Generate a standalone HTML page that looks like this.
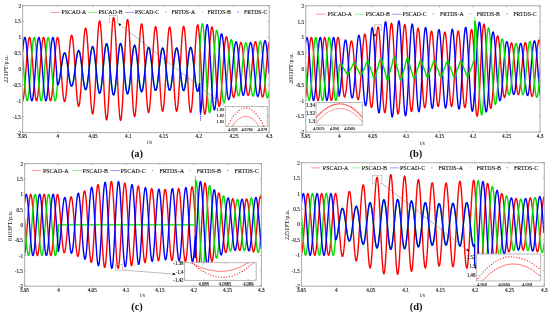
<!DOCTYPE html>
<html><head><meta charset="utf-8"><title>Figure</title>
<style>html,body{margin:0;padding:0;background:#fff;}body{width:550px;height:315px;overflow:hidden;}svg{display:block;filter:blur(0.3px);}</style>
</head><body>
<svg width="550" height="315" viewBox="0 0 550 315"><rect width="550" height="315" fill="#fff"/><clipPath id="ca"><rect x="22.6" y="5.6" width="246.6" height="127.0"/></clipPath><g clip-path="url(#ca)"><polyline points="22.6,100.8 23.0,100.2 23.4,98.5 23.8,95.9 24.2,92.4 24.6,88.2 25.0,83.3 25.4,78.1 25.8,72.5 26.2,66.8 26.6,61.2 27.0,55.8 27.4,50.9 27.8,46.5 28.2,42.9 28.6,40.1 29.0,38.3 29.4,37.4 29.8,37.6 30.2,38.7 30.6,40.9 31.0,43.9 31.4,47.8 31.8,52.3 32.2,57.4 32.6,62.8 33.0,68.5 33.4,74.2 33.8,79.7 34.2,84.9 34.6,89.5 35.0,93.5 35.4,96.8 35.8,99.1 36.2,100.5 36.6,100.8 37.0,100.2 37.4,98.5 37.8,96.0 38.2,92.5 38.6,88.3 39.0,83.5 39.4,78.2 39.8,72.6 40.2,66.9 40.6,61.3 41.0,55.9 41.4,51.0 41.8,46.6 42.2,43.0 42.6,40.2 43.0,38.3 43.4,37.4 43.8,37.5 44.2,38.7 44.6,40.8 45.0,43.8 45.4,47.7 45.8,52.2 46.2,57.3 46.6,62.7 47.0,68.4 47.4,74.0 47.8,79.5 48.2,84.7 48.6,89.4 49.0,93.4 49.4,96.7 49.8,99.0 50.2,100.4 50.6,100.8 51.0,100.2 51.4,98.6 51.8,96.0 52.2,92.6 52.6,88.4 53.0,83.6 53.4,78.3 53.8,72.8 54.2,67.1 54.6,61.5 55.0,56.1 55.4,51.1 55.8,46.7 56.2,43.1 56.6,40.2 56.6,40.2 57.0,38.3 57.4,37.4 57.8,37.5 58.2,38.5 58.6,40.6 59.0,43.6 59.4,47.4 59.8,51.9 60.2,57.0 60.6,62.5 61.0,68.2 61.4,74.0 61.8,79.6 62.2,84.8 62.6,89.6 63.0,93.8 63.4,97.2 63.8,99.6 64.2,101.1 64.6,101.6 65.0,101.0 65.4,99.4 65.8,96.9 66.2,93.4 66.6,89.2 67.0,84.3 67.4,78.8 67.8,73.1 68.2,67.1 68.6,61.2 69.0,55.6 69.4,50.3 69.8,45.6 70.2,41.6 70.6,38.5 71.0,36.4 71.4,35.3 71.8,35.3 72.2,36.3 72.6,38.4 73.0,41.4 73.4,45.4 73.8,50.2 74.2,55.7 74.6,61.7 75.0,67.9 75.4,74.3 75.8,80.6 76.2,86.6 76.6,92.1 77.0,96.9 77.4,100.8 77.8,103.8 78.2,105.7 78.6,106.4 79.0,105.9 79.4,104.3 79.8,101.5 80.2,97.6 80.6,92.7 81.0,87.0 81.4,80.7 81.8,73.9 82.2,66.9 82.6,59.9 83.0,53.2 83.4,46.8 83.8,41.1 84.2,36.3 84.6,32.5 85.0,29.8 85.4,28.3 85.8,28.2 86.2,29.3 86.6,31.8 87.0,35.5 87.4,40.3 87.8,46.1 88.2,52.7 88.6,59.9 89.0,67.5 89.4,75.2 89.8,82.8 90.2,90.0 90.6,96.7 91.0,102.5 91.4,107.3 91.8,110.9 92.2,113.1 92.6,114.0 93.0,113.4 93.4,111.4 93.8,108.0 94.2,103.3 94.6,97.5 95.0,90.7 95.4,83.2 95.8,75.1 96.2,66.7 96.6,58.4 97.0,50.4 97.4,42.8 97.8,36.1 98.2,30.4 98.6,25.8 99.0,22.7 99.4,21.0 99.8,20.9 100.2,22.3 100.6,25.3 101.0,29.7 101.4,35.4 101.8,42.2 102.2,49.9 102.6,58.3 103.0,67.0 103.4,75.9 103.8,84.7 104.2,92.9 104.6,100.5 105.0,107.1 105.4,112.5 105.8,116.5 106.2,119.1 106.6,119.9 107.0,119.2 107.4,116.8 107.8,112.8 108.2,107.5 108.6,100.9 109.0,93.3 109.4,84.9 109.8,75.9 110.2,66.7 110.6,57.6 111.0,48.8 111.4,40.7 111.8,33.5 112.2,27.3 112.6,22.6 113.0,19.3 113.4,17.6 113.8,17.6 114.2,19.2 114.6,22.5 115.0,27.3 115.4,33.4 115.8,40.6 116.2,48.8 116.6,57.6 117.0,66.7 117.4,76.0 117.8,85.0 118.2,93.5 118.6,101.2 119.0,107.8 119.4,113.2 119.8,117.2 120.2,119.7 120.6,120.5 121.0,119.6 121.4,117.1 121.8,113.0 122.2,107.6 122.6,101.0 123.0,93.3 123.4,84.9 123.8,76.1 124.2,67.0 124.6,58.0 125.0,49.5 125.4,41.6 125.8,34.6 126.2,28.7 126.6,24.2 127.0,21.1 127.4,19.5 127.8,19.6 128.2,21.3 128.6,24.5 129.0,29.1 129.4,35.0 129.8,41.9 130.2,49.6 130.6,58.0 131.0,66.6 131.4,75.3 131.8,83.8 132.2,91.7 132.6,98.9 133.0,105.1 133.4,110.0 133.8,113.7 134.2,115.9 134.6,116.6 135.0,115.8 135.4,113.5 135.8,109.7 136.2,104.7 136.6,98.6 137.0,91.6 137.4,83.9 137.8,75.7 138.2,67.4 138.6,59.2 139.0,51.3 139.4,44.1 139.8,37.6 140.2,32.3 140.6,28.1 141.0,25.3 141.4,23.9 141.8,23.9 142.2,25.4 142.6,28.3 143.0,32.5 143.4,37.8 143.8,44.1 144.2,51.2 144.6,58.8 145.0,66.7 145.4,74.6 145.8,82.3 146.2,89.6 146.6,96.2 147.0,101.8 147.4,106.4 147.8,109.8 148.2,111.8 148.6,112.6 149.0,111.9 149.4,109.9 149.8,106.5 150.2,102.0 150.6,96.4 151.0,90.0 151.4,82.9 151.8,75.4 152.2,67.7 152.6,60.1 153.0,52.7 153.4,46.0 153.8,39.9 154.2,34.9 154.6,30.9 155.0,28.2 155.4,26.8 155.8,26.7 156.2,28.0 156.6,30.6 157.0,34.4 157.4,39.3 157.8,45.2 158.2,51.9 158.6,59.1 159.0,66.6 159.4,74.2 159.8,81.6 160.2,88.6 160.6,95.0 161.0,100.5 161.4,105.1 161.8,108.4 162.2,110.5 162.6,111.3 163.0,110.8 163.4,108.9 163.8,105.7 164.2,101.3 164.6,96.0 165.0,89.7 165.4,82.8 165.8,75.5 166.2,67.9 166.6,60.4 167.0,53.2 167.4,46.4 167.8,40.5 168.2,35.4 168.6,31.4 169.0,28.6 169.4,27.1 169.8,27.0 170.2,28.2 170.6,30.7 171.0,34.5 171.4,39.4 171.8,45.2 172.2,51.8 172.6,58.9 173.0,66.4 173.4,74.0 173.8,81.4 174.2,88.4 174.6,94.8 175.0,100.3 175.4,104.9 175.8,108.3 176.2,110.5 176.6,111.3 177.0,110.8 177.4,109.0 177.8,105.9 178.2,101.6 178.6,96.2 179.0,90.0 179.4,83.1 179.8,75.7 180.2,68.1 180.6,60.5 181.0,53.2 181.4,46.4 181.8,40.3 182.2,35.1 182.6,31.0 183.0,28.1 183.4,26.5 183.8,26.3 184.2,27.5 184.6,30.0 185.0,33.8 185.4,38.7 185.8,44.6 186.2,51.3 186.6,58.5 187.0,66.2 187.4,73.9 187.8,81.5 188.2,88.7 188.6,95.3 189.0,101.0 189.4,105.8 189.8,109.4 190.2,111.6 190.6,112.6 191.0,112.1 191.4,110.3 191.8,107.1 192.2,102.7 192.6,97.2 193.0,90.8 193.4,83.7 193.8,76.1 194.2,68.3 194.6,60.4 195.0,52.9 195.4,45.8 195.8,39.4 196.2,34.0 196.6,29.8 197.0,26.7 197.4,25.1 197.8,24.8 198.2,25.9 198.6,28.5 199.0,32.3 199.4,37.4 199.6,40.3 199.6,39.8 200.0,46.3 200.4,53.4 200.8,61.0 201.2,68.9 201.6,76.7 202.0,84.3 202.4,91.5 202.8,98.0 203.2,103.5 203.6,108.1 204.0,111.4 204.4,113.4 204.8,114.2 205.2,113.5 205.6,111.5 206.0,108.3 206.4,103.8 206.8,98.4 207.2,92.0 207.6,84.9 208.0,77.5 208.4,69.8 208.8,62.2 209.2,54.9 209.6,48.0 210.0,41.8 210.4,36.6 210.8,32.3 211.2,29.2 211.6,27.4 212.0,26.8 212.4,27.5 212.8,29.5 213.2,32.7 213.6,36.8 214.0,42.0 214.4,47.8 214.8,54.3 215.2,61.1 215.6,68.0 216.0,74.9 216.4,81.4 216.8,87.5 217.2,93.0 217.6,97.7 218.0,101.5 218.4,104.2 218.8,105.9 219.2,106.4 219.6,105.8 220.0,104.0 220.4,101.2 220.8,97.5 221.2,93.0 221.6,87.9 222.0,82.3 222.4,76.4 222.8,70.4 223.2,64.4 223.6,58.7 224.0,53.4 224.4,48.6 224.8,44.4 225.2,41.1 225.6,38.7 226.0,37.2 226.4,36.7 226.8,37.2 227.2,38.7 227.6,41.1 228.0,44.3 228.4,48.1 228.8,52.6 229.2,57.4 229.6,62.4 230.0,67.6 230.4,72.8 230.8,77.8 231.2,82.5 231.6,86.8 232.0,90.4 232.4,93.3 232.8,95.5 233.2,96.9 233.6,97.4 234.0,97.0 234.4,95.8 234.8,93.9 235.2,91.3 235.6,88.0 236.0,84.2 236.4,79.9 236.8,75.4 237.2,70.7 237.6,66.0 238.0,61.4 238.4,57.1 238.8,53.2 239.2,49.7 239.6,46.9 240.0,44.7 240.4,43.2 240.8,42.5 241.2,42.6 241.6,43.6 242.0,45.3 242.4,47.8 242.8,50.8 243.2,54.4 243.6,58.5 244.0,62.8 244.4,67.3 244.8,71.8 245.2,76.3 245.6,80.6 246.0,84.5 246.4,88.0 246.8,90.9 247.2,93.1 247.6,94.6 248.0,95.4 248.4,95.3 248.8,94.5 249.2,92.9 249.6,90.6 250.0,87.7 250.4,84.2 250.8,80.2 251.2,75.9 251.6,71.3 252.0,66.6 252.4,62.0 252.8,57.6 253.2,53.5 253.6,49.8 254.0,46.7 254.4,44.3 254.8,42.6 255.2,41.7 255.6,41.6 256.0,42.5 256.4,44.1 256.8,46.5 257.2,49.6 257.6,53.3 258.0,57.4 258.4,61.9 258.8,66.6 259.2,71.3 259.6,76.1 260.0,80.7 260.4,84.9 260.8,88.7 261.2,91.8 261.6,94.3 262.0,96.0 262.4,96.9 262.8,97.0 263.2,96.2 263.6,94.7 264.0,92.4 264.4,89.4 264.8,85.7 265.2,81.5 265.6,76.9 266.0,72.1 266.4,67.1 266.8,62.1 267.2,57.4 267.6,53.0 268.0,49.1 268.4,45.8 268.8,43.2 269.0,42.2" fill="none" stroke="#f00" stroke-width="1.4" stroke-linejoin="round" /><polyline points="22.6,54.0 23.0,59.3 23.4,64.8 23.8,70.5 24.2,76.1 24.6,81.5 25.0,86.6 25.4,91.0 25.8,94.8 26.2,97.7 26.6,99.7 27.0,100.7 27.4,100.7 27.8,99.7 28.2,97.7 28.6,94.8 29.0,91.1 29.4,86.7 29.8,81.7 30.2,76.3 30.6,70.6 31.0,64.9 31.4,59.4 31.8,54.2 32.2,49.4 32.6,45.3 33.0,41.9 33.4,39.4 33.8,37.9 34.2,37.4 34.6,37.8 35.0,39.3 35.4,41.8 35.8,45.1 36.2,49.2 36.6,53.9 37.0,59.1 37.4,64.7 37.8,70.3 38.2,76.0 38.6,81.4 39.0,86.4 39.4,90.9 39.8,94.7 40.2,97.6 40.6,99.6 41.0,100.7 41.4,100.7 41.8,99.8 42.2,97.8 42.6,94.9 43.0,91.2 43.4,86.8 43.8,81.8 44.2,76.4 44.6,70.8 45.0,65.1 45.4,59.5 45.8,54.3 46.2,49.5 46.6,45.4 47.0,42.0 47.4,39.5 47.8,37.9 48.2,37.4 48.6,37.8 49.0,39.3 49.4,41.7 49.8,45.0 50.2,49.1 50.6,53.8 51.0,59.0 51.4,64.5 51.8,70.2 52.2,75.8 52.6,81.3 53.0,86.3 53.4,90.8 53.8,94.6 54.2,97.6 54.6,99.6 55.0,100.7 55.4,100.8 55.8,99.8 56.2,97.9 56.6,95.0 56.6,95.0 57.0,89.5 57.4,85.5 57.8,84.9 58.2,84.4 58.6,83.3 59.0,81.9 59.4,79.9 59.8,77.7 60.2,75.1 60.6,72.4 61.0,69.6 61.4,66.7 61.8,63.9 62.2,61.2 62.6,58.8 63.0,56.8 63.4,55.1 63.8,53.8 64.2,53.1 64.6,52.9 65.0,53.1 65.4,53.9 65.8,55.2 66.2,56.9 66.6,59.1 67.0,61.5 67.4,64.2 67.8,67.1 68.2,70.1 68.6,73.0 69.0,75.9 69.4,78.5 69.8,80.9 70.2,82.8 70.6,84.4 71.0,85.4 71.4,86.0 71.8,86.0 72.2,85.5 72.6,84.5 73.0,82.9 73.4,80.9 73.8,78.5 74.2,75.8 74.6,72.8 75.0,69.7 75.4,66.5 75.8,63.3 76.2,60.4 76.6,57.6 77.0,55.2 77.4,53.2 77.8,51.7 78.2,50.8 78.6,50.4 79.0,50.7 79.4,51.5 79.8,52.9 80.2,54.9 80.6,57.3 81.0,60.1 81.4,63.3 81.8,66.7 82.2,70.2 82.6,73.7 83.0,77.1 83.4,80.2 83.8,83.1 84.2,85.5 84.6,87.4 85.0,88.8 85.4,89.5 85.8,89.6 86.2,89.0 86.6,87.7 87.0,85.9 87.4,83.5 87.8,80.6 88.2,77.3 88.6,73.7 89.0,69.9 89.4,66.0 89.8,62.2 90.2,58.6 90.6,55.3 91.0,52.4 91.4,50.0 91.8,48.2 92.2,47.1 92.6,46.6 93.0,46.9 93.4,47.9 93.8,49.6 94.2,52.0 94.6,54.9 95.0,58.3 95.4,62.1 95.8,66.1 96.2,70.3 96.6,74.4 97.0,78.5 97.4,82.2 97.8,85.6 98.2,88.5 98.6,90.7 99.0,92.3 99.4,93.2 99.8,93.2 100.2,92.5 100.6,91.0 101.0,88.8 101.4,86.0 101.8,82.6 102.2,78.7 102.6,74.5 103.0,70.1 103.4,65.7 103.8,61.3 104.2,57.2 104.6,53.4 105.0,50.1 105.4,47.4 105.8,45.4 106.2,44.1 106.6,43.7 107.0,44.1 107.4,45.3 107.8,47.2 108.2,49.9 108.6,53.2 109.0,57.0 109.4,61.2 109.8,65.7 110.2,70.3 110.6,74.8 111.0,79.2 111.4,83.3 111.8,86.9 112.2,90.0 112.6,92.4 113.0,94.0 113.4,94.9 113.8,94.9 114.2,94.0 114.6,92.4 115.0,90.0 115.4,87.0 115.8,83.3 116.2,79.3 116.6,74.9 117.0,70.3 117.4,65.7 117.8,61.2 118.2,56.9 118.6,53.1 119.0,49.7 119.4,47.0 119.8,45.0 120.2,43.8 120.6,43.4 121.0,43.9 121.4,45.1 121.8,47.1 122.2,49.9 122.6,53.2 123.0,57.0 123.4,61.2 123.8,65.6 124.2,70.1 124.6,74.6 125.0,78.9 125.4,82.9 125.8,86.4 126.2,89.3 126.6,91.6 127.0,93.1 127.4,93.9 127.8,93.8 128.2,93.0 128.6,91.4 129.0,89.1 129.4,86.2 129.8,82.7 130.2,78.8 130.6,74.7 131.0,70.3 131.4,66.0 131.8,61.8 132.2,57.8 132.6,54.2 133.0,51.1 133.4,48.6 133.8,46.8 134.2,45.7 134.6,45.3 135.0,45.8 135.4,46.9 135.8,48.8 136.2,51.3 136.6,54.3 137.0,57.9 137.4,61.7 137.8,65.8 138.2,70.0 138.6,74.1 139.0,78.0 139.4,81.6 139.8,84.8 140.2,87.5 140.6,89.6 141.0,91.0 141.4,91.7 141.8,91.7 142.2,90.9 142.6,89.5 143.0,87.4 143.4,84.8 143.8,81.6 144.2,78.1 144.6,74.3 145.0,70.3 145.4,66.3 145.8,62.5 146.2,58.9 146.6,55.6 147.0,52.7 147.4,50.4 147.8,48.8 148.2,47.7 148.6,47.4 149.0,47.7 149.4,48.7 149.8,50.4 150.2,52.7 150.6,55.4 151.0,58.7 151.4,62.2 151.8,66.0 152.2,69.8 152.6,73.6 153.0,77.3 153.4,80.7 153.8,83.7 154.2,86.2 154.6,88.2 155.0,89.6 155.4,90.3 155.8,90.3 156.2,89.7 156.6,88.4 157.0,86.5 157.4,84.0 157.8,81.0 158.2,77.7 158.6,74.1 159.0,70.4 159.4,66.6 159.8,62.9 160.2,59.4 160.6,56.2 161.0,53.4 161.4,51.1 161.8,49.4 162.2,48.4 162.6,48.0 163.0,48.3 163.4,49.2 163.8,50.8 164.2,53.0 164.6,55.7 165.0,58.8 165.4,62.2 165.8,65.9 166.2,69.7 166.6,73.4 167.0,77.1 167.4,80.4 167.8,83.4 168.2,86.0 168.6,88.0 169.0,89.3 169.4,90.1 169.8,90.2 170.2,89.6 170.6,88.3 171.0,86.4 171.4,84.0 171.8,81.1 172.2,77.8 172.6,74.2 173.0,70.4 173.4,66.7 173.8,63.0 174.2,59.5 174.6,56.3 175.0,53.5 175.4,51.2 175.8,49.5 176.2,48.4 176.6,48.0 177.0,48.2 177.4,49.2 177.8,50.7 178.2,52.9 178.6,55.5 179.0,58.7 179.4,62.1 179.8,65.8 180.2,69.6 180.6,73.4 181.0,77.0 181.4,80.5 181.8,83.5 182.2,86.1 182.6,88.2 183.0,89.6 183.4,90.4 183.8,90.5 184.2,89.9 184.6,88.6 185.0,86.8 185.4,84.3 185.8,81.4 186.2,78.0 186.6,74.4 187.0,70.6 187.4,66.7 187.8,62.9 188.2,59.3 188.6,56.0 189.0,53.1 189.4,50.8 189.8,49.0 190.2,47.8 190.6,47.4 191.0,47.6 191.4,48.5 191.8,50.1 192.2,52.3 192.6,55.0 193.0,58.2 193.4,61.8 193.8,65.6 194.2,69.5 194.6,73.4 195.0,77.2 195.4,80.8 195.8,83.9 196.2,86.6 196.6,88.8 197.0,90.3 197.4,91.1 197.8,91.3 198.2,90.7 198.6,89.4 199.0,87.5 199.4,85.0 199.6,83.5 199.6,53.7 200.0,46.5 200.4,40.1 200.8,34.5 201.2,29.9 201.6,26.5 202.0,24.4 202.4,23.7 202.8,24.4 203.2,26.4 203.6,29.7 204.0,34.2 204.4,39.7 204.8,46.1 205.2,53.2 205.6,60.8 206.0,68.5 206.4,76.3 206.8,83.8 207.2,90.9 207.6,97.2 208.0,102.6 208.4,106.9 208.8,110.1 209.2,112.1 209.6,112.7 210.0,112.0 210.4,110.0 210.8,106.7 211.2,102.4 211.6,97.1 212.0,91.0 212.4,84.4 212.8,77.3 213.2,70.1 213.6,62.9 214.0,56.0 214.4,49.6 214.8,43.9 215.2,39.1 215.6,35.2 216.0,32.5 216.4,30.8 216.8,30.3 217.2,30.9 217.6,32.7 218.0,35.6 218.4,39.4 218.8,44.0 219.2,49.4 219.6,55.3 220.0,61.5 220.4,67.8 220.8,74.1 221.2,80.1 221.6,85.7 222.0,90.7 222.4,94.9 222.8,98.4 223.2,100.9 223.6,102.4 224.0,102.9 224.4,102.4 224.8,100.9 225.2,98.5 225.6,95.2 226.0,91.2 226.4,86.5 226.8,81.4 227.2,76.0 227.6,70.5 228.0,65.1 228.4,59.9 228.8,55.1 229.2,50.7 229.6,47.0 230.0,43.9 230.4,41.6 230.8,40.2 231.2,39.6 231.6,40.0 232.0,41.3 232.4,43.3 232.8,46.2 233.2,49.6 233.6,53.6 234.0,58.1 234.4,62.7 234.8,67.5 235.2,72.4 235.6,77.0 236.0,81.4 236.4,85.4 236.8,88.9 237.2,91.8 237.6,93.9 238.0,95.3 238.4,95.9 238.8,95.7 239.2,94.7 239.6,93.0 240.0,90.6 240.4,87.5 240.8,83.9 241.2,79.8 241.6,75.4 242.0,70.9 242.4,66.3 242.8,61.8 243.2,57.6 243.6,53.7 244.0,50.3 244.4,47.5 244.8,45.3 245.2,43.7 245.6,42.9 246.0,42.9 246.4,43.7 246.8,45.4 247.2,47.7 247.6,50.7 248.0,54.2 248.4,58.2 248.8,62.5 249.2,67.0 249.6,71.6 250.0,76.2 250.4,80.5 250.8,84.5 251.2,88.1 251.6,91.2 252.0,93.5 252.4,95.2 252.8,96.1 253.2,96.1 253.6,95.4 254.0,93.8 254.4,91.5 254.8,88.5 255.2,84.9 255.6,80.8 256.0,76.3 256.4,71.5 256.8,66.8 257.2,62.1 257.6,57.6 258.0,53.5 258.4,49.9 258.8,46.8 259.2,44.3 259.6,42.5 260.0,41.5 260.4,41.3 260.8,42.1 261.2,43.7 261.6,46.1 262.0,49.1 262.4,52.8 262.8,57.0 263.2,61.5 263.6,66.3 264.0,71.2 264.4,76.1 264.8,80.7 265.2,85.1 265.6,89.0 266.0,92.3 266.4,94.9 266.8,96.7 267.2,97.7 267.6,97.8 268.0,97.1 268.4,95.5 268.8,93.1 269.0,91.6" fill="none" stroke="#0d0" stroke-width="1.4" stroke-linejoin="round" /><polyline points="22.6,52.4 23.0,47.9 23.4,44.0 23.8,40.9 24.2,38.8 24.6,37.6 25.0,37.4 25.4,38.2 25.8,40.1 26.2,42.8 26.6,46.4 27.0,50.8 27.4,55.7 27.8,61.0 28.2,66.6 28.6,72.3 29.0,77.9 29.4,83.2 29.8,88.1 30.2,92.3 30.6,95.8 31.0,98.4 31.4,100.1 31.8,100.8 32.2,100.5 32.6,99.2 33.0,96.9 33.4,93.7 33.8,89.7 34.2,85.1 34.6,79.9 35.0,74.4 35.4,68.8 35.8,63.1 36.2,57.7 36.6,52.6 37.0,48.0 37.4,44.1 37.8,41.0 38.2,38.8 38.6,37.6 39.0,37.4 39.4,38.2 39.8,40.0 40.2,42.8 40.6,46.3 41.0,50.7 41.4,55.6 41.8,60.9 42.2,66.5 42.6,72.2 43.0,77.8 43.4,83.1 43.8,88.0 44.2,92.2 44.6,95.7 45.0,98.4 45.4,100.1 45.8,100.8 46.2,100.5 46.6,99.2 47.0,97.0 47.4,93.8 47.8,89.8 48.2,85.2 48.6,80.1 49.0,74.6 49.4,68.9 49.8,63.3 50.2,57.8 50.6,52.7 51.0,48.1 51.4,44.2 51.8,41.1 52.2,38.9 52.6,37.6 53.0,37.4 53.4,38.2 53.8,40.0 54.2,42.7 54.6,46.2 55.0,50.5 55.4,55.4 55.8,60.8 56.2,66.4 56.6,72.1 56.6,72.1 57.0,79.4 57.4,84.4 57.8,84.9 58.2,84.4 58.6,83.3 59.0,81.9 59.4,79.9 59.8,77.7 60.2,75.1 60.6,72.4 61.0,69.6 61.4,66.7 61.8,63.9 62.2,61.2 62.6,58.8 63.0,56.8 63.4,55.1 63.8,53.8 64.2,53.1 64.6,52.9 65.0,53.1 65.4,53.9 65.8,55.2 66.2,56.9 66.6,59.1 67.0,61.5 67.4,64.2 67.8,67.1 68.2,70.1 68.6,73.0 69.0,75.9 69.4,78.5 69.8,80.9 70.2,82.8 70.6,84.4 71.0,85.4 71.4,86.0 71.8,86.0 72.2,85.5 72.6,84.5 73.0,82.9 73.4,80.9 73.8,78.5 74.2,75.8 74.6,72.8 75.0,69.7 75.4,66.5 75.8,63.3 76.2,60.4 76.6,57.6 77.0,55.2 77.4,53.2 77.8,51.7 78.2,50.8 78.6,50.4 79.0,50.7 79.4,51.5 79.8,52.9 80.2,54.9 80.6,57.3 81.0,60.1 81.4,63.3 81.8,66.7 82.2,70.2 82.6,73.7 83.0,77.1 83.4,80.2 83.8,83.1 84.2,85.5 84.6,87.4 85.0,88.8 85.4,89.5 85.8,89.6 86.2,89.0 86.6,87.7 87.0,85.9 87.4,83.5 87.8,80.6 88.2,77.3 88.6,73.7 89.0,69.9 89.4,66.0 89.8,62.2 90.2,58.6 90.6,55.3 91.0,52.4 91.4,50.0 91.8,48.2 92.2,47.1 92.6,46.6 93.0,46.9 93.4,47.9 93.8,49.6 94.2,52.0 94.6,54.9 95.0,58.3 95.4,62.1 95.8,66.1 96.2,70.3 96.6,74.4 97.0,78.5 97.4,82.2 97.8,85.6 98.2,88.5 98.6,90.7 99.0,92.3 99.4,93.2 99.8,93.2 100.2,92.5 100.6,91.0 101.0,88.8 101.4,86.0 101.8,82.6 102.2,78.7 102.6,74.5 103.0,70.1 103.4,65.7 103.8,61.3 104.2,57.2 104.6,53.4 105.0,50.1 105.4,47.4 105.8,45.4 106.2,44.1 106.6,43.7 107.0,44.1 107.4,45.3 107.8,47.2 108.2,49.9 108.6,53.2 109.0,57.0 109.4,61.2 109.8,65.7 110.2,70.3 110.6,74.8 111.0,79.2 111.4,83.3 111.8,86.9 112.2,90.0 112.6,92.4 113.0,94.0 113.4,94.9 113.8,94.9 114.2,94.0 114.6,92.4 115.0,90.0 115.4,87.0 115.8,83.3 116.2,79.3 116.6,74.9 117.0,70.3 117.4,65.7 117.8,61.2 118.2,56.9 118.6,53.1 119.0,49.7 119.4,47.0 119.8,45.0 120.2,43.8 120.6,43.4 121.0,43.9 121.4,45.1 121.8,47.1 122.2,49.9 122.6,53.2 123.0,57.0 123.4,61.2 123.8,65.6 124.2,70.1 124.6,74.6 125.0,78.9 125.4,82.9 125.8,86.4 126.2,89.3 126.6,91.6 127.0,93.1 127.4,93.9 127.8,93.8 128.2,93.0 128.6,91.4 129.0,89.1 129.4,86.2 129.8,82.7 130.2,78.8 130.6,74.7 131.0,70.3 131.4,66.0 131.8,61.8 132.2,57.8 132.6,54.2 133.0,51.1 133.4,48.6 133.8,46.8 134.2,45.7 134.6,45.3 135.0,45.8 135.4,46.9 135.8,48.8 136.2,51.3 136.6,54.3 137.0,57.9 137.4,61.7 137.8,65.8 138.2,70.0 138.6,74.1 139.0,78.0 139.4,81.6 139.8,84.8 140.2,87.5 140.6,89.6 141.0,91.0 141.4,91.7 141.8,91.7 142.2,90.9 142.6,89.5 143.0,87.4 143.4,84.8 143.8,81.6 144.2,78.1 144.6,74.3 145.0,70.3 145.4,66.3 145.8,62.5 146.2,58.9 146.6,55.6 147.0,52.7 147.4,50.4 147.8,48.8 148.2,47.7 148.6,47.4 149.0,47.7 149.4,48.7 149.8,50.4 150.2,52.7 150.6,55.4 151.0,58.7 151.4,62.2 151.8,66.0 152.2,69.8 152.6,73.6 153.0,77.3 153.4,80.7 153.8,83.7 154.2,86.2 154.6,88.2 155.0,89.6 155.4,90.3 155.8,90.3 156.2,89.7 156.6,88.4 157.0,86.5 157.4,84.0 157.8,81.0 158.2,77.7 158.6,74.1 159.0,70.4 159.4,66.6 159.8,62.9 160.2,59.4 160.6,56.2 161.0,53.4 161.4,51.1 161.8,49.4 162.2,48.4 162.6,48.0 163.0,48.3 163.4,49.2 163.8,50.8 164.2,53.0 164.6,55.7 165.0,58.8 165.4,62.2 165.8,65.9 166.2,69.7 166.6,73.4 167.0,77.1 167.4,80.4 167.8,83.4 168.2,86.0 168.6,88.0 169.0,89.3 169.4,90.1 169.8,90.2 170.2,89.6 170.6,88.3 171.0,86.4 171.4,84.0 171.8,81.1 172.2,77.8 172.6,74.2 173.0,70.4 173.4,66.7 173.8,63.0 174.2,59.5 174.6,56.3 175.0,53.5 175.4,51.2 175.8,49.5 176.2,48.4 176.6,48.0 177.0,48.2 177.4,49.2 177.8,50.7 178.2,52.9 178.6,55.5 179.0,58.7 179.4,62.1 179.8,65.8 180.2,69.6 180.6,73.4 181.0,77.0 181.4,80.5 181.8,83.5 182.2,86.1 182.6,88.2 183.0,89.6 183.4,90.4 183.8,90.5 184.2,89.9 184.6,88.6 185.0,86.8 185.4,84.3 185.8,81.4 186.2,78.0 186.6,74.4 187.0,70.6 187.4,66.7 187.8,62.9 188.2,59.3 188.6,56.0 189.0,53.1 189.4,50.8 189.8,49.0 190.2,47.8 190.6,47.4 191.0,47.6 191.4,48.5 191.8,50.1 192.2,52.3 192.6,55.0 193.0,58.2 193.4,61.8 193.8,65.6 194.2,69.5 194.6,73.4 195.0,77.2 195.4,80.8 195.8,83.9 196.2,86.6 196.6,88.8 197.0,90.3 197.4,91.1 197.8,91.3 198.2,90.7 198.6,89.4 199.0,87.5 199.4,85.0 199.6,83.5 200.3,111.3 200.6,113.0 201.0,110.3 201.4,106.4 201.8,101.4 202.2,95.4 202.6,88.6 203.0,81.2 203.4,73.4 203.8,65.6 204.2,57.9 204.6,50.5 205.0,43.7 205.4,37.7 205.8,32.6 206.2,28.7 206.6,26.0 207.0,24.6 207.4,24.7 207.8,26.1 208.2,28.7 208.6,32.6 209.0,37.6 209.4,43.4 209.8,50.0 210.2,57.1 210.6,64.5 211.0,72.0 211.4,79.3 211.8,86.2 212.2,92.5 212.6,98.1 213.0,102.7 213.4,106.2 213.8,108.6 214.2,109.7 214.6,109.7 215.0,108.3 215.4,105.7 215.8,102.1 216.2,97.6 216.6,92.3 217.0,86.5 217.4,80.2 217.8,73.6 218.2,67.0 218.6,60.5 219.0,54.4 219.4,48.8 219.8,43.9 220.2,39.9 220.6,36.9 221.0,34.8 221.4,33.9 221.8,33.9 222.2,35.0 222.6,37.1 223.0,40.1 223.4,44.0 223.8,48.5 224.2,53.6 224.6,59.1 225.0,64.8 225.4,70.6 225.8,76.2 226.2,81.6 226.6,86.5 227.0,90.7 227.4,94.2 227.8,96.9 228.2,98.7 228.6,99.6 229.0,99.5 229.4,98.6 229.8,96.9 230.2,94.4 230.6,91.1 231.0,87.3 231.4,82.9 231.8,78.1 232.2,73.1 232.6,68.1 233.0,63.2 233.4,58.5 233.8,54.2 234.2,50.4 234.6,47.2 235.0,44.7 235.4,42.9 235.8,41.9 236.2,41.7 236.6,42.4 237.0,43.8 237.4,46.0 237.8,48.9 238.2,52.3 238.6,56.3 239.0,60.6 239.4,65.1 239.8,69.7 240.2,74.3 240.6,78.8 241.0,82.9 241.4,86.6 241.8,89.8 242.2,92.3 242.6,94.1 243.0,95.1 243.4,95.3 243.8,94.8 244.2,93.4 244.6,91.5 245.0,88.9 245.4,85.7 245.8,81.9 246.2,77.8 246.6,73.3 247.0,68.8 247.4,64.2 247.8,59.8 248.2,55.7 248.6,52.0 249.0,48.8 249.4,46.1 249.8,44.1 250.2,42.9 250.6,42.5 251.0,42.8 251.4,44.0 251.8,45.9 252.2,48.5 252.6,51.8 253.0,55.6 253.4,59.9 253.8,64.4 254.2,69.1 254.6,73.9 255.0,78.5 255.4,82.9 255.8,86.8 256.2,90.2 256.6,92.9 257.0,94.9 257.4,96.1 257.8,96.5 258.2,96.1 258.6,94.8 259.0,92.9 259.4,90.3 259.8,87.0 260.2,83.2 260.6,78.9 261.0,74.2 261.4,69.4 261.8,64.5 262.2,59.8 262.6,55.4 263.0,51.4 263.4,47.8 263.8,44.9 264.2,42.7 264.6,41.2 265.0,40.6 265.4,40.9 265.8,42.1 266.2,44.1 266.6,46.8 267.0,50.3 267.4,54.3 267.8,58.7 268.2,63.5 268.6,68.5 269.0,73.5" fill="none" stroke="#00f" stroke-width="1.4" stroke-linejoin="round" /></g><rect x="22.6" y="5.6" width="246.6" height="127.0" fill="none" stroke="#b0b0b0" stroke-width="1.05"/><text transform="translate(22.60 137.70) scale(0.920 1)" font-size="5.70" text-anchor="middle" font-family="'Liberation Serif', serif" fill="#111" stroke="#111" stroke-width="0.12" font-weight="normal" >3.95</text><text transform="translate(57.83 137.70) scale(0.920 1)" font-size="5.70" text-anchor="middle" font-family="'Liberation Serif', serif" fill="#111" stroke="#111" stroke-width="0.12" font-weight="normal" >4</text><text transform="translate(93.06 137.70) scale(0.920 1)" font-size="5.70" text-anchor="middle" font-family="'Liberation Serif', serif" fill="#111" stroke="#111" stroke-width="0.12" font-weight="normal" >4.05</text><text transform="translate(128.29 137.70) scale(0.920 1)" font-size="5.70" text-anchor="middle" font-family="'Liberation Serif', serif" fill="#111" stroke="#111" stroke-width="0.12" font-weight="normal" >4.1</text><text transform="translate(163.51 137.70) scale(0.920 1)" font-size="5.70" text-anchor="middle" font-family="'Liberation Serif', serif" fill="#111" stroke="#111" stroke-width="0.12" font-weight="normal" >4.15</text><text transform="translate(198.74 137.70) scale(0.920 1)" font-size="5.70" text-anchor="middle" font-family="'Liberation Serif', serif" fill="#111" stroke="#111" stroke-width="0.12" font-weight="normal" >4.2</text><text transform="translate(233.97 137.70) scale(0.920 1)" font-size="5.70" text-anchor="middle" font-family="'Liberation Serif', serif" fill="#111" stroke="#111" stroke-width="0.12" font-weight="normal" >4.25</text><text transform="translate(269.20 137.70) scale(0.920 1)" font-size="5.70" text-anchor="middle" font-family="'Liberation Serif', serif" fill="#111" stroke="#111" stroke-width="0.12" font-weight="normal" >4.3</text><text transform="translate(21.00 7.60) scale(0.920 1)" font-size="5.70" text-anchor="end" font-family="'Liberation Serif', serif" fill="#111" stroke="#111" stroke-width="0.12" font-weight="normal" >2</text><text transform="translate(21.00 23.47) scale(0.920 1)" font-size="5.70" text-anchor="end" font-family="'Liberation Serif', serif" fill="#111" stroke="#111" stroke-width="0.12" font-weight="normal" >1.5</text><text transform="translate(21.00 39.35) scale(0.920 1)" font-size="5.70" text-anchor="end" font-family="'Liberation Serif', serif" fill="#111" stroke="#111" stroke-width="0.12" font-weight="normal" >1</text><text transform="translate(21.00 55.22) scale(0.920 1)" font-size="5.70" text-anchor="end" font-family="'Liberation Serif', serif" fill="#111" stroke="#111" stroke-width="0.12" font-weight="normal" >0.5</text><text transform="translate(21.00 71.10) scale(0.920 1)" font-size="5.70" text-anchor="end" font-family="'Liberation Serif', serif" fill="#111" stroke="#111" stroke-width="0.12" font-weight="normal" >0</text><text transform="translate(21.00 86.97) scale(0.920 1)" font-size="5.70" text-anchor="end" font-family="'Liberation Serif', serif" fill="#111" stroke="#111" stroke-width="0.12" font-weight="normal" >-0.5</text><text transform="translate(21.00 102.85) scale(0.920 1)" font-size="5.70" text-anchor="end" font-family="'Liberation Serif', serif" fill="#111" stroke="#111" stroke-width="0.12" font-weight="normal" >-1</text><text transform="translate(21.00 118.72) scale(0.920 1)" font-size="5.70" text-anchor="end" font-family="'Liberation Serif', serif" fill="#111" stroke="#111" stroke-width="0.12" font-weight="normal" >-1.5</text><text transform="translate(21.00 134.60) scale(0.920 1)" font-size="5.70" text-anchor="end" font-family="'Liberation Serif', serif" fill="#111" stroke="#111" stroke-width="0.12" font-weight="normal" >-2</text><path d="M22.6 132.6v-1.6M22.6 5.6v1.6 M57.8 132.6v-1.6M57.8 5.6v1.6 M93.1 132.6v-1.6M93.1 5.6v1.6 M128.3 132.6v-1.6M128.3 5.6v1.6 M163.5 132.6v-1.6M163.5 5.6v1.6 M198.7 132.6v-1.6M198.7 5.6v1.6 M234.0 132.6v-1.6M234.0 5.6v1.6 M269.2 132.6v-1.6M269.2 5.6v1.6 M22.6 5.6h1.6M269.2 5.6h-1.6 M22.6 21.5h1.6M269.2 21.5h-1.6 M22.6 37.3h1.6M269.2 37.3h-1.6 M22.6 53.2h1.6M269.2 53.2h-1.6 M22.6 69.1h1.6M269.2 69.1h-1.6 M22.6 85.0h1.6M269.2 85.0h-1.6 M22.6 100.8h1.6M269.2 100.8h-1.6 M22.6 116.7h1.6M269.2 116.7h-1.6 M22.6 132.6h1.6M269.2 132.6h-1.6" stroke="#999" stroke-width="0.6" fill="none"/><text x="8.0" y="69.0" font-size="6.20" text-anchor="middle" font-family="'Liberation Serif', serif" fill="#111" font-weight="normal" transform="rotate(-90 8.0 69.0)">221PT/p.u.</text><text x="149.7" y="143.7" font-size="5.20" text-anchor="middle" font-family="'Liberation Serif', serif" fill="#111" font-weight="normal" >t/s</text><text x="137.0" y="157.2" font-size="10.50" text-anchor="middle" font-family="'Liberation Serif', serif" fill="#111" font-weight="bold" >(a)</text><line x1="50.4" y1="12.4" x2="59.9" y2="12.4" stroke="#f00" stroke-width="0.9" stroke-opacity="0.45"/><text transform="translate(61.60 13.90) scale(0.910 1)" font-size="6.30" text-anchor="start" font-family="'Liberation Serif', serif" fill="#111" stroke="#111" stroke-width="0.12" font-weight="normal" >PSCAD-A</text><line x1="88.0" y1="12.4" x2="97.5" y2="12.4" stroke="#0d0" stroke-width="0.9" stroke-opacity="0.45"/><text transform="translate(98.40 13.90) scale(0.910 1)" font-size="6.30" text-anchor="start" font-family="'Liberation Serif', serif" fill="#111" stroke="#111" stroke-width="0.12" font-weight="normal" >PSCAD-B</text><line x1="125.0" y1="12.4" x2="134.5" y2="12.4" stroke="#00f" stroke-width="0.9" stroke-opacity="0.45"/><text transform="translate(135.00 13.90) scale(0.910 1)" font-size="6.30" text-anchor="start" font-family="'Liberation Serif', serif" fill="#111" stroke="#111" stroke-width="0.12" font-weight="normal" >PSCAD-C</text><circle cx="166.0" cy="12.2" r="0.75" fill="#f00" fill-opacity="0.5"/><text transform="translate(171.50 13.90) scale(0.910 1)" font-size="6.30" text-anchor="start" font-family="'Liberation Serif', serif" fill="#111" stroke="#111" stroke-width="0.12" font-weight="normal" >FRTDS-A</text><circle cx="202.6" cy="12.2" r="0.75" fill="#0d0" fill-opacity="0.5"/><text transform="translate(207.60 13.90) scale(0.910 1)" font-size="6.30" text-anchor="start" font-family="'Liberation Serif', serif" fill="#111" stroke="#111" stroke-width="0.12" font-weight="normal" >FRTDS-B</text><circle cx="238.3" cy="12.2" r="0.75" fill="#00f" fill-opacity="0.5"/><text transform="translate(244.00 13.90) scale(0.910 1)" font-size="6.30" text-anchor="start" font-family="'Liberation Serif', serif" fill="#111" stroke="#111" stroke-width="0.12" font-weight="normal" >FRTDS-C</text><clipPath id="cb"><rect x="305.7" y="5.8" width="234.4" height="126.3"/></clipPath><g clip-path="url(#cb)"><polyline points="305.6,97.6 306.0,94.6 306.4,90.7 306.8,86.0 307.2,80.7 307.6,75.0 308.0,69.1 308.4,63.2 308.8,57.5 309.2,52.2 309.6,47.5 310.0,43.5 310.4,40.5 310.8,38.4 311.2,37.5 311.6,37.6 312.0,38.8 312.4,41.2 312.8,44.4 313.2,48.6 313.6,53.5 314.0,58.9 314.4,64.7 314.8,70.6 315.2,76.5 315.6,82.1 316.0,87.2 316.4,91.7 316.8,95.4 317.2,98.2 317.6,99.9 318.0,100.5 318.4,100.0 318.8,98.4 319.2,95.8 319.6,92.2 320.0,87.8 320.4,82.8 320.8,77.2 321.2,71.4 321.6,65.4 322.0,59.6 322.4,54.1 322.8,49.2 323.2,44.9 323.6,41.5 324.0,39.1 324.4,37.7 324.8,37.4 325.2,38.2 325.6,40.2 326.0,43.1 326.4,47.0 326.8,51.6 327.2,56.8 327.6,62.5 328.0,68.4 328.4,74.3 328.8,80.0 329.2,85.4 329.6,90.1 330.0,94.1 330.4,97.3 330.8,99.4 331.2,100.4 331.6,100.3 332.0,99.2 332.4,96.9 332.8,93.7 333.2,89.6 333.6,84.7 334.0,79.3 334.4,73.6 334.8,67.7 335.2,61.8 335.6,56.1 336.0,51.0 336.4,46.4 336.8,42.7 337.2,39.9 337.6,38.1 338.0,37.4 338.4,37.8 338.8,39.3 339.1,41.2 339.1,41.2 339.5,44.7 339.9,49.0 340.3,53.9 340.7,59.2 341.1,64.9 341.5,70.5 341.9,76.1 342.3,81.3 342.7,85.9 343.1,89.9 343.5,93.1 343.9,95.4 344.3,96.7 344.7,97.0 345.1,96.4 345.5,94.7 345.9,92.3 346.3,89.3 346.7,85.4 347.1,81.0 347.5,76.2 347.9,71.1 348.3,65.9 348.7,60.7 349.1,55.9 349.5,51.5 349.9,47.7 350.3,44.7 350.7,42.5 351.1,41.2 351.5,40.9 351.9,41.6 352.3,43.2 352.7,45.7 353.1,49.0 353.5,53.1 353.9,57.8 354.3,63.0 354.7,68.4 355.1,74.0 355.5,79.4 355.9,84.5 356.3,89.1 356.7,93.0 357.1,96.1 357.5,98.3 357.9,99.5 358.3,99.6 358.7,98.7 359.1,96.7 359.5,93.7 359.9,89.7 360.3,85.0 360.7,79.6 361.1,73.7 361.5,67.6 361.9,61.4 362.3,55.4 362.7,49.8 363.1,44.8 363.5,40.6 363.9,37.3 364.3,35.1 364.7,34.1 365.1,34.3 365.5,35.8 365.9,38.5 366.3,42.3 366.7,47.1 367.1,52.7 367.5,59.0 367.9,65.7 368.3,72.6 368.7,79.5 369.1,86.1 369.5,92.1 369.9,97.4 370.3,101.7 370.7,104.9 371.1,106.9 371.5,107.5 371.9,106.8 372.3,104.7 372.7,101.4 373.1,96.8 373.5,91.2 373.9,84.7 374.3,77.6 374.7,70.1 375.1,62.5 375.5,55.1 375.9,48.0 376.3,41.7 376.7,36.2 377.1,31.9 377.5,28.8 377.9,27.1 378.3,26.9 378.7,28.2 379.1,31.1 379.5,35.3 379.9,40.7 380.3,47.1 380.7,54.4 381.1,62.2 381.5,70.2 381.9,78.3 382.3,86.0 382.7,93.2 383.1,99.6 383.5,104.9 383.9,108.9 384.3,111.6 384.7,112.7 385.1,112.4 385.5,110.5 385.9,107.1 386.3,102.3 386.7,96.3 387.1,89.4 387.5,81.6 387.9,73.4 388.3,65.0 388.7,56.7 389.1,48.7 389.5,41.5 389.9,35.1 390.3,30.0 390.7,26.2 391.1,23.8 391.5,23.2 391.9,24.2 392.3,26.9 392.7,31.0 393.1,36.4 393.5,43.0 393.9,50.5 394.3,58.6 394.7,67.1 395.1,75.6 395.5,83.9 395.9,91.6 396.3,98.6 396.7,104.4 397.1,109.0 397.5,112.2 397.9,113.9 398.3,113.9 398.7,112.4 399.1,109.3 399.5,104.9 399.9,99.1 400.3,92.3 400.7,84.7 401.1,76.6 401.5,68.2 401.9,59.8 402.3,51.8 402.7,44.4 403.1,37.8 403.5,32.4 403.9,28.3 404.3,25.6 404.7,24.5 405.1,25.0 405.5,27.1 405.9,30.6 406.3,35.4 406.7,41.4 407.1,48.4 407.5,56.0 407.9,64.1 408.3,72.3 408.7,80.3 409.1,87.9 409.5,94.8 409.9,100.7 410.3,105.5 410.7,109.0 411.1,111.0 411.5,111.5 411.9,110.6 412.3,108.2 412.7,104.4 413.1,99.4 413.5,93.3 413.9,86.4 414.3,79.0 414.7,71.2 415.1,63.3 415.5,55.7 415.9,48.6 416.3,42.3 416.7,36.9 417.1,32.7 417.5,29.8 417.9,28.3 418.3,28.2 418.7,29.6 419.1,32.4 419.5,36.4 419.9,41.5 420.3,47.6 420.7,54.4 421.1,61.7 421.5,69.2 421.9,76.6 422.3,83.7 422.7,90.3 423.1,96.0 423.5,100.8 423.9,104.4 424.3,106.8 424.7,107.8 425.1,107.4 425.5,105.7 425.9,102.8 426.3,98.6 426.7,93.4 427.1,87.4 427.5,80.7 427.9,73.7 428.3,66.5 428.7,59.4 429.1,52.6 429.5,46.5 429.9,41.2 430.3,36.8 430.7,33.7 431.1,31.7 431.5,31.1 431.9,31.8 432.3,33.8 432.7,37.0 433.1,41.4 433.5,46.7 433.9,52.8 434.3,59.5 434.7,66.5 435.1,73.6 435.5,80.5 435.9,87.0 436.3,92.9 436.7,97.9 437.1,101.9 437.5,104.7 437.9,106.2 438.3,106.4 438.7,105.3 439.1,102.9 439.5,99.3 439.9,94.7 440.3,89.1 440.7,82.9 441.1,76.1 441.5,69.2 441.9,62.2 442.3,55.5 442.7,49.3 443.1,43.7 443.5,39.1 443.9,35.6 444.3,33.2 444.7,32.1 445.1,32.2 445.5,33.7 445.9,36.3 446.3,40.2 446.7,45.0 447.1,50.8 447.5,57.1 447.9,63.9 448.3,70.9 448.7,77.9 449.1,84.5 449.5,90.6 449.9,96.0 450.3,100.4 450.7,103.7 451.1,105.7 451.5,106.5 451.9,106.0 452.3,104.1 452.7,101.0 453.1,96.7 453.5,91.5 453.9,85.4 454.3,78.8 454.7,71.8 455.1,64.7 455.5,57.8 455.9,51.2 456.3,45.3 456.7,40.2 457.1,36.1 457.5,33.1 457.9,31.4 458.3,31.0 458.7,32.0 459.1,34.3 459.5,37.8 459.9,42.4 460.3,47.9 460.7,54.3 461.1,61.1 461.5,68.3 461.9,75.5 462.3,82.5 462.7,89.0 463.1,94.8 463.5,99.8 463.9,103.6 464.3,106.3 464.7,107.6 465.1,107.6 465.5,106.2 465.9,103.4 466.3,99.5 466.7,94.4 467.1,88.5 467.5,81.8 467.9,74.7 468.3,67.3 468.7,60.0 469.1,53.0 469.5,46.6 469.9,40.9 470.3,36.2 470.7,32.7 471.1,30.4 471.5,29.4 471.9,29.8 472.3,31.5 472.7,34.6 473.1,39.0 473.5,44.4 473.9,50.8 474.3,57.8 474.4,59.7 474.4,84.4 474.8,92.3 475.2,99.5 475.6,105.6 476.0,110.4 476.4,113.9 476.8,115.8 477.2,116.2 477.6,115.1 478.0,112.5 478.4,108.4 478.8,102.9 479.2,96.4 479.6,89.0 480.0,80.9 480.4,72.4 480.8,63.9 481.2,55.7 481.6,47.9 482.0,40.9 482.4,34.9 482.8,30.1 483.2,26.7 483.6,24.7 484.0,24.1 484.4,25.2 484.8,27.7 485.2,31.5 485.6,36.6 486.0,42.6 486.4,49.4 486.8,56.7 487.2,64.4 487.6,72.1 488.0,79.5 488.4,86.5 488.8,92.8 489.2,98.3 489.6,102.7 490.0,105.9 490.4,107.8 490.8,108.4 491.2,107.7 491.6,105.5 492.0,102.2 492.4,97.8 492.8,92.7 493.2,86.9 493.6,80.7 494.0,74.1 494.4,67.5 494.8,61.0 495.2,54.9 495.6,49.3 496.0,44.6 496.4,40.8 496.8,38.1 497.2,36.4 497.6,35.9 498.0,36.2 498.4,37.7 498.8,40.1 499.2,43.5 499.6,47.7 500.0,52.5 500.4,57.9 500.8,63.5 501.2,69.1 501.6,74.7 502.0,79.9 502.4,84.7 502.8,88.9 503.2,92.4 503.6,95.0 504.0,96.7 504.4,97.5 504.8,97.3 505.2,96.2 505.6,94.2 506.0,91.5 506.4,88.0 506.8,83.9 507.2,79.4 507.6,74.6 508.0,69.7 508.4,64.9 508.8,60.3 509.2,56.0 509.6,52.2 510.0,48.8 510.4,46.1 510.8,44.2 511.2,43.0 511.6,42.8 512.0,43.5 512.4,45.1 512.8,47.5 513.2,50.6 513.6,54.2 514.0,58.3 514.4,62.7 514.8,67.3 515.2,72.0 515.6,76.6 516.0,80.9 516.4,84.8 516.8,88.2 517.2,90.9 517.6,92.9 518.0,94.2 518.4,94.5 518.8,94.0 519.2,92.7 519.6,90.6 520.0,87.8 520.4,84.3 520.8,80.4 521.2,76.0 521.6,71.4 522.0,66.8 522.4,62.2 522.8,57.8 523.2,53.8 523.6,50.2 524.0,47.2 524.4,44.8 524.8,43.3 525.2,42.6 525.6,42.8 526.0,44.0 526.4,46.0 526.8,48.8 527.2,52.3 527.6,56.3 528.0,60.7 528.4,65.4 528.8,70.3 529.2,75.3 529.6,80.1 530.0,84.5 530.4,88.3 530.8,91.5 531.2,94.0 531.6,95.6 532.0,96.4 532.4,96.3 532.8,95.3 533.2,93.4 533.6,90.7 534.0,87.3 534.4,83.2 534.8,78.6 535.2,73.6 535.6,68.5 536.0,63.3 536.4,58.3 536.8,53.7 537.2,49.5 537.6,45.9 538.0,43.1 538.4,41.1 538.8,40.1 539.2,40.0 539.6,40.9 540.0,42.7 540.4,45.5 540.8,49.0 541.0,51.0" fill="none" stroke="#f00" stroke-width="1.4" stroke-linejoin="round" /><polyline points="305.6,43.1 306.0,40.2 306.4,38.2 306.8,37.4 307.2,37.7 307.6,39.1 308.0,41.5 308.4,44.9 308.8,49.2 309.2,54.1 309.6,59.6 310.0,65.4 310.4,71.4 310.8,77.2 311.2,82.8 311.6,87.8 312.0,92.2 312.4,95.8 312.8,98.4 313.2,100.0 313.6,100.5 314.0,99.9 314.4,98.2 314.8,95.4 315.2,91.7 315.6,87.2 316.0,82.1 316.4,76.5 316.8,70.6 317.2,64.7 317.6,58.9 318.0,53.5 318.4,48.6 318.8,44.4 319.2,41.2 319.6,38.8 320.0,37.6 320.4,37.5 320.8,38.4 321.2,40.5 321.6,43.5 322.0,47.5 322.4,52.2 322.8,57.5 323.2,63.2 323.6,69.1 324.0,75.0 324.4,80.7 324.8,86.0 325.2,90.7 325.6,94.6 326.0,97.6 326.4,99.6 326.8,100.5 327.2,100.3 327.6,98.9 328.0,96.6 328.4,93.2 328.8,89.0 329.2,84.1 329.6,78.6 330.0,72.8 330.4,66.9 330.8,61.0 331.2,55.5 331.6,50.4 332.0,45.9 332.4,42.3 332.8,39.6 333.2,37.9 333.6,37.4 334.0,37.9 334.4,39.6 334.8,42.3 335.2,45.9 335.6,50.4 336.0,55.5 336.4,61.0 336.8,66.9 337.2,72.8 337.6,78.6 338.0,84.1 338.4,89.0 338.8,93.2 339.1,95.8 339.1,96.2 339.5,95.2 339.9,93.2 340.3,90.3 340.7,86.7 341.1,82.4 341.5,77.6 341.9,72.4 342.3,67.1 342.7,61.9 343.1,56.8 343.5,52.2 343.9,48.1 344.3,44.7 344.7,42.2 345.1,40.6 345.5,40.0 345.9,40.4 346.3,41.9 346.7,44.4 347.1,47.8 347.5,51.8 347.9,56.5 348.3,61.7 348.7,67.1 349.1,72.5 349.5,77.9 349.9,82.9 350.3,87.4 350.7,91.3 351.1,94.4 351.5,96.5 351.9,97.8 352.3,97.9 352.7,97.1 353.1,95.6 353.5,93.0 353.9,89.6 354.3,85.3 354.7,80.4 355.1,74.9 355.5,69.1 355.9,63.2 356.3,57.4 356.7,51.9 357.1,47.0 357.5,42.7 357.9,39.2 358.3,36.8 358.7,35.5 359.1,35.3 359.5,36.4 359.9,38.7 360.3,42.2 360.7,46.6 361.1,51.9 361.5,57.8 361.9,64.2 362.3,70.8 362.7,77.4 363.1,83.8 363.5,89.8 363.9,95.0 364.3,99.4 364.7,102.7 365.1,104.9 365.5,105.8 365.9,105.4 366.3,103.8 366.7,100.9 367.1,96.9 367.5,91.8 367.9,85.8 368.3,79.1 368.7,71.9 369.1,64.6 369.5,57.3 369.9,50.3 370.3,43.8 370.7,38.2 371.1,33.6 371.5,30.2 371.9,28.1 372.3,27.6 372.7,28.5 373.1,30.9 373.5,34.6 373.9,39.6 374.3,45.7 374.7,52.7 375.1,60.3 375.5,68.2 375.9,76.2 376.3,84.1 376.7,91.4 377.1,98.0 377.5,103.6 377.9,108.1 378.3,111.1 378.7,112.7 379.1,112.8 379.5,111.4 379.9,108.4 380.3,104.0 380.7,98.3 381.1,91.5 381.5,83.9 381.9,75.6 382.3,67.1 382.7,58.5 383.1,50.2 383.5,42.5 383.9,35.7 384.3,30.0 384.7,25.7 385.1,22.8 385.5,21.6 385.9,22.2 386.3,24.4 386.7,28.2 387.1,33.5 387.5,40.0 387.9,47.6 388.3,55.9 388.7,64.7 389.1,73.7 389.5,82.5 389.9,90.9 390.3,98.5 390.7,105.0 391.1,110.3 391.5,114.2 391.9,116.4 392.3,117.0 392.7,115.8 393.1,113.0 393.5,108.6 393.9,102.9 394.3,95.9 394.7,88.0 395.1,79.4 395.5,70.4 395.9,61.3 396.3,52.5 396.7,44.3 397.1,37.0 397.5,30.8 397.9,25.9 398.3,22.6 398.7,20.9 399.1,21.0 399.5,22.8 399.9,26.2 400.3,31.0 400.7,37.3 401.1,44.6 401.5,52.7 401.9,61.4 402.3,70.3 402.7,79.2 403.1,87.7 403.5,95.5 403.9,102.3 404.3,107.9 404.7,112.1 405.1,114.8 405.5,115.9 405.9,115.2 406.3,113.0 406.7,109.2 407.1,104.0 407.5,97.6 407.9,90.2 408.3,82.1 408.7,73.5 409.1,64.9 409.5,56.5 409.9,48.5 410.3,41.3 410.7,35.1 411.1,30.1 411.5,26.6 411.9,24.5 412.3,24.0 412.7,25.2 413.1,27.8 413.5,31.9 413.9,37.3 414.3,43.7 414.7,51.0 415.1,58.9 415.5,67.1 415.9,75.4 416.3,83.3 416.7,90.7 417.1,97.3 417.5,102.8 417.9,107.1 418.3,110.0 418.7,111.6 419.1,111.6 419.5,110.1 419.9,107.2 420.3,102.9 420.7,97.5 421.1,91.0 421.5,83.8 421.9,76.1 422.3,68.2 422.7,60.3 423.1,52.8 423.5,45.9 423.9,39.8 424.3,34.7 424.7,30.9 425.1,28.5 425.5,27.5 425.9,28.0 426.3,29.9 426.7,33.2 427.1,37.8 427.5,43.4 427.9,49.8 428.3,56.9 428.7,64.4 429.1,72.0 429.5,79.5 429.9,86.5 430.3,92.9 430.7,98.3 431.1,102.7 431.5,105.9 431.9,107.8 432.3,108.4 432.7,107.6 433.1,105.5 433.5,102.0 433.9,97.4 434.3,91.8 434.7,85.4 435.1,78.4 435.5,71.0 435.9,63.6 436.3,56.4 436.7,49.6 437.1,43.5 437.5,38.3 437.9,34.2 438.3,31.3 438.7,29.8 439.1,29.6 439.5,30.8 439.9,33.4 440.3,37.2 440.7,42.2 441.1,48.1 441.5,54.7 441.9,61.8 442.3,69.2 442.7,76.5 443.1,83.6 443.5,90.1 443.9,95.9 444.3,100.8 444.7,104.5 445.1,106.9 445.5,108.0 445.9,107.8 446.3,106.2 446.7,103.3 447.1,99.2 447.5,93.9 447.9,87.8 448.3,81.0 448.7,73.8 449.1,66.4 449.5,59.1 449.9,52.1 450.3,45.6 450.7,40.0 451.1,35.4 451.5,32.0 451.9,29.9 452.3,29.2 452.7,29.8 453.1,31.9 453.5,35.3 453.9,39.9 454.3,45.5 454.7,51.9 455.1,59.0 455.5,66.4 455.9,73.9 456.3,81.2 456.7,88.1 457.1,94.4 457.5,99.7 457.9,104.0 458.3,107.0 458.7,108.7 459.1,109.0 459.5,108.0 459.9,105.5 460.3,101.8 460.7,96.8 461.1,90.9 461.5,84.1 461.9,76.8 462.3,69.2 462.7,61.5 463.1,54.1 463.5,47.1 463.9,40.9 464.3,35.6 464.7,31.5 465.1,28.7 465.5,27.4 465.9,27.5 466.3,29.1 466.7,32.1 467.1,36.5 467.5,42.0 467.9,48.4 468.3,55.6 468.7,63.3 469.1,71.2 469.5,79.0 469.9,86.5 470.3,93.4 470.7,99.4 471.1,104.3 471.5,108.1 471.9,110.4 472.3,111.3 472.7,110.7 473.1,108.7 473.5,105.2 473.9,100.5 474.3,94.6 474.4,92.9 474.4,100.8 474.8,93.6 475.2,85.7 475.6,77.2 476.0,68.5 476.4,59.9 476.8,51.6 477.2,43.9 477.6,37.0 478.0,31.3 478.4,26.8 478.8,23.7 479.2,22.1 479.6,22.1 480.0,23.7 480.4,26.9 480.8,31.5 481.2,37.2 481.6,44.0 482.0,51.5 482.4,59.5 482.8,67.8 483.2,76.1 483.6,84.0 484.0,91.4 484.4,97.8 484.8,103.3 485.2,107.5 485.6,110.3 486.0,111.8 486.4,111.8 486.8,110.4 487.2,107.6 487.6,103.6 488.0,98.5 488.4,92.5 488.8,85.8 489.2,78.7 489.6,71.3 490.0,64.0 490.4,57.0 490.8,50.4 491.2,44.6 491.6,39.8 492.0,36.1 492.4,33.6 492.8,32.3 493.2,32.0 493.6,33.0 494.0,35.1 494.4,38.4 494.8,42.6 495.2,47.6 495.6,53.3 496.0,59.4 496.4,65.7 496.8,72.0 497.2,78.0 497.6,83.5 498.0,88.6 498.4,92.9 498.8,96.4 499.2,98.9 499.6,100.4 500.0,100.8 500.4,100.0 500.8,98.3 501.2,95.6 501.6,92.1 502.0,87.9 502.4,83.1 502.8,78.0 503.2,72.7 503.6,67.3 504.0,62.1 504.4,57.2 504.8,52.8 505.2,49.0 505.6,45.9 506.0,43.5 506.4,42.1 506.8,41.6 507.2,42.0 507.6,43.3 508.0,45.4 508.4,48.3 508.8,51.8 509.2,55.8 509.6,60.2 510.0,64.8 510.4,69.5 510.8,74.2 511.2,78.8 511.6,83.1 512.0,86.8 512.4,89.9 512.8,92.2 513.2,93.8 513.6,94.5 514.0,94.4 514.4,93.5 514.8,91.9 515.2,89.4 515.6,86.3 516.0,82.6 516.4,78.4 516.8,73.9 517.2,69.3 517.6,64.6 518.0,60.1 518.4,55.9 518.8,52.1 519.2,48.9 519.6,46.4 520.0,44.6 520.4,43.6 520.8,43.4 521.2,44.1 521.6,45.7 522.0,48.0 522.4,51.0 522.8,54.6 523.2,58.7 523.6,63.1 524.0,67.7 524.4,72.5 524.8,77.2 525.2,81.6 525.6,85.7 526.0,89.2 526.4,91.9 526.8,94.0 527.2,95.2 527.6,95.5 528.0,95.1 528.4,93.8 528.8,91.7 529.2,88.7 529.6,85.1 530.0,80.8 530.4,76.1 530.8,71.2 531.2,66.2 531.6,61.3 532.0,56.6 532.4,52.3 532.8,48.5 533.2,45.4 533.6,43.0 534.0,41.4 534.4,40.8 534.8,41.2 535.2,42.5 535.6,44.7 536.0,47.7 536.4,51.4 536.8,55.8 537.2,60.5 537.6,65.6 538.0,70.9 538.4,76.1 538.8,81.1 539.2,85.7 539.6,89.8 540.0,93.2 540.4,95.8 540.8,97.5 541.0,98.1" fill="none" stroke="#00f" stroke-width="1.4" stroke-linejoin="round" /><polyline points="305.6,66.2 306.0,72.1 306.4,77.9 306.8,83.4 307.2,88.4 307.6,92.7 308.0,96.2 308.4,98.7 308.8,100.2 309.2,100.5 309.6,99.7 310.0,97.9 310.4,95.0 310.8,91.2 311.2,86.6 311.6,81.4 312.0,75.8 312.4,69.9 312.8,64.0 313.2,58.2 313.6,52.8 314.0,48.0 314.4,44.0 314.8,40.8 315.2,38.6 315.6,37.5 316.0,37.5 316.4,38.6 316.8,40.8 317.2,44.0 317.6,48.0 318.0,52.8 318.4,58.2 318.8,64.0 319.2,69.9 319.6,75.8 320.0,81.4 320.4,86.6 320.8,91.2 321.2,95.0 321.6,97.9 322.0,99.7 322.4,100.5 322.8,100.2 323.2,98.7 323.6,96.2 324.0,92.7 324.4,88.4 324.8,83.4 325.2,77.9 325.6,72.1 326.0,66.2 326.4,60.3 326.8,54.8 327.2,49.8 327.6,45.4 328.0,41.9 328.4,39.3 328.8,37.8 329.2,37.4 329.6,38.1 330.0,39.9 330.4,42.7 330.8,46.4 331.2,51.0 331.6,56.1 332.0,61.8 332.4,67.7 332.8,73.6 333.2,79.3 333.6,84.7 334.0,89.6 334.4,93.7 334.8,96.9 335.2,99.2 335.6,100.3 336.0,100.4 336.4,99.4 336.8,97.3 337.2,94.1 337.6,90.1 338.0,85.4 338.4,80.0 338.8,74.3 339.1,69.9 339.1,66.0 339.5,65.2 339.9,64.5 340.3,63.9 340.7,63.6 341.1,63.7 341.5,64.2 341.9,64.9 342.3,65.7 342.7,66.5 343.1,67.3 343.5,68.0 343.9,68.7 344.3,69.3 344.7,69.9 345.1,70.6 345.5,71.3 345.9,72.2 346.3,72.9 346.7,73.5 347.1,73.9 347.5,74.0 347.9,73.8 348.3,73.4 348.7,72.7 349.1,72.0 349.5,71.2 349.9,70.4 350.3,69.7 350.7,69.0 351.1,68.4 351.5,67.7 351.9,66.8 352.3,65.9 352.7,64.9 353.1,64.0 353.5,63.2 353.9,62.8 354.3,62.7 354.7,63.1 355.1,63.8 355.5,64.7 355.9,65.7 356.3,66.7 356.7,67.6 357.1,68.3 357.5,69.1 357.9,69.8 358.3,70.6 358.7,71.4 359.1,72.4 359.5,73.3 359.9,74.2 360.3,74.7 360.7,75.0 361.1,74.8 361.5,74.4 361.9,73.7 362.3,72.9 362.7,71.9 363.1,71.0 363.5,70.2 363.9,69.4 364.3,68.6 364.7,67.7 365.1,66.7 365.5,65.6 365.9,64.4 366.3,63.1 366.7,62.0 367.1,61.3 367.5,61.0 367.9,61.2 368.3,61.9 368.7,62.9 369.1,64.2 369.5,65.5 369.9,66.6 370.3,67.7 370.7,68.7 371.1,69.7 371.5,70.8 371.9,72.1 372.3,73.5 372.7,75.0 373.1,76.4 373.5,77.5 373.9,78.2 374.3,78.3 374.7,77.9 375.1,76.9 375.5,75.6 375.9,74.1 376.3,72.6 376.7,71.2 377.1,70.0 377.5,68.8 377.9,67.7 378.3,66.3 378.7,64.8 379.1,63.2 379.5,61.5 379.9,60.0 380.3,58.8 380.7,58.3 381.1,58.4 381.5,59.2 381.9,60.4 382.3,62.1 382.7,63.8 383.1,65.4 383.5,66.9 383.9,68.2 384.3,69.5 384.7,70.8 385.1,72.3 385.5,73.9 385.9,75.7 386.3,77.5 386.7,79.0 387.1,80.0 387.5,80.3 387.9,79.9 388.3,78.9 388.7,77.4 389.1,75.6 389.5,73.8 389.9,72.2 390.3,70.7 390.7,69.3 391.1,68.0 391.5,66.6 391.9,65.0 392.3,63.2 392.7,61.4 393.1,59.6 393.5,58.2 393.9,57.4 394.3,57.3 394.7,58.0 395.1,59.2 395.5,60.9 395.9,62.8 396.3,64.6 396.7,66.2 397.1,67.7 397.5,69.0 397.9,70.3 398.3,71.8 398.7,73.4 399.1,75.2 399.5,77.0 399.9,78.6 400.3,79.7 400.7,80.3 401.1,80.1 401.5,79.3 401.9,77.9 402.3,76.2 402.7,74.4 403.1,72.7 403.5,71.2 403.9,69.8 404.3,68.5 404.7,67.2 405.1,65.7 405.5,64.1 405.9,62.3 406.3,60.6 406.7,59.2 407.1,58.3 407.5,58.0 407.9,58.5 408.3,59.5 408.7,61.0 409.1,62.7 409.5,64.4 409.9,66.0 410.3,67.3 410.7,68.6 411.1,69.7 411.5,70.9 411.9,72.2 412.3,73.6 412.7,75.1 413.1,76.5 413.5,77.5 413.9,78.1 414.3,78.1 414.7,77.6 415.1,76.6 415.5,75.3 415.9,73.9 416.3,72.5 416.7,71.2 417.1,70.0 417.5,69.0 417.9,67.9 418.3,66.8 418.7,65.6 419.1,64.2 419.5,62.8 419.9,61.5 420.3,60.6 420.7,60.1 421.1,60.2 421.5,60.9 421.9,61.9 422.3,63.2 422.7,64.6 423.1,66.0 423.5,67.2 423.9,68.2 424.3,69.2 424.7,70.2 425.1,71.4 425.5,72.6 425.9,74.0 426.3,75.3 426.7,76.4 427.1,77.2 427.5,77.5 427.9,77.2 428.3,76.5 428.7,75.4 429.1,74.1 429.5,72.7 429.9,71.4 430.3,70.3 430.7,69.3 431.1,68.4 431.5,67.4 431.9,66.3 432.3,65.0 432.7,63.7 433.1,62.5 433.5,61.5 433.9,60.9 434.3,60.8 434.7,61.1 435.1,62.0 435.5,63.1 435.9,64.4 436.3,65.7 436.7,66.9 437.1,67.9 437.5,68.9 437.9,69.8 438.3,70.8 438.7,72.0 439.1,73.3 439.5,74.6 439.9,75.7 440.3,76.6 440.7,77.1 441.1,77.1 441.5,76.5 441.9,75.6 442.3,74.4 442.7,73.0 443.1,71.8 443.5,70.7 443.9,69.7 444.3,68.8 444.7,67.8 445.1,66.8 445.5,65.6 445.9,64.4 446.3,63.2 446.7,62.1 447.1,61.4 447.5,61.0 447.9,61.2 448.3,61.8 448.7,62.8 449.1,64.0 449.5,65.3 449.9,66.5 450.3,67.6 450.7,68.5 451.1,69.4 451.5,70.4 451.9,71.5 452.3,72.7 452.7,74.0 453.1,75.3 453.5,76.3 453.9,77.0 454.3,77.2 454.7,76.8 455.1,76.0 455.5,74.9 455.9,73.6 456.3,72.3 456.7,71.1 457.1,70.1 457.5,69.1 457.9,68.2 458.3,67.1 458.7,66.0 459.1,64.7 459.5,63.4 459.9,62.2 460.3,61.3 460.7,60.8 461.1,60.9 461.5,61.4 461.9,62.3 462.3,63.5 462.7,64.8 463.1,66.1 463.5,67.2 463.9,68.2 464.3,69.1 464.7,70.0 465.1,71.0 465.5,72.1 465.9,73.3 466.3,74.5 466.7,75.5 467.1,76.2 467.5,76.6 467.9,76.5 468.3,75.9 468.7,75.0 469.1,73.9 469.5,72.7 469.9,71.5 470.3,70.4 470.7,69.4 471.1,68.5 471.5,67.5 471.9,66.4 472.3,65.1 472.7,63.7 473.1,62.4 473.5,61.3 473.9,60.5 474.3,60.2 474.4,60.2 474.7,21.6 474.9,21.0 475.3,22.1 475.7,24.9 476.1,29.1 476.5,34.6 476.9,41.2 477.3,48.6 477.7,56.8 478.1,65.3 478.5,73.9 478.9,82.3 479.3,90.3 479.7,97.5 480.1,103.7 480.5,108.6 480.9,112.2 481.3,114.4 481.7,115.0 482.1,114.1 482.5,111.6 482.9,107.8 483.3,102.7 483.7,96.6 484.1,89.5 484.5,81.9 484.9,73.9 485.3,65.9 485.7,58.1 486.1,50.7 486.5,44.1 486.9,38.4 487.3,33.8 487.7,30.5 488.1,28.4 488.5,27.8 488.9,28.5 489.3,30.5 489.7,33.8 490.1,38.2 490.5,43.5 490.9,49.7 491.3,56.3 491.7,63.3 492.1,70.3 492.5,77.1 492.9,83.5 493.3,89.3 493.7,94.4 494.1,98.5 494.5,101.6 494.9,103.6 495.3,104.4 495.7,104.0 496.1,102.3 496.5,99.5 496.9,95.8 497.3,91.3 497.7,86.1 498.1,80.6 498.5,74.8 498.9,68.9 499.3,63.0 499.7,57.5 500.1,52.4 500.5,47.9 500.9,44.3 501.3,41.5 501.7,39.7 502.1,39.0 502.5,39.2 502.9,40.3 503.3,42.4 503.7,45.3 504.1,49.0 504.5,53.3 504.9,58.0 505.3,62.9 505.7,68.0 506.1,73.1 506.5,78.0 506.9,82.4 507.3,86.4 507.7,89.7 508.1,92.3 508.5,94.0 508.9,94.9 509.3,94.9 509.7,94.2 510.1,92.8 510.5,90.6 510.9,87.6 511.3,84.0 511.7,79.9 512.1,75.4 512.5,70.7 512.9,66.0 513.3,61.4 513.7,57.1 514.1,53.2 514.5,49.8 514.9,47.0 515.3,45.0 515.7,43.8 516.1,43.4 516.5,43.8 516.9,45.1 517.3,47.2 517.7,50.0 518.1,53.5 518.5,57.4 518.9,61.8 519.3,66.4 519.7,71.0 520.1,75.6 520.5,80.0 520.9,84.0 521.3,87.5 521.7,90.4 522.1,92.6 522.5,94.0 522.9,94.5 523.3,94.3 523.7,93.3 524.1,91.4 524.5,88.8 524.9,85.5 525.3,81.6 525.7,77.2 526.1,72.5 526.5,67.7 526.9,62.9 527.3,58.3 527.7,54.0 528.1,50.1 528.5,46.8 528.9,44.3 529.3,42.5 529.7,41.5 530.1,41.7 530.5,42.7 530.9,44.7 531.3,47.4 531.7,50.9 532.1,54.9 532.5,59.4 532.9,64.3 533.3,69.3 533.7,74.4 534.1,79.3 534.5,83.9 534.9,88.0 535.3,91.5 535.7,94.3 536.1,96.2 536.5,97.2 536.9,97.3 537.3,96.5 537.7,94.8 538.1,92.1 538.5,88.7 538.9,84.6 539.3,79.9 539.7,74.8 540.1,69.6 540.5,64.2 540.9,59.0 541.0,57.8" fill="none" stroke="#0d0" stroke-width="1.4" stroke-linejoin="round" /></g><rect x="305.7" y="5.8" width="234.4" height="126.3" fill="none" stroke="#b0b0b0" stroke-width="1.05"/><text transform="translate(305.70 137.70) scale(0.920 1)" font-size="5.70" text-anchor="middle" font-family="'Liberation Serif', serif" fill="#111" stroke="#111" stroke-width="0.12" font-weight="normal" >3.95</text><text transform="translate(339.19 137.70) scale(0.920 1)" font-size="5.70" text-anchor="middle" font-family="'Liberation Serif', serif" fill="#111" stroke="#111" stroke-width="0.12" font-weight="normal" >4</text><text transform="translate(372.67 137.70) scale(0.920 1)" font-size="5.70" text-anchor="middle" font-family="'Liberation Serif', serif" fill="#111" stroke="#111" stroke-width="0.12" font-weight="normal" >4.05</text><text transform="translate(406.16 137.70) scale(0.920 1)" font-size="5.70" text-anchor="middle" font-family="'Liberation Serif', serif" fill="#111" stroke="#111" stroke-width="0.12" font-weight="normal" >4.1</text><text transform="translate(439.64 137.70) scale(0.920 1)" font-size="5.70" text-anchor="middle" font-family="'Liberation Serif', serif" fill="#111" stroke="#111" stroke-width="0.12" font-weight="normal" >4.15</text><text transform="translate(473.13 137.70) scale(0.920 1)" font-size="5.70" text-anchor="middle" font-family="'Liberation Serif', serif" fill="#111" stroke="#111" stroke-width="0.12" font-weight="normal" >4.2</text><text transform="translate(506.61 137.70) scale(0.920 1)" font-size="5.70" text-anchor="middle" font-family="'Liberation Serif', serif" fill="#111" stroke="#111" stroke-width="0.12" font-weight="normal" >4.25</text><text transform="translate(540.10 137.70) scale(0.920 1)" font-size="5.70" text-anchor="middle" font-family="'Liberation Serif', serif" fill="#111" stroke="#111" stroke-width="0.12" font-weight="normal" >4.3</text><text transform="translate(304.10 7.80) scale(0.920 1)" font-size="5.70" text-anchor="end" font-family="'Liberation Serif', serif" fill="#111" stroke="#111" stroke-width="0.12" font-weight="normal" >2</text><text transform="translate(304.10 23.59) scale(0.920 1)" font-size="5.70" text-anchor="end" font-family="'Liberation Serif', serif" fill="#111" stroke="#111" stroke-width="0.12" font-weight="normal" >1.5</text><text transform="translate(304.10 39.38) scale(0.920 1)" font-size="5.70" text-anchor="end" font-family="'Liberation Serif', serif" fill="#111" stroke="#111" stroke-width="0.12" font-weight="normal" >1</text><text transform="translate(304.10 55.16) scale(0.920 1)" font-size="5.70" text-anchor="end" font-family="'Liberation Serif', serif" fill="#111" stroke="#111" stroke-width="0.12" font-weight="normal" >0.5</text><text transform="translate(304.10 70.95) scale(0.920 1)" font-size="5.70" text-anchor="end" font-family="'Liberation Serif', serif" fill="#111" stroke="#111" stroke-width="0.12" font-weight="normal" >0</text><text transform="translate(304.10 86.74) scale(0.920 1)" font-size="5.70" text-anchor="end" font-family="'Liberation Serif', serif" fill="#111" stroke="#111" stroke-width="0.12" font-weight="normal" >-0.5</text><text transform="translate(304.10 102.53) scale(0.920 1)" font-size="5.70" text-anchor="end" font-family="'Liberation Serif', serif" fill="#111" stroke="#111" stroke-width="0.12" font-weight="normal" >-1</text><text transform="translate(304.10 118.31) scale(0.920 1)" font-size="5.70" text-anchor="end" font-family="'Liberation Serif', serif" fill="#111" stroke="#111" stroke-width="0.12" font-weight="normal" >-1.5</text><text transform="translate(304.10 134.10) scale(0.920 1)" font-size="5.70" text-anchor="end" font-family="'Liberation Serif', serif" fill="#111" stroke="#111" stroke-width="0.12" font-weight="normal" >-2</text><path d="M305.7 132.1v-1.6M305.7 5.8v1.6 M339.2 132.1v-1.6M339.2 5.8v1.6 M372.7 132.1v-1.6M372.7 5.8v1.6 M406.2 132.1v-1.6M406.2 5.8v1.6 M439.6 132.1v-1.6M439.6 5.8v1.6 M473.1 132.1v-1.6M473.1 5.8v1.6 M506.6 132.1v-1.6M506.6 5.8v1.6 M540.1 132.1v-1.6M540.1 5.8v1.6 M305.7 5.8h1.6M540.1 5.8h-1.6 M305.7 21.6h1.6M540.1 21.6h-1.6 M305.7 37.4h1.6M540.1 37.4h-1.6 M305.7 53.2h1.6M540.1 53.2h-1.6 M305.7 69.0h1.6M540.1 69.0h-1.6 M305.7 84.7h1.6M540.1 84.7h-1.6 M305.7 100.5h1.6M540.1 100.5h-1.6 M305.7 116.3h1.6M540.1 116.3h-1.6 M305.7 132.1h1.6M540.1 132.1h-1.6" stroke="#999" stroke-width="0.6" fill="none"/><text x="293.0" y="68.5" font-size="6.20" text-anchor="middle" font-family="'Liberation Serif', serif" fill="#111" font-weight="normal" transform="rotate(-90 293.0 68.5)">2001PT/p.u.</text><text x="422.4" y="144.8" font-size="5.20" text-anchor="middle" font-family="'Liberation Serif', serif" fill="#111" font-weight="normal" >t/s</text><text x="415.9" y="156.8" font-size="10.50" text-anchor="middle" font-family="'Liberation Serif', serif" fill="#111" font-weight="bold" >(b)</text><line x1="315.9" y1="14.2" x2="325.4" y2="14.2" stroke="#f00" stroke-width="0.9" stroke-opacity="0.45"/><text transform="translate(327.50 15.70) scale(0.910 1)" font-size="6.30" text-anchor="start" font-family="'Liberation Serif', serif" fill="#111" stroke="#111" stroke-width="0.12" font-weight="normal" >PSCAD-A</text><line x1="354.7" y1="14.2" x2="364.2" y2="14.2" stroke="#0d0" stroke-width="0.9" stroke-opacity="0.45"/><text transform="translate(365.70 15.70) scale(0.910 1)" font-size="6.30" text-anchor="start" font-family="'Liberation Serif', serif" fill="#111" stroke="#111" stroke-width="0.12" font-weight="normal" >PSCAD-B</text><line x1="392.3" y1="14.2" x2="401.8" y2="14.2" stroke="#00f" stroke-width="0.9" stroke-opacity="0.45"/><text transform="translate(402.50 15.70) scale(0.910 1)" font-size="6.30" text-anchor="start" font-family="'Liberation Serif', serif" fill="#111" stroke="#111" stroke-width="0.12" font-weight="normal" >PSCAD-C</text><circle cx="433.3" cy="14.0" r="0.75" fill="#f00" fill-opacity="0.5"/><text transform="translate(440.00 15.70) scale(0.910 1)" font-size="6.30" text-anchor="start" font-family="'Liberation Serif', serif" fill="#111" stroke="#111" stroke-width="0.12" font-weight="normal" >FRTDS-A</text><circle cx="470.4" cy="14.0" r="0.75" fill="#0d0" fill-opacity="0.5"/><text transform="translate(476.70 15.70) scale(0.910 1)" font-size="6.30" text-anchor="start" font-family="'Liberation Serif', serif" fill="#111" stroke="#111" stroke-width="0.12" font-weight="normal" >FRTDS-B</text><circle cx="507.1" cy="14.0" r="0.75" fill="#00f" fill-opacity="0.5"/><text transform="translate(513.40 15.70) scale(0.910 1)" font-size="6.30" text-anchor="start" font-family="'Liberation Serif', serif" fill="#111" stroke="#111" stroke-width="0.12" font-weight="normal" >FRTDS-C</text><clipPath id="cc"><rect x="24.6" y="163.6" width="236.8" height="122.6"/></clipPath><g clip-path="url(#cc)"><polyline points="24.6,254.3 25.0,252.1 25.4,249.0 25.8,245.1 26.2,240.4 26.6,235.3 27.0,229.7 27.4,224.0 27.8,218.3 28.2,212.9 28.6,207.9 29.0,203.4 29.4,199.7 29.8,196.9 30.2,195.1 30.6,194.3 31.0,194.6 31.4,195.9 31.8,198.2 32.2,201.5 32.6,205.6 33.0,210.3 33.4,215.6 33.8,221.2 34.2,226.9 34.6,232.5 35.0,237.9 35.4,242.8 35.8,247.1 36.2,250.7 36.6,253.3 37.0,254.9 37.4,255.5 37.8,255.1 38.2,253.6 38.6,251.0 39.0,247.6 39.4,243.4 39.8,238.5 40.2,233.2 40.6,227.6 41.0,221.9 41.4,216.2 41.8,210.9 42.2,206.1 42.6,201.9 43.0,198.6 43.4,196.1 43.8,194.7 44.2,194.3 44.6,194.9 45.0,196.6 45.4,199.3 45.8,202.9 46.2,207.3 46.6,212.2 47.0,217.6 47.4,223.3 47.8,229.0 48.2,234.6 48.6,239.8 49.0,244.5 49.4,248.6 49.8,251.8 50.2,254.0 50.6,255.3 51.0,255.5 51.4,254.6 51.8,252.7 52.2,249.9 52.6,246.1 53.0,241.6 53.4,236.6 53.8,231.1 54.2,225.4 54.6,219.7 55.0,214.2 55.4,209.1 55.8,204.5 56.2,200.6 56.6,197.5 57.0,195.4 57.4,194.4 57.8,194.4 58.2,195.4 58.2,195.9 58.6,198.1 59.0,201.2 59.4,205.1 59.8,209.6 60.2,214.6 60.6,220.0 61.0,225.4 61.4,230.8 61.8,235.9 62.2,240.6 62.6,244.7 63.0,248.0 63.4,250.5 63.8,252.1 64.2,252.8 64.6,252.4 65.0,251.2 65.4,249.1 65.8,246.2 66.2,242.6 66.6,238.4 67.0,233.7 67.4,228.6 67.8,223.4 68.2,218.3 68.6,213.4 69.0,208.8 69.4,204.8 69.8,201.5 70.2,199.0 70.6,197.4 71.0,196.8 71.4,197.1 71.8,198.4 72.2,200.5 72.6,203.5 73.0,207.2 73.4,211.7 73.8,216.6 74.2,222.0 74.6,227.5 75.0,233.0 75.4,238.3 75.8,243.2 76.2,247.6 76.6,251.2 77.0,253.9 77.4,255.7 77.8,256.4 78.2,256.0 78.6,254.5 79.0,251.8 79.4,248.3 79.8,243.8 80.2,238.7 80.6,233.0 81.0,227.0 81.4,220.9 81.8,214.8 82.2,209.1 82.6,203.9 83.0,199.3 83.4,195.6 83.8,192.9 84.2,191.4 84.6,190.9 85.0,191.6 85.4,193.5 85.8,196.4 86.2,200.5 86.6,205.4 87.0,211.1 87.4,217.3 87.8,223.9 88.2,230.5 88.6,237.1 89.0,243.3 89.4,249.0 89.8,253.8 90.2,257.7 90.6,260.5 91.0,262.1 91.4,262.4 91.8,261.4 92.2,259.0 92.6,255.4 93.0,250.8 93.4,245.2 93.8,238.8 94.2,231.9 94.6,224.7 95.0,217.4 95.4,210.3 95.8,203.7 96.2,197.8 96.6,192.8 97.0,188.8 97.4,186.1 97.8,184.7 98.2,184.8 98.6,186.2 99.0,189.0 99.4,193.1 99.8,198.3 100.2,204.5 100.6,211.4 101.0,218.9 101.4,226.6 101.8,234.3 102.2,241.7 102.6,248.6 103.0,254.7 103.4,259.8 103.8,263.7 104.2,266.3 104.6,267.4 105.0,267.0 105.4,265.2 105.8,261.9 106.2,257.3 106.6,251.6 107.0,244.9 107.4,237.5 107.8,229.7 108.2,221.6 108.6,213.7 109.0,206.1 109.4,199.2 109.8,193.1 110.2,188.2 110.6,184.5 111.0,182.2 111.4,181.4 111.8,182.1 112.2,184.4 112.6,188.0 113.0,193.0 113.4,199.0 113.8,206.0 114.2,213.6 114.6,221.6 115.0,229.7 115.4,237.7 115.8,245.2 116.2,252.0 116.6,257.8 117.0,262.5 117.4,266.0 117.8,267.9 118.2,268.4 118.6,267.3 119.0,264.7 119.4,260.7 119.8,255.5 120.2,249.3 120.6,242.2 121.0,234.6 121.4,226.6 121.8,218.7 122.2,211.0 122.6,203.8 123.0,197.4 123.4,192.0 123.8,187.7 124.2,184.7 124.6,183.2 125.0,183.1 125.4,184.4 125.8,187.2 126.2,191.2 126.6,196.4 127.0,202.6 127.4,209.5 127.8,217.0 128.2,224.7 128.6,232.3 129.0,239.7 129.4,246.6 129.8,252.6 130.2,257.7 130.6,261.7 131.0,264.3 131.4,265.6 131.8,265.4 132.2,263.8 132.6,260.8 133.0,256.6 133.4,251.4 133.8,245.2 134.2,238.4 134.6,231.2 135.0,223.7 135.4,216.4 135.8,209.4 136.2,203.0 136.6,197.3 137.0,192.7 137.4,189.2 137.8,187.0 138.2,186.0 138.6,186.5 139.0,188.2 139.4,191.2 139.8,195.4 140.2,200.6 140.6,206.6 141.0,213.2 141.4,220.2 141.8,227.4 142.2,234.4 142.6,241.1 143.0,247.2 143.4,252.5 143.8,256.8 144.2,260.0 144.6,262.0 145.0,262.7 145.4,262.0 145.8,260.1 146.2,256.9 146.6,252.7 147.0,247.5 147.4,241.5 147.8,235.0 148.2,228.1 148.6,221.2 149.0,214.5 149.4,208.1 149.8,202.3 150.2,197.4 150.6,193.4 151.0,190.5 151.4,188.9 151.8,188.5 152.2,189.3 152.6,191.3 153.0,194.6 153.4,198.8 153.8,204.0 154.2,209.9 154.6,216.3 155.0,223.0 155.4,229.7 155.8,236.3 156.2,242.5 156.6,248.0 157.0,252.7 157.4,256.4 157.8,259.1 158.2,260.5 158.6,260.7 159.0,259.7 159.4,257.4 159.8,254.1 160.2,249.7 160.6,244.5 161.0,238.5 161.4,232.2 161.8,225.5 162.2,218.9 162.6,212.5 163.0,206.5 163.4,201.1 163.8,196.6 164.2,193.1 164.6,190.7 165.0,189.5 165.4,189.5 165.8,190.7 166.2,193.2 166.6,196.7 167.0,201.2 167.4,206.5 167.8,212.5 168.2,218.9 168.6,225.5 169.0,232.1 169.4,238.5 169.8,244.3 170.2,249.5 170.6,253.9 171.0,257.2 171.4,259.4 171.8,260.4 172.2,260.2 172.6,258.7 173.0,256.1 173.4,252.4 173.8,247.8 174.2,242.3 174.6,236.2 175.0,229.7 175.4,223.0 175.8,216.4 176.2,210.0 176.6,204.1 177.0,199.0 177.4,194.7 177.8,191.4 178.2,189.4 178.6,188.5 179.0,188.9 179.4,190.6 179.8,193.5 180.2,197.5 180.6,202.5 181.0,208.2 181.4,214.6 181.8,221.3 182.2,228.1 182.6,234.8 183.0,241.2 183.4,247.0 183.8,252.1 184.2,256.2 184.6,259.2 185.0,261.1 185.4,261.6 185.8,260.9 186.2,259.0 186.6,255.9 187.0,251.7 187.4,246.6 187.8,240.7 188.2,234.2 188.6,227.3 189.0,220.3 189.4,213.5 189.8,207.0 190.2,201.1 190.6,196.0 191.0,191.9 191.4,188.9 191.8,187.2 192.2,186.8 192.6,187.7 193.0,189.9 193.4,193.4 193.8,198.0 194.2,203.5 194.6,209.8 195.0,216.6 195.2,220.2 195.2,234.6 195.6,242.3 196.0,249.4 196.4,255.6 196.8,260.8 197.2,264.8 197.6,267.5 198.0,268.8 198.4,268.6 198.8,267.0 199.2,264.0 199.6,259.8 200.0,254.4 200.4,248.1 200.8,241.0 201.2,233.4 201.6,225.6 202.0,217.9 202.4,210.4 202.8,203.4 203.2,197.2 203.6,191.9 204.0,187.7 204.4,184.8 204.8,183.2 205.2,183.0 205.6,184.4 206.0,187.0 206.4,190.8 206.8,195.7 207.2,201.5 207.6,207.9 208.0,214.8 208.4,222.0 208.8,229.2 209.2,236.2 209.6,242.7 210.0,248.6 210.4,253.4 210.8,257.1 211.2,259.7 211.6,261.1 212.0,261.5 212.4,260.7 212.8,258.8 213.2,255.8 213.6,251.8 214.0,247.0 214.4,241.6 214.8,235.6 215.2,229.4 215.6,223.2 216.0,217.1 216.4,211.5 216.8,206.3 217.2,201.8 217.6,198.1 218.0,195.4 218.4,193.7 218.8,193.0 219.2,193.4 219.6,194.9 220.0,197.4 220.4,200.6 220.8,204.7 221.2,209.2 221.6,214.1 222.0,219.4 222.4,224.7 222.8,230.0 223.2,235.1 223.6,239.8 224.0,243.9 224.4,247.3 224.8,249.9 225.2,251.7 225.6,252.5 226.0,252.4 226.4,251.6 226.8,249.9 227.2,247.4 227.6,244.2 228.0,240.3 228.4,236.0 228.8,231.4 229.2,226.6 229.6,221.8 230.0,217.1 230.4,212.8 230.8,208.9 231.2,205.4 231.6,202.6 232.0,200.5 232.4,199.3 232.8,198.8 233.2,199.3 233.6,200.6 234.0,202.8 234.4,205.7 234.8,209.1 235.2,213.1 235.6,217.4 236.0,221.9 236.4,226.5 236.8,231.1 237.2,235.4 237.6,239.5 238.0,243.0 238.4,246.0 238.8,248.2 239.2,249.7 239.6,250.3 240.0,250.2 240.4,249.2 240.8,247.4 241.2,245.0 241.6,241.8 242.0,238.1 242.4,233.9 242.8,229.4 243.2,224.8 243.6,220.1 244.0,215.6 244.4,211.4 244.8,207.7 245.2,204.5 245.6,201.9 246.0,200.1 246.4,199.1 246.8,199.0 247.2,199.7 247.6,201.2 248.0,203.6 248.4,206.6 248.8,210.3 249.2,214.4 249.6,218.9 250.0,223.6 250.4,228.3 250.8,233.0 251.2,237.5 251.6,241.7 252.0,245.3 252.4,248.1 252.8,250.2 253.2,251.5 253.6,251.9 254.0,251.4 254.4,250.0 254.8,248.0 255.2,245.1 255.6,241.5 256.0,237.4 256.4,232.8 256.8,227.9 257.2,222.9 257.6,217.9 258.0,213.2 258.4,208.9 258.8,205.0 259.2,201.7 259.6,199.0 260.0,197.1 260.4,196.2 260.8,196.3 261.2,197.4 261.5,198.8" fill="none" stroke="#f00" stroke-width="1.4" stroke-linejoin="round" /><polyline points="24.6,217.9 25.0,223.5 25.4,229.2 25.8,234.8 26.2,240.0 26.6,244.7 27.0,248.7 27.4,251.9 27.8,254.1 28.2,255.3 28.6,255.5 29.0,254.6 29.4,252.6 29.8,249.7 30.2,246.0 30.6,241.4 31.0,236.4 31.4,230.9 31.8,225.2 32.2,219.5 32.6,214.0 33.0,208.9 33.4,204.3 33.8,200.4 34.2,197.4 34.6,195.4 35.0,194.4 35.4,194.4 35.8,195.5 36.2,197.6 36.6,200.7 37.0,204.6 37.4,209.3 37.8,214.4 38.2,220.0 38.6,225.7 39.0,231.4 39.4,236.8 39.8,241.8 40.2,246.3 40.6,250.0 41.0,252.8 41.4,254.7 41.8,255.5 42.2,255.3 42.6,254.0 43.0,251.7 43.4,248.4 43.8,244.3 44.2,239.6 44.6,234.3 45.0,228.8 45.4,223.1 45.8,217.4 46.2,212.0 46.6,207.1 47.0,202.7 47.4,199.2 47.8,196.5 48.2,194.9 48.6,194.3 49.0,194.7 49.4,196.2 49.8,198.7 50.2,202.1 50.6,206.3 51.0,211.2 51.4,216.5 51.8,222.1 52.2,227.8 52.6,233.4 53.0,238.8 53.4,243.6 53.8,247.8 54.2,251.2 54.6,253.6 55.0,255.1 55.4,255.5 55.8,254.9 56.2,253.2 56.6,250.5 57.0,247.0 57.4,242.6 57.8,237.7 58.2,232.3 58.2,224.9 58.6,224.9 59.0,224.9 59.4,224.9 59.8,224.9 60.2,224.9 60.6,224.9 61.0,224.9 61.4,224.9 61.8,224.9 62.2,224.9 62.6,224.9 63.0,224.9 63.4,224.9 63.8,224.9 64.2,224.9 64.6,224.9 65.0,224.9 65.4,224.9 65.8,224.9 66.2,224.9 66.6,224.9 67.0,224.9 67.4,224.9 67.8,224.9 68.2,224.9 68.6,224.9 69.0,224.9 69.4,224.9 69.8,224.9 70.2,224.9 70.6,224.9 71.0,224.9 71.4,224.9 71.8,224.9 72.2,224.9 72.6,224.9 73.0,224.9 73.4,224.9 73.8,224.9 74.2,224.9 74.6,224.9 75.0,224.9 75.4,224.9 75.8,224.9 76.2,224.9 76.6,224.9 77.0,224.9 77.4,224.9 77.8,224.9 78.2,224.9 78.6,224.9 79.0,224.9 79.4,224.9 79.8,224.9 80.2,224.9 80.6,224.9 81.0,224.9 81.4,224.9 81.8,224.9 82.2,224.9 82.6,224.9 83.0,224.9 83.4,224.9 83.8,224.9 84.2,224.9 84.6,224.9 85.0,224.9 85.4,224.9 85.8,224.9 86.2,224.9 86.6,224.9 87.0,224.9 87.4,224.9 87.8,224.9 88.2,224.9 88.6,224.9 89.0,224.9 89.4,224.9 89.8,224.9 90.2,224.9 90.6,224.9 91.0,224.9 91.4,224.9 91.8,224.9 92.2,224.9 92.6,224.9 93.0,224.9 93.4,224.9 93.8,224.9 94.2,224.9 94.6,224.9 95.0,224.9 95.4,224.9 95.8,224.9 96.2,224.9 96.6,224.9 97.0,224.9 97.4,224.9 97.8,224.9 98.2,224.9 98.6,224.9 99.0,224.9 99.4,224.9 99.8,224.9 100.2,224.9 100.6,224.9 101.0,224.9 101.4,224.9 101.8,224.9 102.2,224.9 102.6,224.9 103.0,224.9 103.4,224.9 103.8,224.9 104.2,224.9 104.6,224.9 105.0,224.9 105.4,224.9 105.8,224.9 106.2,224.9 106.6,224.9 107.0,224.9 107.4,224.9 107.8,224.9 108.2,224.9 108.6,224.9 109.0,224.9 109.4,224.9 109.8,224.9 110.2,224.9 110.6,224.9 111.0,224.9 111.4,224.9 111.8,224.9 112.2,224.9 112.6,224.9 113.0,224.9 113.4,224.9 113.8,224.9 114.2,224.9 114.6,224.9 115.0,224.9 115.4,224.9 115.8,224.9 116.2,224.9 116.6,224.9 117.0,224.9 117.4,224.9 117.8,224.9 118.2,224.9 118.6,224.9 119.0,224.9 119.4,224.9 119.8,224.9 120.2,224.9 120.6,224.9 121.0,224.9 121.4,224.9 121.8,224.9 122.2,224.9 122.6,224.9 123.0,224.9 123.4,224.9 123.8,224.9 124.2,224.9 124.6,224.9 125.0,224.9 125.4,224.9 125.8,224.9 126.2,224.9 126.6,224.9 127.0,224.9 127.4,224.9 127.8,224.9 128.2,224.9 128.6,224.9 129.0,224.9 129.4,224.9 129.8,224.9 130.2,224.9 130.6,224.9 131.0,224.9 131.4,224.9 131.8,224.9 132.2,224.9 132.6,224.9 133.0,224.9 133.4,224.9 133.8,224.9 134.2,224.9 134.6,224.9 135.0,224.9 135.4,224.9 135.8,224.9 136.2,224.9 136.6,224.9 137.0,224.9 137.4,224.9 137.8,224.9 138.2,224.9 138.6,224.9 139.0,224.9 139.4,224.9 139.8,224.9 140.2,224.9 140.6,224.9 141.0,224.9 141.4,224.9 141.8,224.9 142.2,224.9 142.6,224.9 143.0,224.9 143.4,224.9 143.8,224.9 144.2,224.9 144.6,224.9 145.0,224.9 145.4,224.9 145.8,224.9 146.2,224.9 146.6,224.9 147.0,224.9 147.4,224.9 147.8,224.9 148.2,224.9 148.6,224.9 149.0,224.9 149.4,224.9 149.8,224.9 150.2,224.9 150.6,224.9 151.0,224.9 151.4,224.9 151.8,224.9 152.2,224.9 152.6,224.9 153.0,224.9 153.4,224.9 153.8,224.9 154.2,224.9 154.6,224.9 155.0,224.9 155.4,224.9 155.8,224.9 156.2,224.9 156.6,224.9 157.0,224.9 157.4,224.9 157.8,224.9 158.2,224.9 158.6,224.9 159.0,224.9 159.4,224.9 159.8,224.9 160.2,224.9 160.6,224.9 161.0,224.9 161.4,224.9 161.8,224.9 162.2,224.9 162.6,224.9 163.0,224.9 163.4,224.9 163.8,224.9 164.2,224.9 164.6,224.9 165.0,224.9 165.4,224.9 165.8,224.9 166.2,224.9 166.6,224.9 167.0,224.9 167.4,224.9 167.8,224.9 168.2,224.9 168.6,224.9 169.0,224.9 169.4,224.9 169.8,224.9 170.2,224.9 170.6,224.9 171.0,224.9 171.4,224.9 171.8,224.9 172.2,224.9 172.6,224.9 173.0,224.9 173.4,224.9 173.8,224.9 174.2,224.9 174.6,224.9 175.0,224.9 175.4,224.9 175.8,224.9 176.2,224.9 176.6,224.9 177.0,224.9 177.4,224.9 177.8,224.9 178.2,224.9 178.6,224.9 179.0,224.9 179.4,224.9 179.8,224.9 180.2,224.9 180.6,224.9 181.0,224.9 181.4,224.9 181.8,224.9 182.2,224.9 182.6,224.9 183.0,224.9 183.4,224.9 183.8,224.9 184.2,224.9 184.6,224.9 185.0,224.9 185.4,224.9 185.8,224.9 186.2,224.9 186.6,224.9 187.0,224.9 187.4,224.9 187.8,224.9 188.2,224.9 188.6,224.9 189.0,224.9 189.4,224.9 189.8,224.9 190.2,224.9 190.6,224.9 191.0,224.9 191.4,224.9 191.8,224.9 192.2,224.9 192.6,224.9 193.0,224.9 193.4,224.9 193.8,224.9 194.2,224.9 194.6,224.9 195.0,224.9 195.2,224.9 195.5,180.5 195.7,180.6 196.1,180.8 196.5,182.4 196.9,185.4 197.3,189.8 197.7,195.2 198.1,201.6 198.5,208.8 198.9,216.4 199.3,224.3 199.7,232.2 200.1,239.8 200.5,246.9 200.9,253.3 201.3,258.6 201.7,262.8 202.1,265.8 202.5,267.4 202.9,267.6 203.3,266.4 203.7,263.8 204.1,260.0 204.5,255.0 204.9,249.1 205.3,242.4 205.7,235.2 206.1,227.8 206.5,220.3 206.9,213.2 207.3,206.5 207.7,200.4 208.1,195.2 208.5,191.0 208.9,187.9 209.3,186.1 209.7,185.6 210.1,186.6 210.5,189.0 210.9,192.4 211.3,196.8 211.7,202.0 212.1,207.7 212.5,213.9 212.9,220.3 213.3,226.9 213.7,233.2 214.1,239.2 214.5,244.7 214.9,249.3 215.3,253.1 215.7,255.9 216.1,257.6 216.5,258.2 216.9,257.8 217.3,256.3 217.7,253.9 218.1,250.5 218.5,246.3 218.9,241.5 219.3,236.2 219.7,230.6 220.1,225.0 220.5,219.4 220.9,214.2 221.3,209.4 221.7,205.2 222.1,201.6 222.5,198.8 222.9,196.9 223.3,196.0 223.7,195.9 224.1,197.0 224.5,198.9 224.9,201.6 225.3,205.1 225.7,209.1 226.1,213.6 226.5,218.4 226.9,223.3 227.3,228.2 227.7,233.0 228.1,237.5 228.5,241.5 228.9,245.0 229.3,247.7 229.7,249.6 230.1,250.8 230.5,251.0 230.9,250.5 231.3,249.2 231.7,247.1 232.1,244.3 232.5,240.9 232.9,236.9 233.3,232.5 233.7,227.9 234.1,223.2 234.5,218.6 234.9,214.3 235.3,210.3 235.7,206.8 236.1,203.8 236.5,201.6 236.9,200.1 237.3,199.4 237.7,199.5 238.1,200.5 238.5,202.4 238.9,204.9 239.3,208.2 239.7,211.9 240.1,216.1 240.5,220.5 240.9,225.1 241.3,229.8 241.7,234.2 242.1,238.4 242.5,242.2 242.9,245.3 243.3,247.8 243.7,249.6 244.1,250.5 244.5,250.6 244.9,249.8 245.3,248.3 245.7,246.0 246.1,243.0 246.5,239.4 246.9,235.3 247.3,230.8 247.7,226.1 248.1,221.4 248.5,216.8 248.9,212.5 249.3,208.5 249.7,205.2 250.1,202.3 250.5,200.1 250.9,198.7 251.3,198.1 251.7,198.5 252.1,199.8 252.5,202.0 252.9,205.0 253.3,208.6 253.7,212.8 254.1,217.3 254.5,222.1 254.9,227.0 255.3,231.9 255.7,236.6 256.1,241.0 256.5,244.8 256.9,247.9 257.3,250.3 257.7,251.8 258.1,252.5 258.5,252.2 258.9,251.3 259.3,249.5 259.7,246.8 260.1,243.4 260.5,239.3 260.9,234.6 261.3,229.5 261.5,226.9" fill="none" stroke="#0d0" stroke-width="1.4" stroke-linejoin="round" /><polyline points="24.6,202.6 25.0,199.1 25.4,196.5 25.8,194.8 26.2,194.3 26.6,194.7 27.0,196.3 27.4,198.8 27.8,202.3 28.2,206.5 28.6,211.4 29.0,216.7 29.4,222.3 29.8,228.1 30.2,233.7 30.6,239.0 31.0,243.8 31.4,247.9 31.8,251.3 32.2,253.7 32.6,255.2 33.0,255.5 33.4,254.9 33.8,253.1 34.2,250.4 34.6,246.8 35.0,242.4 35.4,237.5 35.8,232.1 36.2,226.4 36.6,220.7 37.0,215.1 37.4,209.9 37.8,205.2 38.2,201.2 38.6,198.0 39.0,195.7 39.4,194.5 39.8,194.3 40.2,195.2 40.6,197.1 41.0,200.0 41.4,203.8 41.8,208.3 42.2,213.3 42.6,218.8 43.0,224.5 43.4,230.2 43.8,235.7 44.2,240.8 44.6,245.4 45.0,249.3 45.4,252.3 45.8,254.4 46.2,255.4 46.6,255.4 47.0,254.3 47.4,252.2 47.8,249.2 48.2,245.2 48.6,240.6 49.0,235.5 49.4,229.9 49.8,224.2 50.2,218.6 50.6,213.1 51.0,208.1 51.4,203.6 51.8,199.9 52.2,197.0 52.6,195.1 53.0,194.3 53.4,194.5 53.8,195.8 54.2,198.1 54.6,201.3 55.0,205.4 55.4,210.1 55.8,215.3 56.2,220.9 56.6,226.6 57.0,232.3 57.4,237.7 57.8,242.6 58.2,247.0 58.2,251.5 58.6,250.6 59.0,248.9 59.4,246.3 59.8,243.0 60.2,239.1 60.6,234.6 61.0,229.8 61.4,224.7 61.8,219.7 62.2,214.8 62.6,210.3 63.0,206.2 63.4,202.8 63.8,200.2 64.2,198.3 64.6,197.5 65.0,197.5 65.4,198.5 65.8,200.5 66.2,203.3 66.6,206.9 67.0,211.1 67.4,215.8 67.8,220.8 68.2,226.0 68.6,231.2 69.0,236.2 69.4,240.8 69.8,244.9 70.2,248.3 70.6,250.9 71.0,252.6 71.4,253.3 71.8,253.0 72.2,251.8 72.6,249.8 73.0,246.8 73.4,243.1 73.8,238.6 74.2,233.6 74.6,228.2 75.0,222.6 75.4,217.0 75.8,211.7 76.2,206.7 76.6,202.3 77.0,198.6 77.4,195.8 77.8,193.9 78.2,193.2 78.6,193.5 79.0,195.0 79.4,197.6 79.8,201.2 80.2,205.6 80.6,210.7 81.0,216.4 81.4,222.4 81.8,228.6 82.2,234.7 82.6,240.5 83.0,245.8 83.4,250.4 83.8,254.2 84.2,257.0 84.6,258.7 85.0,259.2 85.4,258.6 85.8,256.8 86.2,253.8 86.6,249.8 87.0,244.9 87.4,239.2 87.8,233.0 88.2,226.4 88.6,219.6 89.0,213.0 89.4,206.7 89.8,201.0 90.2,196.1 90.6,192.1 91.0,189.2 91.4,187.6 91.8,187.2 92.2,188.2 92.6,190.4 93.0,193.9 93.4,198.5 93.8,204.1 94.2,210.5 94.6,217.4 95.0,224.7 95.4,232.0 95.8,239.2 96.2,245.9 96.6,252.0 97.0,257.2 97.4,261.3 97.8,264.1 98.2,265.6 98.6,265.6 99.0,264.2 99.4,261.4 99.8,257.3 100.2,252.1 100.6,245.9 101.0,238.9 101.4,231.4 101.8,223.7 102.2,215.9 102.6,208.4 103.0,201.5 103.4,195.3 103.8,190.1 104.2,186.2 104.6,183.5 105.0,182.3 105.4,182.6 105.8,184.4 106.2,187.6 106.6,192.1 107.0,197.8 107.4,204.4 107.8,211.8 108.2,219.6 108.6,227.7 109.0,235.6 109.4,243.2 109.8,250.2 110.2,256.4 110.6,261.4 111.0,265.2 111.4,267.6 111.8,268.4 112.2,267.8 112.6,265.6 113.0,262.0 113.4,257.2 113.8,251.2 114.2,244.3 114.6,236.7 115.0,228.7 115.4,220.6 115.8,212.6 116.2,205.1 116.6,198.2 117.0,192.3 117.4,187.5 117.8,184.0 118.2,182.0 118.6,181.5 119.0,182.6 119.4,185.1 119.8,188.9 120.2,194.0 120.6,200.2 121.0,207.2 121.4,214.8 121.8,222.7 122.2,230.6 122.6,238.3 123.0,245.5 123.4,252.0 123.8,257.5 124.2,261.8 124.6,264.9 125.0,266.5 125.4,266.7 125.8,265.4 126.2,262.8 126.6,258.8 127.0,253.6 127.4,247.5 127.8,240.7 128.2,233.3 128.6,225.6 129.0,218.0 129.4,210.6 129.8,203.8 130.2,197.7 130.6,192.6 131.0,188.7 131.4,186.0 131.8,184.6 132.2,184.7 132.6,186.1 133.0,188.9 133.4,193.0 133.8,198.1 134.2,204.2 134.6,210.9 135.0,218.2 135.4,225.6 135.8,233.0 136.2,240.1 136.6,246.6 137.0,252.4 137.4,257.2 137.8,260.9 138.2,263.3 138.6,264.4 139.0,264.0 139.4,262.2 139.8,259.2 140.2,255.0 140.6,249.8 141.0,243.7 141.4,237.1 141.8,230.1 142.2,222.9 142.6,215.8 143.0,209.2 143.4,203.1 143.8,197.8 144.2,193.5 144.6,190.3 145.0,188.3 145.4,187.6 145.8,188.1 146.2,189.9 146.6,192.9 147.0,197.1 147.4,202.2 147.8,208.0 148.2,214.5 148.6,221.2 149.0,228.1 149.4,234.9 149.8,241.3 150.2,247.1 150.6,252.1 151.0,256.2 151.4,259.1 151.8,260.9 152.2,261.4 152.6,260.6 153.0,258.7 153.4,255.5 153.8,251.3 154.2,246.1 154.6,240.3 155.0,233.9 155.4,227.2 155.8,220.5 156.2,213.9 156.6,207.7 157.0,202.1 157.4,197.4 157.8,193.6 158.2,190.9 158.6,189.4 159.0,189.1 159.4,190.1 159.8,192.3 160.2,195.6 160.6,199.9 161.0,205.1 161.4,211.0 161.8,217.3 162.2,223.9 162.6,230.5 163.0,236.8 163.4,242.8 163.8,248.1 164.2,252.6 164.6,256.1 165.0,258.5 165.4,259.7 165.8,259.8 166.2,258.6 166.6,256.4 167.0,253.1 167.4,248.7 167.8,243.5 168.2,237.6 168.6,231.3 169.0,224.7 169.4,218.1 169.8,211.6 170.2,205.6 170.6,200.3 171.0,195.7 171.4,192.2 171.8,189.8 172.2,188.6 172.6,188.7 173.0,190.1 173.4,192.8 173.8,196.6 174.2,201.3 174.6,206.9 175.0,213.1 175.4,219.6 175.8,226.4 176.2,233.1 176.6,239.4 177.0,245.3 177.4,250.4 177.8,254.7 178.2,257.9 178.6,259.9 179.0,260.7 179.4,260.4 179.8,258.9 180.2,256.1 180.6,252.3 181.0,247.5 181.4,241.8 181.8,235.6 182.2,228.9 182.6,222.1 183.0,215.4 183.4,208.9 183.8,203.0 184.2,197.8 184.6,193.5 185.0,190.3 185.4,188.3 185.8,187.6 186.2,188.2 186.6,190.1 187.0,193.3 187.4,197.6 187.8,202.8 188.2,208.7 188.6,215.3 189.0,222.1 189.4,229.0 189.8,235.8 190.2,242.1 190.6,247.9 191.0,252.8 191.4,256.8 191.8,259.6 192.2,261.3 192.6,261.7 193.0,260.9 193.4,258.8 193.8,255.6 194.2,251.2 194.6,245.9 195.0,239.9 195.2,236.7 195.2,257.6 195.6,251.6 196.0,244.7 196.4,237.2 196.8,229.3 197.2,221.3 197.6,213.4 198.0,206.0 198.4,199.2 198.8,193.2 199.2,188.3 199.6,184.7 200.0,182.3 200.4,181.4 200.8,181.9 201.2,183.9 201.6,187.2 202.0,191.7 202.4,197.2 202.8,203.7 203.2,210.8 203.6,218.3 204.0,225.9 204.4,233.5 204.8,240.8 205.2,247.5 205.6,253.3 206.0,258.1 206.4,261.7 206.8,264.0 207.2,265.1 207.6,265.0 208.0,263.5 208.4,260.8 208.8,256.9 209.2,252.1 209.6,246.3 210.0,239.9 210.4,233.1 210.8,226.1 211.2,219.3 211.6,212.9 212.0,207.0 212.4,201.6 212.8,197.2 213.2,193.6 213.6,191.2 214.0,189.9 214.4,189.8 214.8,190.9 215.2,193.1 215.6,196.3 216.0,200.3 216.4,205.1 216.8,210.4 217.2,216.1 217.6,222.0 218.0,227.9 218.4,233.6 218.8,239.0 219.2,243.8 219.6,247.8 220.0,251.0 220.4,253.3 220.8,254.5 221.2,254.9 221.6,254.4 222.0,252.9 222.4,250.5 222.8,247.4 223.2,243.5 223.6,239.0 224.0,234.2 224.4,229.0 224.8,223.9 225.2,218.8 225.6,214.1 226.0,209.8 226.4,205.9 226.8,202.7 227.2,200.3 227.6,198.7 228.0,197.9 228.4,198.1 228.8,199.2 229.2,201.1 229.6,203.7 230.0,207.0 230.4,210.9 230.8,215.1 231.2,219.7 231.6,224.4 232.0,229.1 232.4,233.6 232.8,237.9 233.2,241.8 233.6,245.0 234.0,247.5 234.4,249.3 234.8,250.3 235.2,250.4 235.6,249.7 236.0,248.3 236.4,246.2 236.8,243.3 237.2,239.8 237.6,235.8 238.0,231.4 238.4,226.9 238.8,222.3 239.2,217.7 239.6,213.4 240.0,209.5 240.4,206.1 240.8,203.3 241.2,201.1 241.6,199.8 242.0,199.2 242.4,199.5 242.8,200.7 243.2,202.7 243.6,205.4 244.0,208.7 244.4,212.6 244.8,216.9 245.2,221.5 245.6,226.1 246.0,230.8 246.4,235.2 246.8,239.4 247.2,243.1 247.6,246.2 248.0,248.5 248.4,250.1 248.8,250.9 249.2,250.8 249.6,249.9 250.0,248.2 250.4,245.8 250.8,242.7 251.2,238.9 251.6,234.7 252.0,230.0 252.4,225.2 252.8,220.3 253.2,215.6 253.6,211.1 254.0,207.2 254.4,203.8 254.8,201.0 255.2,198.9 255.6,197.7 256.0,197.4 256.4,198.1 256.8,199.7 257.2,202.1 257.6,205.3 258.0,209.1 258.4,213.4 258.8,218.1 259.2,223.1 259.6,228.1 260.0,233.2 260.4,238.1 260.8,242.6 261.2,246.5 261.5,249.0" fill="none" stroke="#00f" stroke-width="1.4" stroke-linejoin="round" /></g><rect x="24.6" y="163.6" width="236.8" height="122.6" fill="none" stroke="#b0b0b0" stroke-width="1.05"/><text transform="translate(24.60 291.80) scale(0.920 1)" font-size="5.70" text-anchor="middle" font-family="'Liberation Serif', serif" fill="#111" stroke="#111" stroke-width="0.12" font-weight="normal" >3.95</text><text transform="translate(58.43 291.80) scale(0.920 1)" font-size="5.70" text-anchor="middle" font-family="'Liberation Serif', serif" fill="#111" stroke="#111" stroke-width="0.12" font-weight="normal" >4</text><text transform="translate(92.26 291.80) scale(0.920 1)" font-size="5.70" text-anchor="middle" font-family="'Liberation Serif', serif" fill="#111" stroke="#111" stroke-width="0.12" font-weight="normal" >4.05</text><text transform="translate(126.09 291.80) scale(0.920 1)" font-size="5.70" text-anchor="middle" font-family="'Liberation Serif', serif" fill="#111" stroke="#111" stroke-width="0.12" font-weight="normal" >4.1</text><text transform="translate(159.91 291.80) scale(0.920 1)" font-size="5.70" text-anchor="middle" font-family="'Liberation Serif', serif" fill="#111" stroke="#111" stroke-width="0.12" font-weight="normal" >4.15</text><text transform="translate(193.74 291.80) scale(0.920 1)" font-size="5.70" text-anchor="middle" font-family="'Liberation Serif', serif" fill="#111" stroke="#111" stroke-width="0.12" font-weight="normal" >4.2</text><text transform="translate(227.57 291.80) scale(0.920 1)" font-size="5.70" text-anchor="middle" font-family="'Liberation Serif', serif" fill="#111" stroke="#111" stroke-width="0.12" font-weight="normal" >4.25</text><text transform="translate(261.40 291.80) scale(0.920 1)" font-size="5.70" text-anchor="middle" font-family="'Liberation Serif', serif" fill="#111" stroke="#111" stroke-width="0.12" font-weight="normal" >4.3</text><text transform="translate(23.00 165.60) scale(0.920 1)" font-size="5.70" text-anchor="end" font-family="'Liberation Serif', serif" fill="#111" stroke="#111" stroke-width="0.12" font-weight="normal" >2</text><text transform="translate(23.00 180.92) scale(0.920 1)" font-size="5.70" text-anchor="end" font-family="'Liberation Serif', serif" fill="#111" stroke="#111" stroke-width="0.12" font-weight="normal" >1.5</text><text transform="translate(23.00 196.25) scale(0.920 1)" font-size="5.70" text-anchor="end" font-family="'Liberation Serif', serif" fill="#111" stroke="#111" stroke-width="0.12" font-weight="normal" >1</text><text transform="translate(23.00 211.57) scale(0.920 1)" font-size="5.70" text-anchor="end" font-family="'Liberation Serif', serif" fill="#111" stroke="#111" stroke-width="0.12" font-weight="normal" >0.5</text><text transform="translate(23.00 226.90) scale(0.920 1)" font-size="5.70" text-anchor="end" font-family="'Liberation Serif', serif" fill="#111" stroke="#111" stroke-width="0.12" font-weight="normal" >0</text><text transform="translate(23.00 242.22) scale(0.920 1)" font-size="5.70" text-anchor="end" font-family="'Liberation Serif', serif" fill="#111" stroke="#111" stroke-width="0.12" font-weight="normal" >-0.5</text><text transform="translate(23.00 257.55) scale(0.920 1)" font-size="5.70" text-anchor="end" font-family="'Liberation Serif', serif" fill="#111" stroke="#111" stroke-width="0.12" font-weight="normal" >-1</text><text transform="translate(23.00 272.88) scale(0.920 1)" font-size="5.70" text-anchor="end" font-family="'Liberation Serif', serif" fill="#111" stroke="#111" stroke-width="0.12" font-weight="normal" >-1.5</text><text transform="translate(23.00 288.20) scale(0.920 1)" font-size="5.70" text-anchor="end" font-family="'Liberation Serif', serif" fill="#111" stroke="#111" stroke-width="0.12" font-weight="normal" >-2</text><path d="M24.6 286.2v-1.6M24.6 163.6v1.6 M58.4 286.2v-1.6M58.4 163.6v1.6 M92.3 286.2v-1.6M92.3 163.6v1.6 M126.1 286.2v-1.6M126.1 163.6v1.6 M159.9 286.2v-1.6M159.9 163.6v1.6 M193.7 286.2v-1.6M193.7 163.6v1.6 M227.6 286.2v-1.6M227.6 163.6v1.6 M261.4 286.2v-1.6M261.4 163.6v1.6 M24.6 163.6h1.6M261.4 163.6h-1.6 M24.6 178.9h1.6M261.4 178.9h-1.6 M24.6 194.2h1.6M261.4 194.2h-1.6 M24.6 209.6h1.6M261.4 209.6h-1.6 M24.6 224.9h1.6M261.4 224.9h-1.6 M24.6 240.2h1.6M261.4 240.2h-1.6 M24.6 255.5h1.6M261.4 255.5h-1.6 M24.6 270.9h1.6M261.4 270.9h-1.6 M24.6 286.2h1.6M261.4 286.2h-1.6" stroke="#999" stroke-width="0.6" fill="none"/><text x="12.2" y="226.0" font-size="6.20" text-anchor="middle" font-family="'Liberation Serif', serif" fill="#111" font-weight="normal" transform="rotate(-90 12.2 226.0)">6103PT/p.u.</text><text x="142.5" y="297.3" font-size="5.20" text-anchor="middle" font-family="'Liberation Serif', serif" fill="#111" font-weight="normal" >t/s</text><text x="137.0" y="310.1" font-size="10.50" text-anchor="middle" font-family="'Liberation Serif', serif" fill="#111" font-weight="bold" >(c)</text><line x1="31.8" y1="170.6" x2="41.3" y2="170.6" stroke="#f00" stroke-width="0.9" stroke-opacity="0.45"/><text transform="translate(42.90 172.50) scale(0.910 1)" font-size="6.60" text-anchor="start" font-family="'Liberation Serif', serif" fill="#111" stroke="#111" stroke-width="0.12" font-weight="normal" >PSCAD-A</text><line x1="72.5" y1="170.6" x2="82.0" y2="170.6" stroke="#0d0" stroke-width="0.9" stroke-opacity="0.45"/><text transform="translate(82.60 172.50) scale(0.910 1)" font-size="6.60" text-anchor="start" font-family="'Liberation Serif', serif" fill="#111" stroke="#111" stroke-width="0.12" font-weight="normal" >PSCAD-B</text><line x1="110.5" y1="170.6" x2="120.0" y2="170.6" stroke="#00f" stroke-width="0.9" stroke-opacity="0.45"/><text transform="translate(120.50 172.50) scale(0.910 1)" font-size="6.60" text-anchor="start" font-family="'Liberation Serif', serif" fill="#111" stroke="#111" stroke-width="0.12" font-weight="normal" >PSCAD-C</text><circle cx="152.6" cy="170.4" r="0.75" fill="#f00" fill-opacity="0.5"/><text transform="translate(159.40 172.50) scale(0.910 1)" font-size="6.60" text-anchor="start" font-family="'Liberation Serif', serif" fill="#111" stroke="#111" stroke-width="0.12" font-weight="normal" >FRTDS-A</text><circle cx="190.0" cy="170.4" r="0.75" fill="#0d0" fill-opacity="0.5"/><text transform="translate(196.70 172.50) scale(0.910 1)" font-size="6.60" text-anchor="start" font-family="'Liberation Serif', serif" fill="#111" stroke="#111" stroke-width="0.12" font-weight="normal" >FRTDS-B</text><circle cx="227.6" cy="170.4" r="0.75" fill="#00f" fill-opacity="0.5"/><text transform="translate(234.60 172.50) scale(0.910 1)" font-size="6.60" text-anchor="start" font-family="'Liberation Serif', serif" fill="#111" stroke="#111" stroke-width="0.12" font-weight="normal" >FRTDS-C</text><clipPath id="cd"><rect x="301.5" y="162.7" width="242.8" height="123.5"/></clipPath><g clip-path="url(#cd)"><polyline points="301.4,254.7 301.8,253.0 302.2,250.5 302.6,247.0 303.0,242.9 303.4,238.1 303.8,232.8 304.2,227.3 304.6,221.7 305.0,216.2 305.4,211.0 305.8,206.2 306.2,202.0 306.6,198.5 307.0,195.9 307.4,194.2 307.8,193.6 308.2,193.9 308.6,195.3 309.0,197.6 309.4,200.8 309.8,204.8 310.2,209.5 310.6,214.6 311.0,220.0 311.4,225.6 311.8,231.2 312.2,236.5 312.6,241.5 313.0,245.9 313.4,249.5 313.8,252.4 314.2,254.3 314.6,255.2 315.0,255.2 315.4,254.1 315.8,252.0 316.2,249.0 316.6,245.2 317.0,240.8 317.4,235.8 317.8,230.4 318.2,224.8 318.6,219.2 319.0,213.8 319.4,208.7 319.8,204.2 320.2,200.3 320.6,197.2 321.0,195.0 321.4,193.8 321.8,193.6 322.2,194.4 322.6,196.2 323.0,199.0 323.4,202.5 323.8,206.8 324.2,211.7 324.6,217.0 325.0,222.6 325.4,228.2 325.8,233.6 326.2,238.8 326.6,243.5 327.0,247.6 327.4,250.9 327.8,253.4 328.2,254.8 328.6,255.3 329.0,254.8 329.4,253.3 329.8,250.8 330.2,247.4 330.6,243.3 331.0,238.6 331.4,233.4 331.8,227.9 332.2,222.3 332.6,216.7 333.0,211.5 333.4,206.6 333.8,202.3 334.2,198.8 334.6,196.1 334.6,196.1 334.6,196.1 335.0,194.4 335.4,193.5 335.8,193.7 336.2,194.9 336.6,197.1 337.0,200.2 337.4,204.1 337.8,208.7 338.2,213.9 338.6,219.4 339.0,225.1 339.4,230.8 339.8,236.3 340.2,241.5 340.6,246.1 341.0,250.0 341.4,253.1 341.8,255.2 342.2,256.3 342.6,256.4 343.0,255.5 343.4,253.5 343.8,250.5 344.2,246.6 344.6,242.1 345.0,236.9 345.4,231.3 345.8,225.4 346.2,219.5 346.6,213.7 347.0,208.3 347.4,203.4 347.8,199.2 348.2,195.8 348.6,193.3 349.0,191.8 349.4,191.4 349.8,192.0 350.2,193.7 350.6,196.4 351.0,200.0 351.4,204.6 351.8,209.8 352.2,215.6 352.6,221.7 353.0,228.0 353.4,234.3 353.8,240.3 354.2,245.8 354.6,250.7 355.0,254.8 355.4,257.9 355.8,260.0 356.2,260.9 356.6,260.5 357.0,259.0 357.4,256.3 357.8,252.5 358.2,247.8 358.6,242.2 359.0,236.0 359.4,229.3 359.8,222.5 360.2,215.6 360.6,208.9 361.0,202.7 361.4,197.2 361.8,192.5 362.2,188.8 362.6,186.3 363.0,185.0 363.4,185.0 363.8,186.2 364.2,188.8 364.6,192.6 365.0,197.5 365.4,203.3 365.8,209.9 366.2,217.1 366.6,224.5 367.0,232.1 367.4,239.5 367.8,246.5 368.2,252.8 368.6,258.3 369.0,262.7 369.4,265.9 369.8,267.7 370.2,268.1 370.6,267.0 371.0,264.5 371.4,260.7 371.8,255.6 372.2,249.5 372.6,242.4 373.0,234.7 373.4,226.6 373.8,218.4 374.2,210.2 374.6,202.5 375.0,195.4 375.4,189.2 375.8,184.2 376.2,180.4 376.6,178.1 377.0,177.3 377.4,178.1 377.8,180.4 378.2,184.2 378.6,189.4 379.0,195.7 379.4,203.1 379.8,211.2 380.2,219.7 380.6,228.5 381.0,237.2 381.4,245.5 381.8,253.2 382.2,260.0 382.6,265.6 383.0,269.9 383.4,272.7 383.8,273.9 384.2,273.4 384.6,271.3 385.0,267.6 385.4,262.5 385.8,256.2 386.2,248.8 386.6,240.5 387.0,231.8 387.4,222.8 387.8,213.8 388.2,205.1 388.6,197.1 389.0,190.0 389.4,184.0 389.8,179.4 390.2,176.2 390.6,174.6 391.0,174.7 391.4,176.4 391.8,179.7 392.2,184.5 392.6,190.6 393.0,197.8 393.4,205.9 393.8,214.6 394.2,223.7 394.6,232.7 395.0,241.5 395.4,249.7 395.8,257.1 396.2,263.4 396.6,268.5 397.0,272.0 397.4,274.0 397.8,274.3 398.2,272.9 398.6,270.0 399.0,265.5 399.4,259.8 399.8,252.8 400.2,245.0 400.6,236.5 401.0,227.7 401.4,218.8 401.8,210.1 402.2,201.9 402.6,194.4 403.0,188.0 403.4,182.8 403.8,179.0 404.2,176.8 404.6,176.0 405.0,176.9 405.4,179.4 405.8,183.3 406.2,188.6 406.6,195.0 407.0,202.4 407.4,210.4 407.8,218.9 408.2,227.6 408.6,236.1 409.0,244.2 409.4,251.6 409.8,258.1 410.2,263.5 410.6,267.6 411.0,270.2 411.4,271.3 411.8,270.9 412.2,268.9 412.6,265.4 413.0,260.7 413.4,254.7 413.8,247.8 414.2,240.2 414.6,232.0 415.0,223.7 415.4,215.5 415.8,207.5 416.2,200.2 416.6,193.7 417.0,188.3 417.4,184.0 417.8,181.2 418.2,179.7 418.6,179.7 419.0,181.2 419.4,184.1 419.8,188.3 420.2,193.7 420.6,200.1 421.0,207.2 421.4,214.9 421.8,222.9 422.2,231.0 422.6,238.7 423.0,246.0 423.4,252.5 423.8,258.1 424.2,262.6 424.6,265.7 425.0,267.6 425.4,267.9 425.8,266.9 426.2,264.4 426.6,260.6 427.0,255.7 427.4,249.7 427.8,243.0 428.2,235.7 428.6,228.0 429.0,220.3 429.4,212.8 429.8,205.6 430.2,199.2 430.6,193.6 431.0,189.0 431.4,185.7 431.8,183.6 432.2,182.8 432.6,183.3 433.0,185.2 433.4,188.4 433.8,192.8 434.2,198.3 434.6,204.5 435.0,211.5 435.4,218.9 435.8,226.4 436.2,233.9 436.6,241.1 437.0,247.8 437.4,253.6 437.8,258.5 438.2,262.3 438.6,264.8 439.0,266.0 439.4,265.8 439.8,264.3 440.2,261.4 440.6,257.3 441.0,252.2 441.4,246.1 441.8,239.3 442.2,232.1 442.6,224.5 443.0,217.0 443.4,209.8 443.8,203.0 444.2,197.0 444.6,191.8 445.0,187.8 445.4,184.9 445.8,183.4 446.2,183.1 446.6,184.2 447.0,186.7 447.4,190.3 447.8,195.2 448.2,201.0 448.6,207.6 449.0,214.8 449.4,222.3 449.8,229.9 450.2,237.3 450.6,244.3 451.0,250.7 451.4,256.3 451.8,260.8 452.2,264.1 452.6,266.1 453.0,266.8 453.4,266.0 453.8,263.9 454.2,260.5 454.6,255.8 455.0,250.2 455.4,243.6 455.8,236.4 456.2,228.8 456.6,221.0 457.0,213.4 457.4,206.0 457.8,199.3 458.2,193.4 458.6,188.5 459.0,184.7 459.4,182.3 459.8,181.3 460.2,181.6 460.6,183.5 461.0,186.6 461.4,191.0 461.8,196.6 462.2,203.0 462.6,210.2 463.0,217.8 463.4,225.7 463.8,233.6 464.2,241.2 464.6,248.2 465.0,254.5 465.4,259.7 465.8,263.9 466.2,266.7 466.6,268.1 467.0,268.1 467.4,266.6 467.8,263.8 468.2,259.6 468.6,254.3 469.0,248.0 469.4,240.9 469.8,233.3 470.2,225.4 470.6,217.4 471.0,209.6 471.4,202.4 471.8,195.8 472.2,190.2 472.6,185.8 473.0,182.5 473.4,180.7 473.8,180.3 474.2,181.4 474.6,183.9 474.6,185.7 475.0,189.9 475.4,195.2 475.8,201.4 476.2,208.3 476.6,215.8 477.0,223.5 477.4,231.2 477.8,238.7 478.2,245.8 478.6,252.2 479.0,257.7 479.4,262.1 479.8,265.4 480.2,267.3 480.6,267.9 481.0,267.2 481.4,265.1 481.8,261.8 482.2,257.3 482.6,251.8 483.0,245.4 483.4,238.4 483.8,231.0 484.2,223.5 484.6,216.1 485.0,208.9 485.4,202.3 485.8,196.5 486.2,191.5 486.6,187.6 487.0,184.9 487.4,183.5 487.8,183.4 488.2,184.7 488.6,187.1 489.0,190.7 489.4,195.2 489.8,200.7 490.2,206.8 490.6,213.3 491.0,220.2 491.4,227.0 491.8,233.7 492.2,240.0 492.6,245.7 493.0,250.6 493.4,254.7 493.8,257.7 494.2,259.6 494.6,260.5 495.0,260.1 495.4,258.7 495.8,256.2 496.2,252.8 496.6,248.6 497.0,243.7 497.4,238.3 497.8,232.6 498.2,226.7 498.6,220.8 499.0,215.1 499.4,209.9 499.8,205.1 500.2,201.1 500.6,197.8 501.0,195.5 501.4,194.0 501.8,193.5 502.2,193.9 502.6,195.3 503.0,197.6 503.4,200.7 503.8,204.5 504.2,208.8 504.6,213.6 505.0,218.6 505.4,223.8 505.8,228.9 506.2,233.8 506.6,238.4 507.0,242.4 507.4,245.9 507.8,248.6 508.2,250.6 508.6,251.7 509.0,251.9 509.4,251.3 509.8,249.9 510.2,247.7 510.6,244.8 511.0,241.3 511.4,237.4 511.8,233.1 512.2,228.5 512.6,223.9 513.0,219.2 513.4,214.8 513.8,210.7 514.2,207.0 514.6,203.9 515.0,201.4 515.4,199.6 515.8,198.7 516.2,198.5 516.6,199.2 517.0,200.6 517.4,202.8 517.8,205.7 518.2,209.1 518.6,213.0 519.0,217.2 519.4,221.6 519.8,226.1 520.2,230.6 520.6,234.8 521.0,238.7 521.4,242.2 521.8,245.2 522.2,247.5 522.6,249.1 523.0,249.9 523.4,250.0 523.8,249.3 524.2,247.7 524.6,245.5 525.0,242.5 525.4,239.0 525.8,235.0 526.2,230.7 526.6,226.2 527.0,221.6 527.4,217.0 527.8,212.7 528.2,208.7 528.6,205.2 529.0,202.3 529.4,200.1 529.8,198.6 530.2,197.9 530.6,198.1 531.0,199.1 531.4,200.9 531.8,203.5 532.2,206.7 532.6,210.4 533.0,214.6 533.4,219.2 533.8,223.9 534.2,228.6 534.6,233.2 535.0,237.5 535.4,241.5 535.8,245.0 536.2,247.8 536.6,250.0 537.0,251.3 537.4,251.8 537.8,251.5 538.2,250.3 538.6,248.3 539.0,245.5 539.4,242.0 539.8,238.0 540.2,233.5 540.6,228.8 541.0,223.8 541.4,218.9 541.8,214.1 542.2,209.7 542.6,205.6 543.0,202.2 543.4,199.4 543.8,197.4 544.0,196.7" fill="none" stroke="#f00" stroke-width="1.4" stroke-linejoin="round" /><polyline points="301.4,214.8 301.8,220.2 302.2,225.8 302.6,231.4 303.0,236.7 303.4,241.6 303.8,246.0 304.2,249.6 304.6,252.5 305.0,254.3 305.4,255.2 305.8,255.1 306.2,254.0 306.6,251.9 307.0,248.9 307.4,245.1 307.8,240.6 308.2,235.6 308.6,230.2 309.0,224.6 309.4,219.0 309.8,213.6 310.2,208.6 310.6,204.0 311.0,200.2 311.4,197.1 311.8,195.0 312.2,193.8 312.6,193.6 313.0,194.5 313.4,196.3 313.8,199.1 314.2,202.7 314.6,207.0 315.0,211.9 315.4,217.2 315.8,222.7 316.2,228.3 316.6,233.8 317.0,239.0 317.4,243.7 317.8,247.7 318.2,251.0 318.6,253.4 319.0,254.9 319.4,255.3 319.8,254.8 320.2,253.2 320.6,250.7 321.0,247.3 321.4,243.2 321.8,238.4 322.2,233.2 322.6,227.7 323.0,222.1 323.4,216.6 323.8,211.3 324.2,206.5 324.6,202.2 325.0,198.7 325.4,196.0 325.8,194.3 326.2,193.6 326.6,193.9 327.0,195.2 327.4,197.4 327.8,200.6 328.2,204.5 328.6,209.1 329.0,214.2 329.4,219.7 329.8,225.3 330.2,230.8 330.6,236.2 331.0,241.2 331.4,245.6 331.8,249.3 332.2,252.2 332.6,254.2 333.0,255.2 333.4,255.2 333.8,254.2 334.2,252.2 334.6,249.3 334.6,249.3 334.6,249.3 335.0,244.0 335.4,240.2 335.8,239.8 336.2,239.2 336.6,238.1 337.0,236.6 337.4,234.6 337.8,232.3 338.2,229.7 338.6,227.0 339.0,224.1 339.4,221.3 339.8,218.5 340.2,215.9 340.6,213.6 341.0,211.7 341.4,210.1 341.8,209.1 342.2,208.5 342.6,208.5 343.0,208.9 343.4,209.9 343.8,211.4 344.2,213.4 344.6,215.6 345.0,218.2 345.4,221.0 345.8,224.0 346.2,226.9 346.6,229.8 347.0,232.5 347.4,235.0 347.8,237.1 348.2,238.8 348.6,240.0 349.0,240.8 349.4,241.0 349.8,240.7 350.2,239.8 350.6,238.5 351.0,236.7 351.4,234.4 351.8,231.8 352.2,228.9 352.6,225.8 353.0,222.7 353.4,219.5 353.8,216.5 354.2,213.8 354.6,211.3 355.0,209.3 355.4,207.7 355.8,206.7 356.2,206.2 356.6,206.4 357.0,207.2 357.4,208.5 357.8,210.4 358.2,212.8 358.6,215.6 359.0,218.7 359.4,222.0 359.8,225.4 360.2,228.9 360.6,232.2 361.0,235.3 361.4,238.1 361.8,240.4 362.2,242.3 362.6,243.5 363.0,244.2 363.4,244.2 363.8,243.6 364.2,242.3 364.6,240.4 365.0,237.9 365.4,235.0 365.8,231.7 366.2,228.1 366.6,224.4 367.0,220.6 367.4,216.9 367.8,213.4 368.2,210.3 368.6,207.5 369.0,205.3 369.4,203.7 369.8,202.8 370.2,202.6 370.6,203.2 371.0,204.4 371.4,206.3 371.8,208.9 372.2,211.9 372.6,215.5 373.0,219.3 373.4,223.4 373.8,227.5 374.2,231.6 374.6,235.4 375.0,239.0 375.4,242.1 375.8,244.6 376.2,246.5 376.6,247.6 377.0,248.0 377.4,247.6 377.8,246.5 378.2,244.6 378.6,242.0 379.0,238.8 379.4,235.1 379.8,231.1 380.2,226.8 380.6,222.4 381.0,218.1 381.4,213.9 381.8,210.1 382.2,206.7 382.6,203.9 383.0,201.7 383.4,200.3 383.8,199.7 384.2,200.0 384.6,201.0 385.0,202.9 385.4,205.4 385.8,208.6 386.2,212.3 386.6,216.4 387.0,220.8 387.4,225.3 387.8,229.8 388.2,234.1 388.6,238.1 389.0,241.7 389.4,244.7 389.8,247.0 390.2,248.6 390.6,249.4 391.0,249.3 391.4,248.5 391.8,246.8 392.2,244.4 392.6,241.4 393.0,237.8 393.4,233.7 393.8,229.4 394.2,224.8 394.6,220.3 395.0,215.9 395.4,211.8 395.8,208.1 396.2,205.0 396.6,202.4 397.0,200.7 397.4,199.7 397.8,199.5 398.2,200.2 398.6,201.7 399.0,203.9 399.4,206.8 399.8,210.3 400.2,214.2 400.6,218.4 401.0,222.8 401.4,227.3 401.8,231.6 402.2,235.7 402.6,239.5 403.0,242.7 403.4,245.3 403.8,247.2 404.2,248.3 404.6,248.7 405.0,248.2 405.4,247.0 405.8,245.0 406.2,242.4 406.6,239.2 407.0,235.5 407.4,231.5 407.8,227.2 408.2,222.9 408.6,218.6 409.0,214.6 409.4,210.9 409.8,207.6 410.2,204.9 410.6,202.9 411.0,201.6 411.4,201.0 411.8,201.2 412.2,202.2 412.6,204.0 413.0,206.3 413.4,209.3 413.8,212.8 414.2,216.6 414.6,220.7 415.0,224.8 415.4,228.9 415.8,232.9 416.2,236.6 416.6,239.8 417.0,242.5 417.4,244.7 417.8,246.1 418.2,246.8 418.6,246.8 419.0,246.1 419.4,244.6 419.8,242.5 420.2,239.8 420.6,236.6 421.0,233.1 421.4,229.2 421.8,225.2 422.2,221.2 422.6,217.3 423.0,213.7 423.4,210.4 423.8,207.6 424.2,205.4 424.6,203.8 425.0,202.9 425.4,202.7 425.8,203.2 426.2,204.5 426.6,206.4 427.0,208.8 427.4,211.8 427.8,215.2 428.2,218.8 428.6,222.7 429.0,226.5 429.4,230.3 429.8,233.9 430.2,237.1 430.6,239.9 431.0,242.2 431.4,243.8 431.8,244.9 432.2,245.3 432.6,245.0 433.0,244.1 433.4,242.5 433.8,240.3 434.2,237.5 434.6,234.4 435.0,230.9 435.4,227.2 435.8,223.5 436.2,219.7 436.6,216.1 437.0,212.8 437.4,209.9 437.8,207.4 438.2,205.5 438.6,204.3 439.0,203.7 439.4,203.8 439.8,204.5 440.2,206.0 440.6,208.0 441.0,210.6 441.4,213.6 441.8,217.0 442.2,220.6 442.6,224.4 443.0,228.2 443.4,231.8 443.8,235.2 444.2,238.2 444.6,240.8 445.0,242.8 445.4,244.2 445.8,245.0 446.2,245.1 446.6,244.6 447.0,243.3 447.4,241.5 447.8,239.1 448.2,236.2 448.6,232.9 449.0,229.3 449.4,225.5 449.8,221.7 450.2,218.0 450.6,214.5 451.0,211.3 451.4,208.5 451.8,206.3 452.2,204.6 452.6,203.6 453.0,203.3 453.4,203.7 453.8,204.7 454.2,206.4 454.6,208.8 455.0,211.6 455.4,214.9 455.8,218.5 456.2,222.3 456.6,226.2 457.0,230.0 457.4,233.7 457.8,237.0 458.2,240.0 458.6,242.4 459.0,244.3 459.4,245.5 459.8,246.0 460.2,245.9 460.6,244.9 461.0,243.4 461.4,241.2 461.8,238.4 462.2,235.2 462.6,231.6 463.0,227.8 463.4,223.8 463.8,219.9 464.2,216.1 464.6,212.6 465.0,209.4 465.4,206.8 465.8,204.7 466.2,203.3 466.6,202.6 467.0,202.6 467.4,203.4 467.8,204.8 468.2,206.9 468.6,209.5 469.0,212.7 469.4,216.2 469.8,220.0 470.2,224.0 470.6,228.0 471.0,231.9 471.4,235.5 471.8,238.8 472.2,241.6 472.6,243.8 473.0,245.4 473.4,246.3 473.8,246.5 474.2,246.0 474.6,244.7 474.6,226.1 475.0,218.3 475.4,210.8 475.8,203.7 476.2,197.2 476.6,191.6 477.0,187.0 477.4,183.6 477.8,181.4 478.2,180.6 478.6,181.3 479.0,183.2 479.4,186.5 479.8,190.9 480.2,196.4 480.6,202.7 481.0,209.7 481.4,217.1 481.8,224.8 482.2,232.4 482.6,239.7 483.0,246.5 483.4,252.6 483.8,257.7 484.2,261.8 484.6,264.7 485.0,266.3 485.4,266.5 485.8,265.5 486.2,263.2 486.6,259.7 487.0,255.2 487.4,249.7 487.8,243.4 488.2,236.6 488.6,229.5 489.0,222.4 489.4,215.4 489.8,208.8 490.2,202.7 490.6,197.5 491.0,193.1 491.4,189.7 491.8,187.5 492.2,186.5 492.6,186.8 493.0,188.2 493.4,190.7 493.8,194.2 494.2,198.6 494.6,203.7 495.0,209.4 495.4,215.4 495.8,221.6 496.2,227.8 496.6,233.8 497.0,239.3 497.4,244.4 497.8,248.7 498.2,252.2 498.6,254.8 499.0,256.4 499.4,257.0 499.8,256.5 500.2,255.1 500.6,252.7 501.0,249.5 501.4,245.6 501.8,241.1 502.2,236.2 502.6,230.9 503.0,225.6 503.4,220.2 503.8,215.1 504.2,210.3 504.6,206.1 505.0,202.4 505.4,199.5 505.8,197.4 506.2,196.2 506.6,195.9 507.0,196.4 507.4,197.8 507.8,200.1 508.2,203.0 508.6,206.6 509.0,210.7 509.4,215.2 509.8,219.9 510.2,224.6 510.6,229.4 511.0,233.8 511.4,238.0 511.8,241.8 512.2,245.0 512.6,247.6 513.0,249.4 513.4,250.4 513.8,250.7 514.2,250.1 514.6,248.7 515.0,246.5 515.4,243.7 515.8,240.3 516.2,236.4 516.6,232.2 517.0,227.7 517.4,223.1 517.8,218.6 518.2,214.3 518.6,210.3 519.0,206.8 519.4,203.9 519.8,201.6 520.2,200.0 520.6,199.2 521.0,199.2 521.4,199.9 521.8,201.3 522.2,203.5 522.6,206.3 523.0,209.7 523.4,213.6 523.8,217.9 524.2,222.4 524.6,226.9 525.0,231.4 525.4,235.7 525.8,239.7 526.2,243.2 526.6,246.1 527.0,248.4 527.4,249.9 527.8,250.6 528.2,250.5 528.6,249.6 529.0,248.0 529.4,245.5 529.8,242.4 530.2,238.7 530.6,234.6 531.0,230.1 531.4,225.4 531.8,220.7 532.2,216.1 532.6,211.8 533.0,207.8 533.4,204.4 533.8,201.6 534.2,199.4 534.6,198.1 535.0,197.6 535.4,197.9 535.8,199.0 536.2,200.9 536.6,203.5 537.0,206.9 537.4,210.8 537.8,215.1 538.2,219.8 538.6,224.7 539.0,229.5 539.4,234.3 539.8,238.7 540.2,242.7 540.6,246.2 541.0,249.0 541.4,251.0 541.8,252.2 542.2,252.6 542.6,252.1 543.0,250.7 543.4,248.4 543.8,245.5 544.0,243.7" fill="none" stroke="#0d0" stroke-width="1.4" stroke-linejoin="round" /><polyline points="301.4,203.9 301.8,200.1 302.2,197.0 302.6,194.9 303.0,193.8 303.4,193.6 303.8,194.5 304.2,196.4 304.6,199.2 305.0,202.8 305.4,207.1 305.8,212.1 306.2,217.4 306.6,222.9 307.0,228.5 307.4,234.0 307.8,239.2 308.2,243.8 308.6,247.8 309.0,251.1 309.4,253.5 309.8,254.9 310.2,255.3 310.6,254.7 311.0,253.1 311.4,250.6 311.8,247.2 312.2,243.0 312.6,238.2 313.0,233.0 313.4,227.5 313.8,221.9 314.2,216.4 314.6,211.1 315.0,206.3 315.4,202.1 315.8,198.6 316.2,196.0 316.6,194.3 317.0,193.6 317.4,193.9 317.8,195.2 318.2,197.5 318.6,200.7 319.0,204.7 319.4,209.3 319.8,214.4 320.2,219.9 320.6,225.5 321.0,231.0 321.4,236.4 321.8,241.3 322.2,245.7 322.6,249.4 323.0,252.3 323.4,254.2 323.8,255.2 324.2,255.2 324.6,254.1 325.0,252.1 325.4,249.1 325.8,245.4 326.2,240.9 326.6,235.9 327.0,230.6 327.4,225.0 327.8,219.4 328.2,214.0 328.6,208.9 329.0,204.3 329.4,200.4 329.8,197.3 330.2,195.1 330.6,193.8 331.0,193.6 331.4,194.4 331.8,196.2 332.2,198.9 332.6,202.4 333.0,206.7 333.4,211.5 333.8,216.8 334.2,222.4 334.6,228.0 334.6,228.0 334.6,228.0 335.0,235.0 335.4,239.6 335.8,239.8 336.2,239.2 336.6,238.1 337.0,236.6 337.4,234.6 337.8,232.3 338.2,229.7 338.6,227.0 339.0,224.1 339.4,221.3 339.8,218.5 340.2,215.9 340.6,213.6 341.0,211.7 341.4,210.1 341.8,209.1 342.2,208.5 342.6,208.5 343.0,208.9 343.4,209.9 343.8,211.4 344.2,213.4 344.6,215.6 345.0,218.2 345.4,221.0 345.8,224.0 346.2,226.9 346.6,229.8 347.0,232.5 347.4,235.0 347.8,237.1 348.2,238.8 348.6,240.0 349.0,240.8 349.4,241.0 349.8,240.7 350.2,239.8 350.6,238.5 351.0,236.7 351.4,234.4 351.8,231.8 352.2,228.9 352.6,225.8 353.0,222.7 353.4,219.5 353.8,216.5 354.2,213.8 354.6,211.3 355.0,209.3 355.4,207.7 355.8,206.7 356.2,206.2 356.6,206.4 357.0,207.2 357.4,208.5 357.8,210.4 358.2,212.8 358.6,215.6 359.0,218.7 359.4,222.0 359.8,225.4 360.2,228.9 360.6,232.2 361.0,235.3 361.4,238.1 361.8,240.4 362.2,242.3 362.6,243.5 363.0,244.2 363.4,244.2 363.8,243.6 364.2,242.3 364.6,240.4 365.0,237.9 365.4,235.0 365.8,231.7 366.2,228.1 366.6,224.4 367.0,220.6 367.4,216.9 367.8,213.4 368.2,210.3 368.6,207.5 369.0,205.3 369.4,203.7 369.8,202.8 370.2,202.6 370.6,203.2 371.0,204.4 371.4,206.3 371.8,208.9 372.2,211.9 372.6,215.5 373.0,219.3 373.4,223.4 373.8,227.5 374.2,231.6 374.6,235.4 375.0,239.0 375.4,242.1 375.8,244.6 376.2,246.5 376.6,247.6 377.0,248.0 377.4,247.6 377.8,246.5 378.2,244.6 378.6,242.0 379.0,238.8 379.4,235.1 379.8,231.1 380.2,226.8 380.6,222.4 381.0,218.1 381.4,213.9 381.8,210.1 382.2,206.7 382.6,203.9 383.0,201.7 383.4,200.3 383.8,199.7 384.2,200.0 384.6,201.0 385.0,202.9 385.4,205.4 385.8,208.6 386.2,212.3 386.6,216.4 387.0,220.8 387.4,225.3 387.8,229.8 388.2,234.1 388.6,238.1 389.0,241.7 389.4,244.7 389.8,247.0 390.2,248.6 390.6,249.4 391.0,249.3 391.4,248.5 391.8,246.8 392.2,244.4 392.6,241.4 393.0,237.8 393.4,233.7 393.8,229.4 394.2,224.8 394.6,220.3 395.0,215.9 395.4,211.8 395.8,208.1 396.2,205.0 396.6,202.4 397.0,200.7 397.4,199.7 397.8,199.5 398.2,200.2 398.6,201.7 399.0,203.9 399.4,206.8 399.8,210.3 400.2,214.2 400.6,218.4 401.0,222.8 401.4,227.3 401.8,231.6 402.2,235.7 402.6,239.5 403.0,242.7 403.4,245.3 403.8,247.2 404.2,248.3 404.6,248.7 405.0,248.2 405.4,247.0 405.8,245.0 406.2,242.4 406.6,239.2 407.0,235.5 407.4,231.5 407.8,227.2 408.2,222.9 408.6,218.6 409.0,214.6 409.4,210.9 409.8,207.6 410.2,204.9 410.6,202.9 411.0,201.6 411.4,201.0 411.8,201.2 412.2,202.2 412.6,204.0 413.0,206.3 413.4,209.3 413.8,212.8 414.2,216.6 414.6,220.7 415.0,224.8 415.4,228.9 415.8,232.9 416.2,236.6 416.6,239.8 417.0,242.5 417.4,244.7 417.8,246.1 418.2,246.8 418.6,246.8 419.0,246.1 419.4,244.6 419.8,242.5 420.2,239.8 420.6,236.6 421.0,233.1 421.4,229.2 421.8,225.2 422.2,221.2 422.6,217.3 423.0,213.7 423.4,210.4 423.8,207.6 424.2,205.4 424.6,203.8 425.0,202.9 425.4,202.7 425.8,203.2 426.2,204.5 426.6,206.4 427.0,208.8 427.4,211.8 427.8,215.2 428.2,218.8 428.6,222.7 429.0,226.5 429.4,230.3 429.8,233.9 430.2,237.1 430.6,239.9 431.0,242.2 431.4,243.8 431.8,244.9 432.2,245.3 432.6,245.0 433.0,244.1 433.4,242.5 433.8,240.3 434.2,237.5 434.6,234.4 435.0,230.9 435.4,227.2 435.8,223.5 436.2,219.7 436.6,216.1 437.0,212.8 437.4,209.9 437.8,207.4 438.2,205.5 438.6,204.3 439.0,203.7 439.4,203.8 439.8,204.5 440.2,206.0 440.6,208.0 441.0,210.6 441.4,213.6 441.8,217.0 442.2,220.6 442.6,224.4 443.0,228.2 443.4,231.8 443.8,235.2 444.2,238.2 444.6,240.8 445.0,242.8 445.4,244.2 445.8,245.0 446.2,245.1 446.6,244.6 447.0,243.3 447.4,241.5 447.8,239.1 448.2,236.2 448.6,232.9 449.0,229.3 449.4,225.5 449.8,221.7 450.2,218.0 450.6,214.5 451.0,211.3 451.4,208.5 451.8,206.3 452.2,204.6 452.6,203.6 453.0,203.3 453.4,203.7 453.8,204.7 454.2,206.4 454.6,208.8 455.0,211.6 455.4,214.9 455.8,218.5 456.2,222.3 456.6,226.2 457.0,230.0 457.4,233.7 457.8,237.0 458.2,240.0 458.6,242.4 459.0,244.3 459.4,245.5 459.8,246.0 460.2,245.9 460.6,244.9 461.0,243.4 461.4,241.2 461.8,238.4 462.2,235.2 462.6,231.6 463.0,227.8 463.4,223.8 463.8,219.9 464.2,216.1 464.6,212.6 465.0,209.4 465.4,206.8 465.8,204.7 466.2,203.3 466.6,202.6 467.0,202.6 467.4,203.4 467.8,204.8 468.2,206.9 468.6,209.5 469.0,212.7 469.4,216.2 469.8,220.0 470.2,224.0 470.6,228.0 471.0,231.9 471.4,235.5 471.8,238.8 472.2,241.6 472.6,243.8 473.0,245.4 473.4,246.3 473.8,246.5 474.2,246.0 474.6,244.7 474.6,261.6 475.0,265.1 475.4,267.4 475.8,268.3 476.2,267.8 476.6,266.0 477.0,262.9 477.4,258.6 477.8,253.2 478.2,246.9 478.6,239.9 479.0,232.5 479.4,224.8 479.8,217.1 480.2,209.7 480.6,202.7 481.0,196.4 481.4,191.1 481.8,186.8 482.2,183.6 482.6,181.8 483.0,181.4 483.4,182.4 483.8,184.6 484.2,188.1 484.6,192.6 485.0,198.2 485.4,204.5 485.8,211.4 486.2,218.6 486.6,226.0 487.0,233.3 487.4,240.2 487.8,246.5 488.2,252.1 488.6,256.7 489.0,260.3 489.4,262.7 489.8,263.9 490.2,263.8 490.6,262.6 491.0,260.1 491.4,256.6 491.8,252.1 492.2,246.8 492.6,240.9 493.0,234.5 493.4,228.0 493.8,221.5 494.2,215.1 494.6,209.2 495.0,203.9 495.4,199.3 495.8,195.5 496.2,192.8 496.6,191.0 497.0,190.3 497.4,190.7 497.8,192.1 498.2,194.5 498.6,197.8 499.0,201.8 499.4,206.5 499.8,211.7 500.2,217.2 500.6,222.8 501.0,228.4 501.4,233.7 501.8,238.7 502.2,243.2 502.6,247.1 503.0,250.2 503.4,252.4 503.8,253.8 504.2,254.2 504.6,253.7 505.0,252.3 505.4,250.0 505.8,247.0 506.2,243.3 506.6,239.1 507.0,234.5 507.4,229.6 507.8,224.7 508.2,219.8 508.6,215.1 509.0,210.7 509.4,206.9 509.8,203.6 510.2,201.0 510.6,199.2 511.0,198.2 511.4,197.9 511.8,198.5 512.2,199.8 512.6,201.9 513.0,204.7 513.4,208.1 513.8,212.0 514.2,216.3 514.6,220.8 515.0,225.4 515.4,230.0 515.8,234.4 516.2,238.4 516.6,242.0 517.0,245.0 517.4,247.4 517.8,249.1 518.2,250.0 518.6,250.0 519.0,249.3 519.4,247.8 519.8,245.6 520.2,242.8 520.6,239.3 521.0,235.5 521.4,231.3 521.8,226.9 522.2,222.4 522.6,217.9 523.0,213.7 523.4,209.7 523.8,206.2 524.2,203.3 524.6,201.0 525.0,199.4 525.4,198.6 525.8,198.6 526.2,199.4 526.6,201.1 527.0,203.4 527.4,206.4 527.8,210.0 528.2,214.1 528.6,218.5 529.0,223.1 529.4,227.8 529.8,232.3 530.2,236.7 530.6,240.7 531.0,244.1 531.4,247.0 531.8,249.2 532.2,250.6 532.6,251.1 533.0,250.9 533.4,249.8 533.8,247.9 534.2,245.3 534.6,242.1 535.0,238.2 535.4,234.0 535.8,229.4 536.2,224.6 536.6,219.9 537.0,215.2 537.4,210.8 537.8,206.8 538.2,203.3 538.6,200.4 539.0,198.3 539.4,197.0 539.8,196.6 540.2,197.1 540.6,198.4 541.0,200.5 541.4,203.4 541.8,207.0 542.2,211.1 542.6,215.7 543.0,220.5 543.4,225.5 543.8,230.5 544.0,232.9" fill="none" stroke="#00f" stroke-width="1.4" stroke-linejoin="round" /></g><rect x="301.5" y="162.7" width="242.8" height="123.5" fill="none" stroke="#b0b0b0" stroke-width="1.05"/><text transform="translate(301.50 291.80) scale(0.920 1)" font-size="5.70" text-anchor="middle" font-family="'Liberation Serif', serif" fill="#111" stroke="#111" stroke-width="0.12" font-weight="normal" >3.95</text><text transform="translate(336.19 291.80) scale(0.920 1)" font-size="5.70" text-anchor="middle" font-family="'Liberation Serif', serif" fill="#111" stroke="#111" stroke-width="0.12" font-weight="normal" >4</text><text transform="translate(370.87 291.80) scale(0.920 1)" font-size="5.70" text-anchor="middle" font-family="'Liberation Serif', serif" fill="#111" stroke="#111" stroke-width="0.12" font-weight="normal" >4.05</text><text transform="translate(405.56 291.80) scale(0.920 1)" font-size="5.70" text-anchor="middle" font-family="'Liberation Serif', serif" fill="#111" stroke="#111" stroke-width="0.12" font-weight="normal" >4.1</text><text transform="translate(440.24 291.80) scale(0.920 1)" font-size="5.70" text-anchor="middle" font-family="'Liberation Serif', serif" fill="#111" stroke="#111" stroke-width="0.12" font-weight="normal" >4.15</text><text transform="translate(474.93 291.80) scale(0.920 1)" font-size="5.70" text-anchor="middle" font-family="'Liberation Serif', serif" fill="#111" stroke="#111" stroke-width="0.12" font-weight="normal" >4.2</text><text transform="translate(509.61 291.80) scale(0.920 1)" font-size="5.70" text-anchor="middle" font-family="'Liberation Serif', serif" fill="#111" stroke="#111" stroke-width="0.12" font-weight="normal" >4.25</text><text transform="translate(544.30 291.80) scale(0.920 1)" font-size="5.70" text-anchor="middle" font-family="'Liberation Serif', serif" fill="#111" stroke="#111" stroke-width="0.12" font-weight="normal" >4.3</text><text transform="translate(299.90 164.70) scale(0.920 1)" font-size="5.70" text-anchor="end" font-family="'Liberation Serif', serif" fill="#111" stroke="#111" stroke-width="0.12" font-weight="normal" >2</text><text transform="translate(299.90 180.14) scale(0.920 1)" font-size="5.70" text-anchor="end" font-family="'Liberation Serif', serif" fill="#111" stroke="#111" stroke-width="0.12" font-weight="normal" >1.5</text><text transform="translate(299.90 195.57) scale(0.920 1)" font-size="5.70" text-anchor="end" font-family="'Liberation Serif', serif" fill="#111" stroke="#111" stroke-width="0.12" font-weight="normal" >1</text><text transform="translate(299.90 211.01) scale(0.920 1)" font-size="5.70" text-anchor="end" font-family="'Liberation Serif', serif" fill="#111" stroke="#111" stroke-width="0.12" font-weight="normal" >0.5</text><text transform="translate(299.90 226.45) scale(0.920 1)" font-size="5.70" text-anchor="end" font-family="'Liberation Serif', serif" fill="#111" stroke="#111" stroke-width="0.12" font-weight="normal" >0</text><text transform="translate(299.90 241.89) scale(0.920 1)" font-size="5.70" text-anchor="end" font-family="'Liberation Serif', serif" fill="#111" stroke="#111" stroke-width="0.12" font-weight="normal" >-0.5</text><text transform="translate(299.90 257.32) scale(0.920 1)" font-size="5.70" text-anchor="end" font-family="'Liberation Serif', serif" fill="#111" stroke="#111" stroke-width="0.12" font-weight="normal" >-1</text><text transform="translate(299.90 272.76) scale(0.920 1)" font-size="5.70" text-anchor="end" font-family="'Liberation Serif', serif" fill="#111" stroke="#111" stroke-width="0.12" font-weight="normal" >-1.5</text><text transform="translate(299.90 288.20) scale(0.920 1)" font-size="5.70" text-anchor="end" font-family="'Liberation Serif', serif" fill="#111" stroke="#111" stroke-width="0.12" font-weight="normal" >-2</text><path d="M301.5 286.2v-1.6M301.5 162.7v1.6 M336.2 286.2v-1.6M336.2 162.7v1.6 M370.9 286.2v-1.6M370.9 162.7v1.6 M405.6 286.2v-1.6M405.6 162.7v1.6 M440.2 286.2v-1.6M440.2 162.7v1.6 M474.9 286.2v-1.6M474.9 162.7v1.6 M509.6 286.2v-1.6M509.6 162.7v1.6 M544.3 286.2v-1.6M544.3 162.7v1.6 M301.5 162.7h1.6M544.3 162.7h-1.6 M301.5 178.1h1.6M544.3 178.1h-1.6 M301.5 193.6h1.6M544.3 193.6h-1.6 M301.5 209.0h1.6M544.3 209.0h-1.6 M301.5 224.4h1.6M544.3 224.4h-1.6 M301.5 239.9h1.6M544.3 239.9h-1.6 M301.5 255.3h1.6M544.3 255.3h-1.6 M301.5 270.8h1.6M544.3 270.8h-1.6 M301.5 286.2h1.6M544.3 286.2h-1.6" stroke="#999" stroke-width="0.6" fill="none"/><text x="289.0" y="224.8" font-size="6.20" text-anchor="middle" font-family="'Liberation Serif', serif" fill="#111" font-weight="normal" transform="rotate(-90 289.0 224.8)">2251PT/p.u.</text><text x="422.5" y="296.8" font-size="5.20" text-anchor="middle" font-family="'Liberation Serif', serif" fill="#111" font-weight="normal" >t/s</text><text x="416.1" y="310.0" font-size="10.50" text-anchor="middle" font-family="'Liberation Serif', serif" fill="#111" font-weight="bold" >(d)</text><line x1="311.0" y1="167.9" x2="320.5" y2="167.9" stroke="#f00" stroke-width="0.9" stroke-opacity="0.45"/><text transform="translate(322.80 170.20) scale(0.910 1)" font-size="6.60" text-anchor="start" font-family="'Liberation Serif', serif" fill="#111" stroke="#111" stroke-width="0.12" font-weight="normal" >PSCAD-A</text><line x1="351.5" y1="167.9" x2="361.0" y2="167.9" stroke="#0d0" stroke-width="0.9" stroke-opacity="0.45"/><text transform="translate(361.80 170.20) scale(0.910 1)" font-size="6.60" text-anchor="start" font-family="'Liberation Serif', serif" fill="#111" stroke="#111" stroke-width="0.12" font-weight="normal" >PSCAD-B</text><line x1="389.5" y1="167.9" x2="399.0" y2="167.9" stroke="#00f" stroke-width="0.9" stroke-opacity="0.45"/><text transform="translate(400.00 170.20) scale(0.910 1)" font-size="6.60" text-anchor="start" font-family="'Liberation Serif', serif" fill="#111" stroke="#111" stroke-width="0.12" font-weight="normal" >PSCAD-C</text><circle cx="431.9" cy="167.7" r="0.75" fill="#f00" fill-opacity="0.5"/><text transform="translate(438.40 170.20) scale(0.910 1)" font-size="6.60" text-anchor="start" font-family="'Liberation Serif', serif" fill="#111" stroke="#111" stroke-width="0.12" font-weight="normal" >FRTDS-A</text><circle cx="470.0" cy="167.7" r="0.75" fill="#0d0" fill-opacity="0.5"/><text transform="translate(476.70 170.20) scale(0.910 1)" font-size="6.60" text-anchor="start" font-family="'Liberation Serif', serif" fill="#111" stroke="#111" stroke-width="0.12" font-weight="normal" >FRTDS-B</text><circle cx="507.1" cy="167.7" r="0.75" fill="#00f" fill-opacity="0.5"/><text transform="translate(514.00 170.20) scale(0.910 1)" font-size="6.60" text-anchor="start" font-family="'Liberation Serif', serif" fill="#111" stroke="#111" stroke-width="0.12" font-weight="normal" >FRTDS-C</text><circle cx="200.4" cy="112.5" r="0.55" fill="#00f"/><circle cx="200.4" cy="114.4" r="0.55" fill="#00f"/><circle cx="200.4" cy="116.2" r="0.55" fill="#00f"/><circle cx="200.4" cy="118.1" r="0.55" fill="#00f"/><circle cx="200.4" cy="120.0" r="0.55" fill="#00f"/><circle cx="474.8" cy="20.0" r="0.55" fill="#0d0"/><circle cx="474.8" cy="17.8" r="0.55" fill="#0d0"/><circle cx="195.5" cy="179.5" r="0.55" fill="#0d0"/><circle cx="195.5" cy="178.2" r="0.55" fill="#0d0"/><circle cx="195.5" cy="176.8" r="0.55" fill="#0d0"/><rect x="225.3" y="106.6" width="42.3" height="19.7" fill="#fff" stroke="none"/><clipPath id="ia"><rect x="225.3" y="106.6" width="42.3" height="19.7"/></clipPath><g clip-path="url(#ia)"><polyline points="225.3,138.9 225.6,138.2 225.9,137.6 226.2,137.0 226.5,136.3 226.8,135.7 227.1,135.1 227.4,134.5 227.7,133.9 228.0,133.4 228.3,132.8 228.6,132.2 228.9,131.7 229.2,131.1 229.5,130.6 229.8,130.1 230.1,129.6 230.4,129.1 230.7,128.6 231.0,128.1 231.3,127.7 231.6,127.2 231.9,126.7 232.2,126.3 232.5,125.9 232.8,125.4 233.1,125.0 233.4,124.6 233.7,124.2 234.0,123.9 234.3,123.5 234.6,123.1 234.9,122.8 235.2,122.4 235.5,122.1 235.8,121.8 236.1,121.4 236.4,121.1 236.7,120.8 237.0,120.5 237.3,120.3 237.6,120.0 237.9,119.7 238.2,119.5 238.5,119.3 238.8,119.0 239.1,118.8 239.4,118.6 239.7,118.4 240.0,118.2 240.3,118.0 240.6,117.8 240.9,117.7 241.2,117.5 241.5,117.4 241.8,117.3 242.1,117.1 242.4,117.0 242.7,116.9 243.0,116.8 243.3,116.7 243.6,116.7 243.9,116.6 244.2,116.5 244.5,116.5 244.8,116.5 245.1,116.4 245.4,116.4 245.7,116.4 246.0,116.4 246.3,116.4 246.6,116.4 246.9,116.5 247.2,116.5 247.5,116.6 247.8,116.6 248.1,116.7 248.4,116.8 248.7,116.9 249.0,117.0 249.3,117.1 249.6,117.2 249.9,117.4 250.2,117.5 250.5,117.7 250.8,117.8 251.1,118.0 251.4,118.2 251.7,118.4 252.0,118.6 252.3,118.8 252.6,119.1 252.9,119.3 253.2,119.6 253.5,119.8 253.8,120.1 254.1,120.4 254.4,120.7 254.7,121.0 255.0,121.3 255.3,121.6 255.6,121.9 255.9,122.3 256.2,122.6 256.5,123.0 256.8,123.4 257.1,123.8 257.4,124.2 257.7,124.6 258.0,125.0 258.3,125.4 258.6,125.9 258.9,126.3 259.2,126.8 259.5,127.2 259.8,127.7 260.1,128.2 260.4,128.7 260.7,129.2 261.0,129.7 261.3,130.3 261.6,130.8 261.9,131.4 262.2,131.9 262.5,132.5 262.8,133.1 263.1,133.7 263.4,134.3 263.7,134.9 264.0,135.5 264.3,136.1 264.6,136.8 264.9,137.4 265.2,138.1 265.5,138.8 265.8,139.5 266.1,140.2 266.4,140.9 266.7,141.6 267.0,142.3 267.3,143.1 267.6,143.8" fill="none" stroke="#f00" stroke-width="0.5" stroke-linejoin="round" /><circle cx="225.3" cy="130.8" r="0.60" fill="#f00"/><circle cx="226.5" cy="128.2" r="0.60" fill="#f00"/><circle cx="227.7" cy="125.7" r="0.60" fill="#f00"/><circle cx="229.0" cy="123.3" r="0.60" fill="#f00"/><circle cx="230.4" cy="120.8" r="0.60" fill="#f00"/><circle cx="231.9" cy="118.5" r="0.60" fill="#f00"/><circle cx="233.5" cy="116.2" r="0.60" fill="#f00"/><circle cx="235.2" cy="114.1" r="0.60" fill="#f00"/><circle cx="237.1" cy="112.1" r="0.60" fill="#f00"/><circle cx="239.2" cy="110.4" r="0.60" fill="#f00"/><circle cx="241.6" cy="109.0" r="0.60" fill="#f00"/><circle cx="244.2" cy="108.1" r="0.60" fill="#f00"/><circle cx="246.9" cy="108.1" r="0.60" fill="#f00"/><circle cx="249.6" cy="108.8" r="0.60" fill="#f00"/><circle cx="252.0" cy="110.1" r="0.60" fill="#f00"/><circle cx="254.2" cy="111.9" r="0.60" fill="#f00"/><circle cx="256.1" cy="113.9" r="0.60" fill="#f00"/><circle cx="257.9" cy="116.1" r="0.60" fill="#f00"/><circle cx="259.5" cy="118.4" r="0.60" fill="#f00"/><circle cx="261.0" cy="120.7" r="0.60" fill="#f00"/><circle cx="262.4" cy="123.2" r="0.60" fill="#f00"/><circle cx="263.7" cy="125.7" r="0.60" fill="#f00"/><circle cx="264.9" cy="128.1" r="0.60" fill="#f00"/><circle cx="266.1" cy="130.7" r="0.60" fill="#f00"/><circle cx="267.2" cy="133.3" r="0.60" fill="#f00"/></g><rect x="225.3" y="106.6" width="42.3" height="19.7" fill="none" stroke="#b0b0b0" stroke-width="0.85"/><text transform="translate(224.30 111.20) scale(0.920 1)" font-size="4.80" text-anchor="end" font-family="'Liberation Serif', serif" fill="#111" stroke="#111" stroke-width="0.12" font-weight="normal" >1.63</text><text transform="translate(224.30 116.95) scale(0.920 1)" font-size="4.80" text-anchor="end" font-family="'Liberation Serif', serif" fill="#111" stroke="#111" stroke-width="0.12" font-weight="normal" >1.62</text><text transform="translate(224.30 122.70) scale(0.920 1)" font-size="4.80" text-anchor="end" font-family="'Liberation Serif', serif" fill="#111" stroke="#111" stroke-width="0.12" font-weight="normal" >1.61</text><text transform="translate(233.00 131.10) scale(0.880 1)" font-size="4.70" text-anchor="middle" font-family="'Liberation Serif', serif" fill="#111" stroke="#111" stroke-width="0.12" font-weight="normal" >4.078</text><text transform="translate(247.20 131.10) scale(0.880 1)" font-size="4.70" text-anchor="middle" font-family="'Liberation Serif', serif" fill="#111" stroke="#111" stroke-width="0.12" font-weight="normal" >4.0785</text><text transform="translate(262.50 131.10) scale(0.880 1)" font-size="4.70" text-anchor="middle" font-family="'Liberation Serif', serif" fill="#111" stroke="#111" stroke-width="0.12" font-weight="normal" >4.079</text><path d="M225.3 109.6h1.3M267.6 109.6h-1.3 M225.3 115.3h1.3M267.6 115.3h-1.3 M225.3 121.1h1.3M267.6 121.1h-1.3 M233.0 126.3v-1.3M233.0 106.6v1.3 M247.2 126.3v-1.3M247.2 106.6v1.3 M262.5 126.3v-1.3M262.5 106.6v1.3" stroke="#999" stroke-width="0.5" fill="none"/><rect x="316.0" y="102.5" width="46.3" height="22.6" fill="#fff" stroke="none"/><clipPath id="ib"><rect x="316.0" y="102.5" width="46.3" height="22.6"/></clipPath><g clip-path="url(#ib)"><polyline points="316.0,123.4 316.3,123.0 316.6,122.6 316.9,122.3 317.2,121.9 317.5,121.6 317.8,121.2 318.1,120.9 318.4,120.5 318.7,120.2 319.0,119.9 319.3,119.6 319.6,119.2 319.9,118.9 320.2,118.6 320.5,118.3 320.8,118.0 321.1,117.7 321.4,117.4 321.7,117.1 322.0,116.8 322.3,116.6 322.6,116.3 322.9,116.0 323.2,115.8 323.5,115.5 323.8,115.3 324.1,115.0 324.4,114.8 324.7,114.5 325.0,114.3 325.3,114.1 325.6,113.8 325.9,113.6 326.2,113.4 326.5,113.2 326.8,113.0 327.1,112.8 327.4,112.6 327.7,112.4 328.0,112.2 328.3,112.0 328.6,111.8 328.9,111.7 329.2,111.5 329.5,111.3 329.8,111.2 330.1,111.0 330.4,110.9 330.7,110.7 331.0,110.6 331.3,110.4 331.6,110.3 331.9,110.2 332.2,110.0 332.5,109.9 332.8,109.8 333.1,109.7 333.4,109.6 333.7,109.5 334.0,109.4 334.3,109.3 334.6,109.2 334.9,109.2 335.2,109.1 335.5,109.0 335.8,108.9 336.1,108.9 336.4,108.8 336.7,108.8 337.0,108.7 337.3,108.7 337.6,108.6 337.9,108.6 338.2,108.6 338.5,108.6 338.8,108.5 339.1,108.5 339.4,108.5 339.7,108.5 340.0,108.5 340.3,108.5 340.6,108.5 340.9,108.5 341.2,108.5 341.5,108.6 341.8,108.6 342.1,108.6 342.4,108.7 342.7,108.7 343.0,108.8 343.3,108.8 343.6,108.9 343.9,108.9 344.2,109.0 344.5,109.1 344.8,109.1 345.1,109.2 345.4,109.3 345.7,109.4 346.0,109.5 346.3,109.6 346.6,109.7 346.9,109.8 347.2,109.9 347.5,110.0 347.8,110.2 348.1,110.3 348.4,110.4 348.7,110.6 349.0,110.7 349.3,110.8 349.6,111.0 349.9,111.2 350.2,111.3 350.5,111.5 350.8,111.6 351.1,111.8 351.4,112.0 351.7,112.2 352.0,112.4 352.3,112.6 352.6,112.8 352.9,113.0 353.2,113.2 353.5,113.4 353.8,113.6 354.1,113.8 354.4,114.1 354.7,114.3 355.0,114.5 355.3,114.8 355.6,115.0 355.9,115.3 356.2,115.5 356.5,115.8 356.8,116.1 357.1,116.3 357.4,116.6 357.7,116.9 358.0,117.2 358.3,117.5 358.6,117.8 358.9,118.1 359.2,118.4 359.5,118.7 359.8,119.0 360.1,119.3 360.4,119.6 360.7,120.0 361.0,120.3 361.3,120.6 361.6,121.0 361.9,121.3 362.2,121.7" fill="none" stroke="#f00" stroke-width="0.45" stroke-linejoin="round" /><circle cx="316.0" cy="117.9" r="0.60" fill="#f00"/><circle cx="316.9" cy="116.8" r="0.60" fill="#f00"/><circle cx="317.9" cy="115.7" r="0.60" fill="#f00"/><circle cx="318.9" cy="114.7" r="0.60" fill="#f00"/><circle cx="319.9" cy="113.7" r="0.60" fill="#f00"/><circle cx="320.9" cy="112.7" r="0.60" fill="#f00"/><circle cx="321.9" cy="111.8" r="0.60" fill="#f00"/><circle cx="323.0" cy="110.8" r="0.60" fill="#f00"/><circle cx="324.1" cy="110.0" r="0.60" fill="#f00"/><circle cx="325.2" cy="109.1" r="0.60" fill="#f00"/><circle cx="326.4" cy="108.3" r="0.60" fill="#f00"/><circle cx="327.6" cy="107.5" r="0.60" fill="#f00"/><circle cx="328.8" cy="106.8" r="0.60" fill="#f00"/><circle cx="330.0" cy="106.2" r="0.60" fill="#f00"/><circle cx="331.3" cy="105.6" r="0.60" fill="#f00"/><circle cx="332.6" cy="105.1" r="0.60" fill="#f00"/><circle cx="333.9" cy="104.7" r="0.60" fill="#f00"/><circle cx="335.3" cy="104.3" r="0.60" fill="#f00"/><circle cx="336.7" cy="104.1" r="0.60" fill="#f00"/><circle cx="338.1" cy="103.9" r="0.60" fill="#f00"/><circle cx="339.5" cy="103.8" r="0.60" fill="#f00"/><circle cx="340.9" cy="103.8" r="0.60" fill="#f00"/><circle cx="342.3" cy="104.0" r="0.60" fill="#f00"/><circle cx="343.7" cy="104.2" r="0.60" fill="#f00"/><circle cx="345.1" cy="104.5" r="0.60" fill="#f00"/><circle cx="346.4" cy="105.0" r="0.60" fill="#f00"/><circle cx="347.7" cy="105.5" r="0.60" fill="#f00"/><circle cx="349.0" cy="106.1" r="0.60" fill="#f00"/><circle cx="350.2" cy="106.7" r="0.60" fill="#f00"/><circle cx="351.4" cy="107.4" r="0.60" fill="#f00"/><circle cx="352.6" cy="108.2" r="0.60" fill="#f00"/><circle cx="353.7" cy="109.0" r="0.60" fill="#f00"/><circle cx="354.8" cy="109.9" r="0.60" fill="#f00"/><circle cx="355.9" cy="110.8" r="0.60" fill="#f00"/><circle cx="357.0" cy="111.8" r="0.60" fill="#f00"/><circle cx="358.0" cy="112.7" r="0.60" fill="#f00"/><circle cx="359.0" cy="113.8" r="0.60" fill="#f00"/><circle cx="360.0" cy="114.8" r="0.60" fill="#f00"/><circle cx="360.9" cy="115.8" r="0.60" fill="#f00"/><circle cx="361.8" cy="116.9" r="0.60" fill="#f00"/></g><rect x="316.0" y="102.5" width="46.3" height="22.6" fill="none" stroke="#b0b0b0" stroke-width="0.85"/><text transform="translate(315.00 106.50) scale(0.920 1)" font-size="5.60" text-anchor="end" font-family="'Liberation Serif', serif" fill="#111" stroke="#111" stroke-width="0.12" font-weight="normal" >1.34</text><text transform="translate(315.00 114.70) scale(0.920 1)" font-size="5.60" text-anchor="end" font-family="'Liberation Serif', serif" fill="#111" stroke="#111" stroke-width="0.12" font-weight="normal" >1.32</text><text transform="translate(315.00 122.90) scale(0.920 1)" font-size="5.60" text-anchor="end" font-family="'Liberation Serif', serif" fill="#111" stroke="#111" stroke-width="0.12" font-weight="normal" >1.3</text><text transform="translate(318.90 129.90) scale(0.860 1)" font-size="4.70" text-anchor="middle" font-family="'Liberation Serif', serif" fill="#111" stroke="#111" stroke-width="0.12" font-weight="normal" >4.0575</text><text transform="translate(334.50 129.90) scale(0.860 1)" font-size="4.70" text-anchor="middle" font-family="'Liberation Serif', serif" fill="#111" stroke="#111" stroke-width="0.12" font-weight="normal" >4.058</text><text transform="translate(349.80 129.90) scale(0.860 1)" font-size="4.70" text-anchor="middle" font-family="'Liberation Serif', serif" fill="#111" stroke="#111" stroke-width="0.12" font-weight="normal" >4.0585</text><path d="M316.0 104.9h1.3M362.3 104.9h-1.3 M316.0 113.1h1.3M362.3 113.1h-1.3 M316.0 121.3h1.3M362.3 121.3h-1.3 M318.9 125.1v-1.3M318.9 102.5v1.3 M334.5 125.1v-1.3M334.5 102.5v1.3 M349.8 125.1v-1.3M349.8 102.5v1.3" stroke="#999" stroke-width="0.5" fill="none"/><rect x="184.6" y="262.7" width="71.6" height="17.7" fill="#fff" stroke="none"/><clipPath id="ic"><rect x="184.6" y="262.7" width="71.6" height="17.7"/></clipPath><g clip-path="url(#ic)"><polyline points="184.6,258.5 184.9,258.7 185.2,258.9 185.5,259.1 185.8,259.3 186.1,259.5 186.4,259.7 186.7,259.9 187.0,260.1 187.3,260.3 187.6,260.5 187.9,260.7 188.2,260.9 188.5,261.1 188.8,261.3 189.1,261.4 189.4,261.6 189.7,261.8 190.0,262.0 190.3,262.2 190.6,262.3 190.9,262.5 191.2,262.7 191.5,262.9 191.8,263.0 192.1,263.2 192.4,263.4 192.7,263.5 193.0,263.7 193.3,263.8 193.6,264.0 193.9,264.2 194.2,264.3 194.5,264.5 194.8,264.6 195.1,264.8 195.4,264.9 195.7,265.1 196.0,265.2 196.3,265.3 196.6,265.5 196.9,265.6 197.2,265.8 197.5,265.9 197.8,266.0 198.1,266.2 198.4,266.3 198.7,266.4 199.0,266.6 199.3,266.7 199.6,266.8 199.9,266.9 200.2,267.1 200.5,267.2 200.8,267.3 201.1,267.4 201.4,267.5 201.7,267.6 202.0,267.7 202.3,267.9 202.6,268.0 202.9,268.1 203.2,268.2 203.5,268.3 203.8,268.4 204.1,268.5 204.4,268.6 204.7,268.7 205.0,268.8 205.3,268.9 205.6,268.9 205.9,269.0 206.2,269.1 206.5,269.2 206.8,269.3 207.1,269.4 207.4,269.4 207.7,269.5 208.0,269.6 208.3,269.7 208.6,269.8 208.9,269.8 209.2,269.9 209.5,270.0 209.8,270.0 210.1,270.1 210.4,270.2 210.7,270.2 211.0,270.3 211.3,270.3 211.6,270.4 211.9,270.4 212.2,270.5 212.5,270.6 212.8,270.6 213.1,270.6 213.4,270.7 213.7,270.7 214.0,270.8 214.3,270.8 214.6,270.9 214.9,270.9 215.2,270.9 215.5,271.0 215.8,271.0 216.1,271.0 216.4,271.1 216.7,271.1 217.0,271.1 217.3,271.1 217.6,271.2 217.9,271.2 218.2,271.2 218.5,271.2 218.8,271.2 219.1,271.3 219.4,271.3 219.7,271.3 220.0,271.3 220.3,271.3 220.6,271.3 220.9,271.3 221.2,271.3 221.5,271.3 221.8,271.3 222.1,271.3 222.4,271.3 222.7,271.3 223.0,271.3 223.3,271.3 223.6,271.2 223.9,271.2 224.2,271.2 224.5,271.2 224.8,271.2 225.1,271.1 225.4,271.1 225.7,271.1 226.0,271.0 226.3,271.0 226.6,271.0 226.9,270.9 227.2,270.9 227.5,270.8 227.8,270.8 228.1,270.7 228.4,270.7 228.7,270.6 229.0,270.6 229.3,270.5 229.6,270.5 229.9,270.4 230.2,270.3 230.5,270.3 230.8,270.2 231.1,270.1 231.4,270.1 231.7,270.0 232.0,269.9 232.3,269.8 232.6,269.7 232.9,269.7 233.2,269.6 233.5,269.5 233.8,269.4 234.1,269.3 234.4,269.2 234.7,269.1 235.0,269.0 235.3,268.9 235.6,268.8 235.9,268.7 236.2,268.6 236.5,268.5 236.8,268.4 237.1,268.2 237.4,268.1 237.7,268.0 238.0,267.9 238.3,267.8 238.6,267.6 238.9,267.5 239.2,267.4 239.5,267.2 239.8,267.1 240.1,267.0 240.4,266.8 240.7,266.7 241.0,266.5 241.3,266.4 241.6,266.2 241.9,266.1 242.2,265.9 242.5,265.8 242.8,265.6 243.1,265.5 243.4,265.3 243.7,265.1 244.0,265.0 244.3,264.8 244.6,264.6 244.9,264.5 245.2,264.3 245.5,264.1 245.8,263.9 246.1,263.7 246.4,263.5 246.7,263.4 247.0,263.2 247.3,263.0 247.6,262.8 247.9,262.6 248.2,262.4 248.5,262.2 248.8,262.0 249.1,261.8 249.4,261.6 249.7,261.4 250.0,261.2 250.3,260.9 250.6,260.7 250.9,260.5 251.2,260.3 251.5,260.1 251.8,259.8 252.1,259.6 252.4,259.4 252.7,259.2 253.0,258.9 253.3,258.7 253.6,258.4 253.9,258.2 254.2,258.0 254.5,257.7 254.8,257.5 255.1,257.2 255.4,257.0 255.7,256.7 256.0,256.5" fill="none" stroke="#f00" stroke-width="0.6" stroke-linejoin="round" /><circle cx="184.6" cy="255.2" r="0.60" fill="#f00"/><circle cx="186.4" cy="257.2" r="0.60" fill="#f00"/><circle cx="188.3" cy="259.2" r="0.60" fill="#f00"/><circle cx="190.3" cy="261.2" r="0.60" fill="#f00"/><circle cx="192.3" cy="263.1" r="0.60" fill="#f00"/><circle cx="194.4" cy="265.0" r="0.60" fill="#f00"/><circle cx="196.5" cy="266.7" r="0.60" fill="#f00"/><circle cx="198.7" cy="268.4" r="0.60" fill="#f00"/><circle cx="201.0" cy="270.0" r="0.60" fill="#f00"/><circle cx="203.3" cy="271.4" r="0.60" fill="#f00"/><circle cx="205.7" cy="272.8" r="0.60" fill="#f00"/><circle cx="208.2" cy="274.0" r="0.60" fill="#f00"/><circle cx="210.7" cy="275.0" r="0.60" fill="#f00"/><circle cx="213.3" cy="275.8" r="0.60" fill="#f00"/><circle cx="216.0" cy="276.5" r="0.60" fill="#f00"/><circle cx="218.7" cy="277.0" r="0.60" fill="#f00"/><circle cx="221.4" cy="277.3" r="0.60" fill="#f00"/><circle cx="224.1" cy="277.3" r="0.60" fill="#f00"/><circle cx="226.8" cy="277.1" r="0.60" fill="#f00"/><circle cx="229.5" cy="276.7" r="0.60" fill="#f00"/><circle cx="232.2" cy="276.0" r="0.60" fill="#f00"/><circle cx="234.8" cy="275.1" r="0.60" fill="#f00"/><circle cx="237.3" cy="274.1" r="0.60" fill="#f00"/><circle cx="239.8" cy="272.8" r="0.60" fill="#f00"/><circle cx="242.2" cy="271.4" r="0.60" fill="#f00"/><circle cx="244.5" cy="269.9" r="0.60" fill="#f00"/><circle cx="246.7" cy="268.3" r="0.60" fill="#f00"/><circle cx="248.9" cy="266.6" r="0.60" fill="#f00"/><circle cx="251.0" cy="264.8" r="0.60" fill="#f00"/><circle cx="253.0" cy="262.9" r="0.60" fill="#f00"/><circle cx="255.0" cy="260.9" r="0.60" fill="#f00"/></g><rect x="184.6" y="262.7" width="71.6" height="17.7" fill="none" stroke="#b0b0b0" stroke-width="0.85"/><text transform="translate(183.60 265.20) scale(0.920 1)" font-size="5.40" text-anchor="end" font-family="'Liberation Serif', serif" fill="#111" stroke="#111" stroke-width="0.12" font-weight="normal" >-1.38</text><text transform="translate(183.60 273.65) scale(0.920 1)" font-size="5.40" text-anchor="end" font-family="'Liberation Serif', serif" fill="#111" stroke="#111" stroke-width="0.12" font-weight="normal" >-1.4</text><text transform="translate(183.60 282.10) scale(0.920 1)" font-size="5.40" text-anchor="end" font-family="'Liberation Serif', serif" fill="#111" stroke="#111" stroke-width="0.12" font-weight="normal" >-1.42</text><text transform="translate(203.60 285.60) scale(0.860 1)" font-size="5.30" text-anchor="middle" font-family="'Liberation Serif', serif" fill="#111" stroke="#111" stroke-width="0.12" font-weight="normal" >4.088</text><text transform="translate(225.00 285.60) scale(0.860 1)" font-size="5.30" text-anchor="middle" font-family="'Liberation Serif', serif" fill="#111" stroke="#111" stroke-width="0.12" font-weight="normal" >4.0885</text><text transform="translate(248.30 285.60) scale(0.860 1)" font-size="5.30" text-anchor="middle" font-family="'Liberation Serif', serif" fill="#111" stroke="#111" stroke-width="0.12" font-weight="normal" >4.089</text><path d="M184.6 262.7h1.3M256.2 262.7h-1.3 M184.6 271.1h1.3M256.2 271.1h-1.3 M184.6 279.6h1.3M256.2 279.6h-1.3 M203.6 280.4v-1.3M203.6 262.7v1.3 M225.0 280.4v-1.3M225.0 262.7v1.3 M248.3 280.4v-1.3M248.3 262.7v1.3" stroke="#999" stroke-width="0.5" fill="none"/><rect x="476.4" y="254.0" width="64.3" height="26.9" fill="#fff" stroke="none"/><clipPath id="id"><rect x="476.4" y="254.0" width="64.3" height="26.9"/></clipPath><g clip-path="url(#id)"><polyline points="476.4,288.2 476.7,287.8 477.0,287.4 477.3,287.0 477.6,286.6 477.9,286.2 478.2,285.9 478.5,285.5 478.8,285.1 479.1,284.8 479.4,284.4 479.7,284.0 480.0,283.7 480.3,283.3 480.6,283.0 480.9,282.6 481.2,282.3 481.5,281.9 481.8,281.6 482.1,281.3 482.4,280.9 482.7,280.6 483.0,280.3 483.3,280.0 483.6,279.7 483.9,279.3 484.2,279.0 484.5,278.7 484.8,278.4 485.1,278.1 485.4,277.8 485.7,277.5 486.0,277.2 486.3,276.9 486.6,276.7 486.9,276.4 487.2,276.1 487.5,275.8 487.8,275.5 488.1,275.3 488.4,275.0 488.7,274.7 489.0,274.5 489.3,274.2 489.6,274.0 489.9,273.7 490.2,273.5 490.5,273.2 490.8,273.0 491.1,272.7 491.4,272.5 491.7,272.3 492.0,272.1 492.3,271.8 492.6,271.6 492.9,271.4 493.2,271.2 493.5,271.0 493.8,270.7 494.1,270.5 494.4,270.3 494.7,270.1 495.0,269.9 495.3,269.7 495.6,269.6 495.9,269.4 496.2,269.2 496.5,269.0 496.8,268.8 497.1,268.7 497.4,268.5 497.7,268.3 498.0,268.2 498.3,268.0 498.6,267.8 498.9,267.7 499.2,267.5 499.5,267.4 499.8,267.2 500.1,267.1 500.4,267.0 500.7,266.8 501.0,266.7 501.3,266.6 501.6,266.4 501.9,266.3 502.2,266.2 502.5,266.1 502.8,266.0 503.1,265.8 503.4,265.7 503.7,265.6 504.0,265.5 504.3,265.4 504.6,265.3 504.9,265.3 505.2,265.2 505.5,265.1 505.8,265.0 506.1,264.9 506.4,264.8 506.7,264.8 507.0,264.7 507.3,264.6 507.6,264.6 507.9,264.5 508.2,264.5 508.5,264.4 508.8,264.4 509.1,264.3 509.4,264.3 509.7,264.2 510.0,264.2 510.3,264.2 510.6,264.1 510.9,264.1 511.2,264.1 511.5,264.1 511.8,264.0 512.1,264.0 512.4,264.0 512.7,264.0 513.0,264.0 513.3,264.0 513.6,264.0 513.9,264.0 514.2,264.0 514.5,264.0 514.8,264.0 515.1,264.1 515.4,264.1 515.7,264.1 516.0,264.1 516.3,264.2 516.6,264.2 516.9,264.2 517.2,264.3 517.5,264.3 517.8,264.3 518.1,264.4 518.4,264.4 518.7,264.5 519.0,264.6 519.3,264.6 519.6,264.7 519.9,264.7 520.2,264.8 520.5,264.9 520.8,265.0 521.1,265.0 521.4,265.1 521.7,265.2 522.0,265.3 522.3,265.4 522.6,265.5 522.9,265.6 523.2,265.7 523.5,265.8 523.8,265.9 524.1,266.0 524.4,266.1 524.7,266.2 525.0,266.3 525.3,266.4 525.6,266.6 525.9,266.7 526.2,266.8 526.5,267.0 526.8,267.1 527.1,267.2 527.4,267.4 527.7,267.5 528.0,267.7 528.3,267.8 528.6,268.0 528.9,268.1 529.2,268.3 529.5,268.4 529.8,268.6 530.1,268.8 530.4,269.0 530.7,269.1 531.0,269.3 531.3,269.5 531.6,269.7 531.9,269.9 532.2,270.1 532.5,270.2 532.8,270.4 533.1,270.6 533.4,270.8 533.7,271.1 534.0,271.3 534.3,271.5 534.6,271.7 534.9,271.9 535.2,272.1 535.5,272.4 535.8,272.6 536.1,272.8 536.4,273.0 536.7,273.3 537.0,273.5 537.3,273.8 537.6,274.0 537.9,274.3 538.2,274.5 538.5,274.8 538.8,275.0 539.1,275.3 539.4,275.5 539.7,275.8 540.0,276.1 540.3,276.4 540.6,276.6" fill="none" stroke="#f00" stroke-width="0.6" stroke-linejoin="round" /><circle cx="476.4" cy="280.7" r="0.60" fill="#f00"/><circle cx="478.1" cy="278.4" r="0.60" fill="#f00"/><circle cx="479.8" cy="276.2" r="0.60" fill="#f00"/><circle cx="481.6" cy="274.0" r="0.60" fill="#f00"/><circle cx="483.4" cy="271.9" r="0.60" fill="#f00"/><circle cx="485.3" cy="269.9" r="0.60" fill="#f00"/><circle cx="487.3" cy="267.9" r="0.60" fill="#f00"/><circle cx="489.3" cy="266.1" r="0.60" fill="#f00"/><circle cx="491.4" cy="264.4" r="0.60" fill="#f00"/><circle cx="493.6" cy="262.8" r="0.60" fill="#f00"/><circle cx="495.9" cy="261.3" r="0.60" fill="#f00"/><circle cx="498.3" cy="260.0" r="0.60" fill="#f00"/><circle cx="500.8" cy="258.8" r="0.60" fill="#f00"/><circle cx="503.4" cy="257.9" r="0.60" fill="#f00"/><circle cx="506.1" cy="257.2" r="0.60" fill="#f00"/><circle cx="508.8" cy="256.9" r="0.60" fill="#f00"/><circle cx="511.5" cy="256.8" r="0.60" fill="#f00"/><circle cx="514.2" cy="257.0" r="0.60" fill="#f00"/><circle cx="516.9" cy="257.3" r="0.60" fill="#f00"/><circle cx="519.6" cy="257.9" r="0.60" fill="#f00"/><circle cx="522.2" cy="258.7" r="0.60" fill="#f00"/><circle cx="524.8" cy="259.7" r="0.60" fill="#f00"/><circle cx="527.3" cy="260.8" r="0.60" fill="#f00"/><circle cx="529.7" cy="262.0" r="0.60" fill="#f00"/><circle cx="532.1" cy="263.5" r="0.60" fill="#f00"/><circle cx="534.4" cy="265.0" r="0.60" fill="#f00"/><circle cx="536.6" cy="266.6" r="0.60" fill="#f00"/><circle cx="538.8" cy="268.3" r="0.60" fill="#f00"/></g><rect x="476.4" y="254.0" width="64.3" height="26.9" fill="none" stroke="#b0b0b0" stroke-width="0.85"/><text transform="translate(475.40 259.20) scale(0.920 1)" font-size="5.20" text-anchor="end" font-family="'Liberation Serif', serif" fill="#111" stroke="#111" stroke-width="0.12" font-weight="normal" >1.52</text><text transform="translate(475.40 268.20) scale(0.920 1)" font-size="5.20" text-anchor="end" font-family="'Liberation Serif', serif" fill="#111" stroke="#111" stroke-width="0.12" font-weight="normal" >1.5</text><text transform="translate(475.40 277.20) scale(0.920 1)" font-size="5.20" text-anchor="end" font-family="'Liberation Serif', serif" fill="#111" stroke="#111" stroke-width="0.12" font-weight="normal" >1.48</text><text transform="translate(482.00 285.90) scale(0.860 1)" font-size="5.00" text-anchor="middle" font-family="'Liberation Serif', serif" fill="#111" stroke="#111" stroke-width="0.12" font-weight="normal" >4.058</text><text transform="translate(504.30 285.90) scale(0.860 1)" font-size="5.00" text-anchor="middle" font-family="'Liberation Serif', serif" fill="#111" stroke="#111" stroke-width="0.12" font-weight="normal" >4.0585</text><text transform="translate(527.20 285.90) scale(0.860 1)" font-size="5.00" text-anchor="middle" font-family="'Liberation Serif', serif" fill="#111" stroke="#111" stroke-width="0.12" font-weight="normal" >4.059</text><path d="M476.4 257.3h1.3M540.7 257.3h-1.3 M476.4 266.3h1.3M540.7 266.3h-1.3 M476.4 275.3h1.3M540.7 275.3h-1.3 M482.0 280.9v-1.3M482.0 254.0v1.3 M504.3 280.9v-1.3M504.3 254.0v1.3 M527.2 280.9v-1.3M527.2 254.0v1.3" stroke="#999" stroke-width="0.5" fill="none"/><rect x="109.4" y="15.6" width="8.2" height="6.6" fill="none" stroke="#a8a8a8" stroke-width="0.55"/><line x1="225.3" y1="106.6" x2="120.5" y2="25.2" stroke="#555" stroke-width="0.4"/><polygon points="118.0,23.2 121.3,24.1 119.7,26.2" fill="#111"/><rect x="374.8" y="24.4" width="6.8" height="6.3" fill="none" stroke="#a8a8a8" stroke-width="0.55"/><polygon points="376.2,33.4 375.2,36.7 373.2,35.0" fill="#111"/><rect x="115.3" y="264.3" width="7.0" height="6.1" fill="none" stroke="#a8a8a8" stroke-width="0.55"/><line x1="122.3" y1="270.0" x2="172.8" y2="274.0" stroke="#555" stroke-width="0.4"/><polygon points="176.0,274.2 172.7,275.2 172.9,272.7" fill="#111"/><rect x="372.3" y="175.5" width="9.6" height="7.8" fill="none" stroke="#a8a8a8" stroke-width="0.55"/><line x1="381.9" y1="183.3" x2="467.0" y2="249.6" stroke="#555" stroke-width="0.4"/><polygon points="469.5,251.6 466.2,250.7 467.8,248.6" fill="#111"/></svg>
</body></html>
